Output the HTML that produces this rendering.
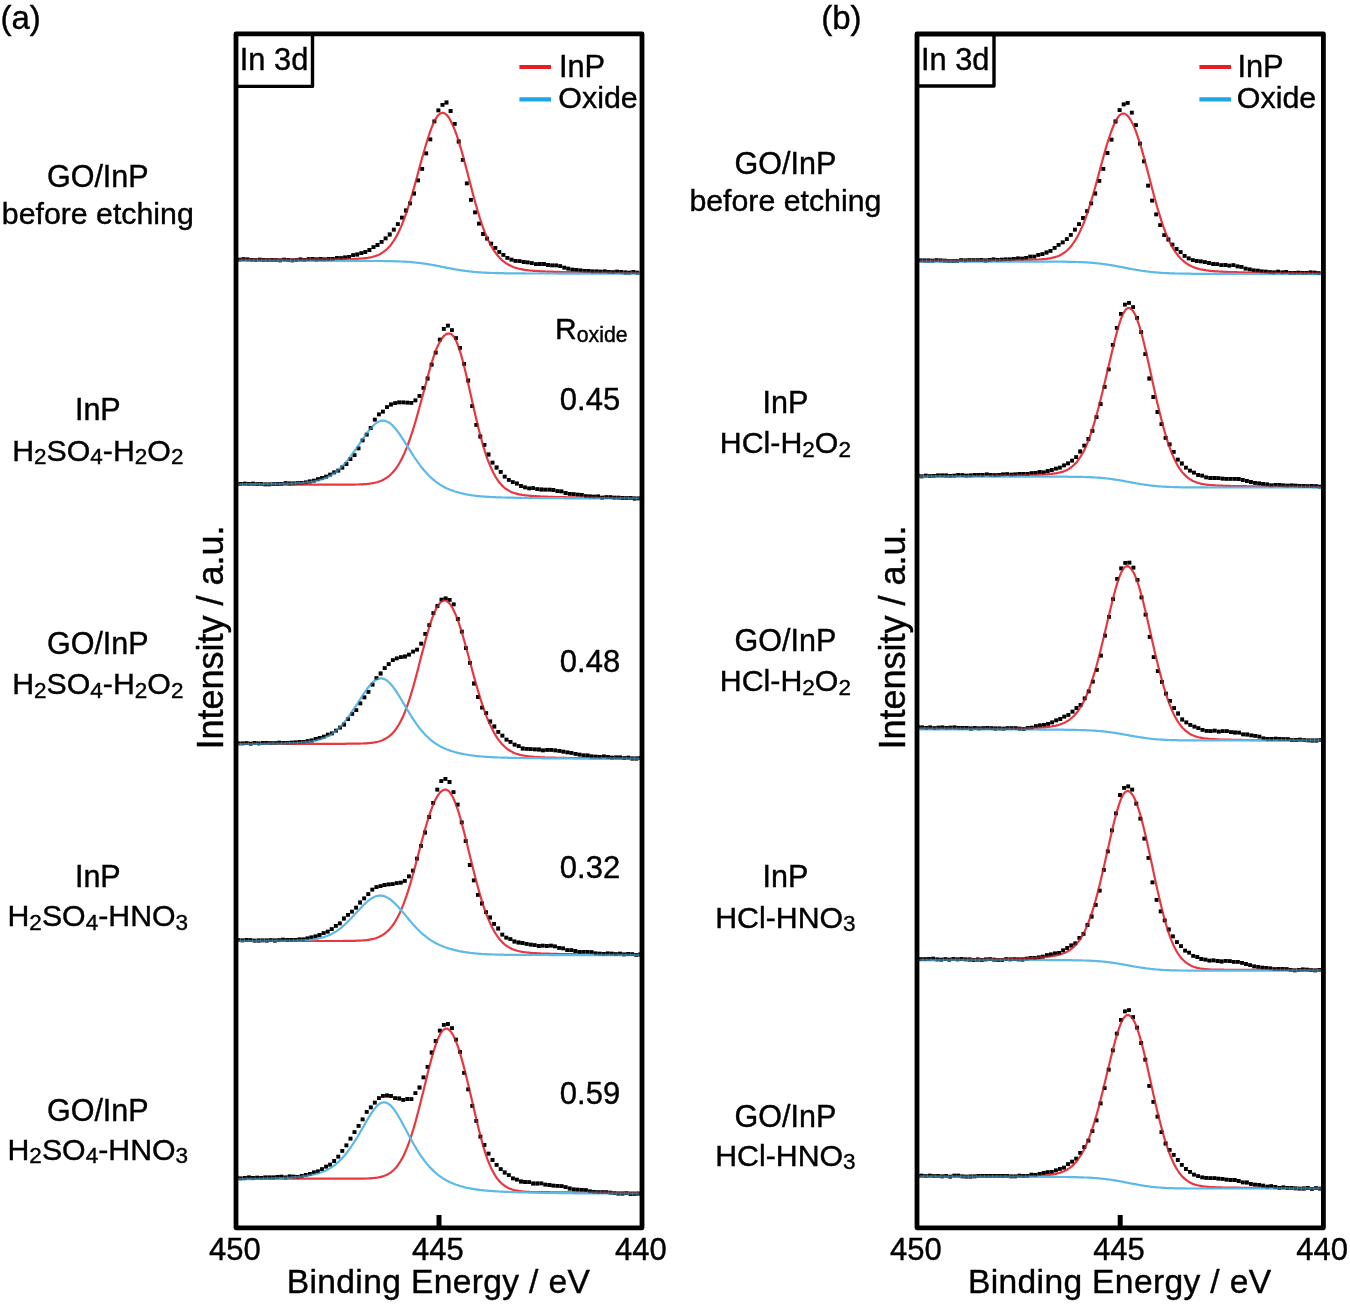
<!DOCTYPE html>
<html><head><meta charset="utf-8"><title>In 3d XPS spectra</title>
<style>html,body{margin:0;padding:0;background:#fff;} body{width:1350px;height:1305px;overflow:hidden;} svg{display:block;filter:blur(0.45px);}</style>
</head><body>
<svg width="1350" height="1305" viewBox="0 0 1350 1305"><rect width="1350" height="1305" fill="#fff"/><path d="M237.6,257.8h3.8v3.8h-3.8zM241.6,257.3h3.8v3.8h-3.8zM245.7,257.5h3.8v3.8h-3.8zM249.8,258.0h3.8v3.8h-3.8zM253.8,258.2h3.8v3.8h-3.8zM257.9,257.8h3.8v3.8h-3.8zM261.9,258.1h3.8v3.8h-3.8zM266.0,258.2h3.8v3.8h-3.8zM270.1,258.1h3.8v3.8h-3.8zM274.1,258.3h3.8v3.8h-3.8zM278.2,258.4h3.8v3.8h-3.8zM282.2,257.8h3.8v3.8h-3.8zM286.3,258.1h3.8v3.8h-3.8zM290.4,258.4h3.8v3.8h-3.8zM294.4,258.2h3.8v3.8h-3.8zM298.5,257.4h3.8v3.8h-3.8zM302.5,258.0h3.8v3.8h-3.8zM306.6,257.2h3.8v3.8h-3.8zM310.7,256.9h3.8v3.8h-3.8zM314.7,257.6h3.8v3.8h-3.8zM318.8,257.1h3.8v3.8h-3.8zM322.8,257.4h3.8v3.8h-3.8zM326.9,257.1h3.8v3.8h-3.8zM331.0,257.0h3.8v3.8h-3.8zM335.0,255.9h3.8v3.8h-3.8zM339.1,256.2h3.8v3.8h-3.8zM343.1,255.6h3.8v3.8h-3.8zM347.2,255.0h3.8v3.8h-3.8zM351.2,253.2h3.8v3.8h-3.8zM355.3,252.6h3.8v3.8h-3.8zM359.4,251.3h3.8v3.8h-3.8zM363.4,250.1h3.8v3.8h-3.8zM367.5,248.1h3.8v3.8h-3.8zM371.6,245.3h3.8v3.8h-3.8zM375.6,243.1h3.8v3.8h-3.8zM379.7,239.9h3.8v3.8h-3.8zM383.7,236.4h3.8v3.8h-3.8zM387.8,232.6h3.8v3.8h-3.8zM391.9,227.7h3.8v3.8h-3.8zM395.9,222.3h3.8v3.8h-3.8zM400.0,215.7h3.8v3.8h-3.8zM404.0,208.6h3.8v3.8h-3.8zM408.1,201.4h3.8v3.8h-3.8zM412.1,191.6h3.8v3.8h-3.8zM416.2,178.5h3.8v3.8h-3.8zM420.3,167.0h3.8v3.8h-3.8zM424.3,151.4h3.8v3.8h-3.8zM428.4,137.5h3.8v3.8h-3.8zM432.5,119.5h3.8v3.8h-3.8zM436.5,108.4h3.8v3.8h-3.8zM440.6,103.0h3.8v3.8h-3.8zM444.6,100.6h3.8v3.8h-3.8zM448.7,109.1h3.8v3.8h-3.8zM452.8,121.9h3.8v3.8h-3.8zM456.8,139.6h3.8v3.8h-3.8zM460.9,158.0h3.8v3.8h-3.8zM464.9,181.5h3.8v3.8h-3.8zM469.0,198.0h3.8v3.8h-3.8zM473.1,210.5h3.8v3.8h-3.8zM477.1,221.8h3.8v3.8h-3.8zM481.2,232.1h3.8v3.8h-3.8zM485.2,236.8h3.8v3.8h-3.8zM489.3,241.8h3.8v3.8h-3.8zM493.4,245.9h3.8v3.8h-3.8zM497.4,249.9h3.8v3.8h-3.8zM501.5,253.0h3.8v3.8h-3.8zM505.5,256.0h3.8v3.8h-3.8zM509.6,257.7h3.8v3.8h-3.8zM513.6,259.0h3.8v3.8h-3.8zM517.7,259.3h3.8v3.8h-3.8zM521.8,260.1h3.8v3.8h-3.8zM525.8,260.5h3.8v3.8h-3.8zM529.9,261.2h3.8v3.8h-3.8zM534.0,262.3h3.8v3.8h-3.8zM538.0,262.1h3.8v3.8h-3.8zM542.1,262.1h3.8v3.8h-3.8zM546.1,263.1h3.8v3.8h-3.8zM550.2,263.5h3.8v3.8h-3.8zM554.2,263.5h3.8v3.8h-3.8zM558.3,264.2h3.8v3.8h-3.8zM562.4,265.8h3.8v3.8h-3.8zM566.4,266.7h3.8v3.8h-3.8zM570.5,267.7h3.8v3.8h-3.8zM574.5,268.0h3.8v3.8h-3.8zM578.6,268.5h3.8v3.8h-3.8zM582.7,268.9h3.8v3.8h-3.8zM586.7,269.0h3.8v3.8h-3.8zM590.8,269.6h3.8v3.8h-3.8zM594.9,269.5h3.8v3.8h-3.8zM598.9,269.8h3.8v3.8h-3.8zM603.0,269.5h3.8v3.8h-3.8zM607.0,269.9h3.8v3.8h-3.8zM611.1,270.3h3.8v3.8h-3.8zM615.1,269.8h3.8v3.8h-3.8zM619.2,270.0h3.8v3.8h-3.8zM623.3,270.6h3.8v3.8h-3.8zM627.3,270.8h3.8v3.8h-3.8zM631.4,270.1h3.8v3.8h-3.8zM635.4,270.8h3.8v3.8h-3.8z" fill="#000"/><path d="M238.4,259.6 239.4,259.6 240.4,259.6 241.4,259.6 242.4,259.6 243.4,259.6 244.4,259.6 245.4,259.6 246.4,259.6 247.4,259.6 248.4,259.6 249.4,259.6 250.4,259.6 251.4,259.6 252.4,259.6 253.4,259.6 254.4,259.6 255.5,259.6 256.5,259.6 257.5,259.6 258.5,259.6 259.5,259.6 260.5,259.5 261.5,259.5 262.5,259.5 263.5,259.5 264.5,259.5 265.5,259.5 266.5,259.5 267.5,259.5 268.5,259.5 269.5,259.5 270.5,259.5 271.5,259.5 272.5,259.5 273.5,259.5 274.5,259.5 275.5,259.5 276.5,259.5 277.5,259.5 278.5,259.5 279.5,259.5 280.5,259.5 281.5,259.5 282.5,259.5 283.5,259.5 284.5,259.5 285.5,259.5 286.5,259.5 287.5,259.5 288.6,259.5 289.6,259.5 290.6,259.5 291.6,259.5 292.6,259.5 293.6,259.5 294.6,259.5 295.6,259.5 296.6,259.5 297.6,259.5 298.6,259.5 299.6,259.5 300.6,259.5 301.6,259.5 302.6,259.4 303.6,259.4 304.6,259.4 305.6,259.4 306.6,259.4 307.6,259.4 308.6,259.4 309.6,259.4 310.6,259.4 311.6,259.4 312.6,259.4 313.6,259.4 314.6,259.4 315.6,259.4 316.6,259.4 317.6,259.4 318.6,259.4 319.6,259.4 320.6,259.4 321.6,259.4 322.7,259.4 323.7,259.4 324.7,259.3 325.7,259.3 326.7,259.3 327.7,259.3 328.7,259.3 329.7,259.3 330.7,259.3 331.7,259.3 332.7,259.3 333.7,259.3 334.7,259.3 335.7,259.3 336.7,259.3 337.7,259.3 338.7,259.2 339.7,259.2 340.7,259.2 341.7,259.2 342.7,259.2 343.7,259.2 344.7,259.2 345.7,259.2 346.7,259.1 347.7,259.1 348.7,259.1 349.7,259.1 350.7,259.1 351.7,259.0 352.7,259.0 353.7,259.0 354.7,258.9 355.8,258.9 356.8,258.8 357.8,258.8 358.8,258.7 359.8,258.7 360.8,258.6 361.8,258.5 362.8,258.4 363.8,258.4 364.8,258.2 365.8,258.1 366.8,258.0 367.8,257.8 368.8,257.7 369.8,257.5 370.8,257.3 371.8,257.1 372.8,256.8 373.8,256.5 374.8,256.2 375.8,255.9 376.8,255.5 377.8,255.1 378.8,254.7 379.8,254.2 380.8,253.6 381.8,253.0 382.8,252.4 383.8,251.7 384.8,250.9 385.8,250.1 386.8,249.2 387.8,248.2 388.9,247.1 389.9,246.0 390.9,244.8 391.9,243.4 392.9,242.0 393.9,240.5 394.9,238.9 395.9,237.2 396.9,235.4 397.9,233.5 398.9,231.5 399.9,229.3 400.9,227.1 401.9,224.7 402.9,222.2 403.9,219.6 404.9,216.9 405.9,214.1 406.9,211.2 407.9,208.1 408.9,205.0 409.9,201.8 410.9,198.5 411.9,195.1 412.9,191.6 413.9,188.1 414.9,184.5 415.9,180.9 416.9,177.2 417.9,173.5 418.9,169.8 419.9,166.1 420.9,162.4 421.9,158.7 423.0,155.1 424.0,151.5 425.0,148.0 426.0,144.6 427.0,141.3 428.0,138.1 429.0,135.0 430.0,132.1 431.0,129.3 432.0,126.7 433.0,124.3 434.0,122.1 435.0,120.1 436.0,118.3 437.0,116.8 438.0,115.5 439.0,114.5 440.0,113.7 441.0,113.2 442.0,112.9 443.0,112.9 444.0,113.1 445.0,113.6 446.0,114.3 447.0,115.3 448.0,116.5 449.0,117.9 450.0,119.5 451.0,121.4 452.0,123.4 453.0,125.7 454.0,128.1 455.0,130.7 456.1,133.5 457.1,136.4 458.1,139.4 459.1,142.6 460.1,145.9 461.1,149.3 462.1,152.8 463.1,156.4 464.1,160.1 465.1,163.9 466.1,167.6 467.1,171.5 468.1,175.3 469.1,179.2 470.1,183.1 471.1,186.9 472.1,190.8 473.1,194.6 474.1,198.3 475.1,202.0 476.1,205.5 477.1,209.0 478.1,212.4 479.1,215.7 480.1,218.9 481.1,222.0 482.1,225.0 483.1,227.8 484.1,230.5 485.1,233.1 486.1,235.5 487.1,237.8 488.1,240.0 489.2,242.1 490.2,244.1 491.2,246.0 492.2,247.7 493.2,249.4 494.2,250.9 495.2,252.4 496.2,253.7 497.2,255.0 498.2,256.2 499.2,257.3 500.2,258.4 501.2,259.4 502.2,260.3 503.2,261.1 504.2,261.9 505.2,262.7 506.2,263.4 507.2,264.0 508.2,264.6 509.2,265.1 510.2,265.6 511.2,266.1 512.2,266.5 513.2,267.0 514.2,267.3 515.2,267.7 516.2,268.0 517.2,268.3 518.2,268.5 519.2,268.8 520.2,269.0 521.2,269.2 522.2,269.4 523.3,269.6 524.3,269.8 525.3,269.9 526.3,270.1 527.3,270.2 528.3,270.3 529.3,270.4 530.3,270.5 531.3,270.6 532.3,270.7 533.3,270.8 534.3,270.9 535.3,270.9 536.3,271.0 537.3,271.1 538.3,271.1 539.3,271.2 540.3,271.3 541.3,271.3 542.3,271.4 543.3,271.4 544.3,271.4 545.3,271.5 546.3,271.5 547.3,271.6 548.3,271.6 549.3,271.6 550.3,271.7 551.3,271.7 552.3,271.7 553.3,271.8 554.3,271.8 555.3,271.8 556.4,271.9 557.4,271.9 558.4,271.9 559.4,271.9 560.4,272.0 561.4,272.0 562.4,272.0 563.4,272.0 564.4,272.1 565.4,272.1 566.4,272.1 567.4,272.1 568.4,272.1 569.4,272.2 570.4,272.2 571.4,272.2 572.4,272.2 573.4,272.2 574.4,272.3 575.4,272.3 576.4,272.3 577.4,272.3 578.4,272.3 579.4,272.3 580.4,272.4 581.4,272.4 582.4,272.4 583.4,272.4 584.4,272.4 585.4,272.4 586.4,272.4 587.4,272.5 588.4,272.5 589.5,272.5 590.5,272.5 591.5,272.5 592.5,272.5 593.5,272.5 594.5,272.5 595.5,272.6 596.5,272.6 597.5,272.6 598.5,272.6 599.5,272.6 600.5,272.6 601.5,272.6 602.5,272.6 603.5,272.6 604.5,272.7 605.5,272.7 606.5,272.7 607.5,272.7 608.5,272.7 609.5,272.7 610.5,272.7 611.5,272.7 612.5,272.7 613.5,272.7 614.5,272.7 615.5,272.8 616.5,272.8 617.5,272.8 618.5,272.8 619.5,272.8 620.5,272.8 621.5,272.8 622.5,272.8 623.6,272.8 624.6,272.8 625.6,272.8 626.6,272.8 627.6,272.8 628.6,272.8 629.6,272.9 630.6,272.9 631.6,272.9 632.6,272.9 633.6,272.9 634.6,272.9 635.6,272.9 636.6,272.9 637.6,272.9 638.6,272.9 639.6,272.9" fill="none" stroke="#e8383f" stroke-width="2.2"/><path d="M238.4,260.9 239.4,260.9 240.4,260.9 241.4,260.9 242.4,260.9 243.4,260.9 244.4,260.9 245.4,260.9 246.4,260.9 247.4,260.9 248.4,260.9 249.4,260.9 250.4,260.9 251.4,260.9 252.4,260.9 253.4,260.9 254.4,260.9 255.5,260.9 256.5,260.9 257.5,260.9 258.5,260.9 259.5,260.9 260.5,260.9 261.5,260.9 262.5,260.9 263.5,260.9 264.5,260.9 265.5,260.9 266.5,260.9 267.5,260.9 268.5,260.9 269.5,260.9 270.5,260.9 271.5,260.9 272.5,260.9 273.5,260.9 274.5,260.9 275.5,260.9 276.5,260.9 277.5,260.9 278.5,260.9 279.5,260.9 280.5,260.9 281.5,260.9 282.5,260.9 283.5,260.9 284.5,260.9 285.5,260.9 286.5,260.9 287.5,260.9 288.6,260.9 289.6,260.9 290.6,260.9 291.6,260.9 292.6,260.9 293.6,260.9 294.6,260.9 295.6,260.9 296.6,260.9 297.6,260.9 298.6,260.9 299.6,260.9 300.6,260.9 301.6,260.9 302.6,260.9 303.6,260.9 304.6,260.9 305.6,260.9 306.6,260.9 307.6,260.9 308.6,260.9 309.6,260.9 310.6,260.9 311.6,260.9 312.6,260.9 313.6,260.9 314.6,260.9 315.6,260.9 316.6,260.9 317.6,260.9 318.6,260.9 319.6,260.9 320.6,260.9 321.6,260.9 322.7,260.9 323.7,260.9 324.7,260.9 325.7,260.9 326.7,260.9 327.7,260.9 328.7,260.9 329.7,260.9 330.7,260.9 331.7,260.9 332.7,260.9 333.7,260.9 334.7,260.9 335.7,260.9 336.7,260.9 337.7,260.9 338.7,260.9 339.7,260.9 340.7,260.9 341.7,260.9 342.7,260.9 343.7,260.9 344.7,260.9 345.7,260.9 346.7,260.9 347.7,260.9 348.7,260.9 349.7,260.9 350.7,260.9 351.7,260.9 352.7,260.9 353.7,260.9 354.7,260.9 355.8,260.9 356.8,260.9 357.8,260.9 358.8,260.9 359.8,260.9 360.8,260.9 361.8,260.9 362.8,260.9 363.8,260.9 364.8,260.9 365.8,260.9 366.8,261.0 367.8,261.0 368.8,261.0 369.8,261.0 370.8,261.0 371.8,261.0 372.8,261.0 373.8,261.0 374.8,261.0 375.8,261.0 376.8,261.0 377.8,261.0 378.8,261.0 379.8,261.0 380.8,261.0 381.8,261.0 382.8,261.0 383.8,261.0 384.8,261.1 385.8,261.1 386.8,261.1 387.8,261.1 388.9,261.1 389.9,261.1 390.9,261.2 391.9,261.2 392.9,261.2 393.9,261.2 394.9,261.3 395.9,261.3 396.9,261.3 397.9,261.4 398.9,261.4 399.9,261.4 400.9,261.5 401.9,261.5 402.9,261.6 403.9,261.6 404.9,261.7 405.9,261.7 406.9,261.8 407.9,261.9 408.9,261.9 409.9,262.0 410.9,262.1 411.9,262.2 412.9,262.3 413.9,262.4 414.9,262.5 415.9,262.6 416.9,262.7 417.9,262.8 418.9,262.9 419.9,263.0 420.9,263.2 421.9,263.3 423.0,263.4 424.0,263.6 425.0,263.7 426.0,263.9 427.0,264.0 428.0,264.2 429.0,264.4 430.0,264.5 431.0,264.7 432.0,264.9 433.0,265.1 434.0,265.2 435.0,265.4 436.0,265.6 437.0,265.8 438.0,266.0 439.0,266.2 440.0,266.4 441.0,266.6 442.0,266.8 443.0,267.0 444.0,267.2 445.0,267.4 446.0,267.6 447.0,267.8 448.0,268.0 449.0,268.2 450.0,268.4 451.0,268.6 452.0,268.7 453.0,268.9 454.0,269.1 455.0,269.3 456.1,269.5 457.1,269.6 458.1,269.8 459.1,270.0 460.1,270.1 461.1,270.3 462.1,270.4 463.1,270.6 464.1,270.7 465.1,270.9 466.1,271.0 467.1,271.1 468.1,271.2 469.1,271.4 470.1,271.5 471.1,271.6 472.1,271.7 473.1,271.8 474.1,271.9 475.1,272.0 476.1,272.1 477.1,272.1 478.1,272.2 479.1,272.3 480.1,272.4 481.1,272.4 482.1,272.5 483.1,272.6 484.1,272.6 485.1,272.7 486.1,272.7 487.1,272.8 488.1,272.8 489.2,272.9 490.2,272.9 491.2,272.9 492.2,273.0 493.2,273.0 494.2,273.0 495.2,273.1 496.2,273.1 497.2,273.1 498.2,273.1 499.2,273.2 500.2,273.2 501.2,273.2 502.2,273.2 503.2,273.2 504.2,273.3 505.2,273.3 506.2,273.3 507.2,273.3 508.2,273.3 509.2,273.3 510.2,273.3 511.2,273.4 512.2,273.4 513.2,273.4 514.2,273.4 515.2,273.4 516.2,273.4 517.2,273.4 518.2,273.4 519.2,273.4 520.2,273.4 521.2,273.4 522.2,273.4 523.3,273.4 524.3,273.4 525.3,273.5 526.3,273.5 527.3,273.5 528.3,273.5 529.3,273.5 530.3,273.5 531.3,273.5 532.3,273.5 533.3,273.5 534.3,273.5 535.3,273.5 536.3,273.5 537.3,273.5 538.3,273.5 539.3,273.5 540.3,273.5 541.3,273.5 542.3,273.5 543.3,273.5 544.3,273.5 545.3,273.5 546.3,273.5 547.3,273.5 548.3,273.5 549.3,273.5 550.3,273.5 551.3,273.5 552.3,273.5 553.3,273.5 554.3,273.5 555.3,273.5 556.4,273.5 557.4,273.6 558.4,273.6 559.4,273.6 560.4,273.6 561.4,273.6 562.4,273.6 563.4,273.6 564.4,273.6 565.4,273.6 566.4,273.6 567.4,273.6 568.4,273.6 569.4,273.6 570.4,273.6 571.4,273.6 572.4,273.6 573.4,273.6 574.4,273.6 575.4,273.6 576.4,273.6 577.4,273.6 578.4,273.6 579.4,273.6 580.4,273.6 581.4,273.6 582.4,273.6 583.4,273.6 584.4,273.6 585.4,273.6 586.4,273.6 587.4,273.6 588.4,273.6 589.5,273.6 590.5,273.6 591.5,273.6 592.5,273.6 593.5,273.6 594.5,273.6 595.5,273.6 596.5,273.6 597.5,273.6 598.5,273.6 599.5,273.6 600.5,273.6 601.5,273.6 602.5,273.6 603.5,273.6 604.5,273.6 605.5,273.6 606.5,273.6 607.5,273.6 608.5,273.6 609.5,273.6 610.5,273.6 611.5,273.6 612.5,273.6 613.5,273.6 614.5,273.6 615.5,273.6 616.5,273.6 617.5,273.6 618.5,273.6 619.5,273.6 620.5,273.6 621.5,273.6 622.5,273.6 623.6,273.6 624.6,273.6 625.6,273.6 626.6,273.6 627.6,273.6 628.6,273.6 629.6,273.6 630.6,273.7 631.6,273.7 632.6,273.7 633.6,273.7 634.6,273.7 635.6,273.7 636.6,273.7 637.6,273.7 638.6,273.7 639.6,273.7" fill="none" stroke="#5db9e6" stroke-width="2.2"/><path d="M237.6,257.8h3.8v3.8h-3.8zM241.6,257.3h3.8v3.8h-3.8zM245.7,257.5h3.8v3.8h-3.8zM249.8,258.0h3.8v3.8h-3.8zM253.8,258.2h3.8v3.8h-3.8zM257.9,257.8h3.8v3.8h-3.8zM261.9,258.1h3.8v3.8h-3.8zM266.0,258.2h3.8v3.8h-3.8zM270.1,258.1h3.8v3.8h-3.8zM274.1,258.3h3.8v3.8h-3.8zM278.2,258.4h3.8v3.8h-3.8zM282.2,257.8h3.8v3.8h-3.8zM286.3,258.1h3.8v3.8h-3.8zM290.4,258.4h3.8v3.8h-3.8zM294.4,258.2h3.8v3.8h-3.8zM298.5,257.4h3.8v3.8h-3.8zM302.5,258.0h3.8v3.8h-3.8zM306.6,257.2h3.8v3.8h-3.8zM310.7,256.9h3.8v3.8h-3.8zM314.7,257.6h3.8v3.8h-3.8zM318.8,257.1h3.8v3.8h-3.8zM322.8,257.4h3.8v3.8h-3.8zM326.9,257.1h3.8v3.8h-3.8zM331.0,257.0h3.8v3.8h-3.8zM335.0,255.9h3.8v3.8h-3.8zM339.1,256.2h3.8v3.8h-3.8zM343.1,255.6h3.8v3.8h-3.8zM347.2,255.0h3.8v3.8h-3.8zM351.2,253.2h3.8v3.8h-3.8zM355.3,252.6h3.8v3.8h-3.8zM359.4,251.3h3.8v3.8h-3.8zM363.4,250.1h3.8v3.8h-3.8zM367.5,248.1h3.8v3.8h-3.8zM371.6,245.3h3.8v3.8h-3.8zM375.6,243.1h3.8v3.8h-3.8zM379.7,239.9h3.8v3.8h-3.8zM383.7,236.4h3.8v3.8h-3.8zM387.8,232.6h3.8v3.8h-3.8zM391.9,227.7h3.8v3.8h-3.8zM395.9,222.3h3.8v3.8h-3.8zM400.0,215.7h3.8v3.8h-3.8zM404.0,208.6h3.8v3.8h-3.8zM408.1,201.4h3.8v3.8h-3.8zM412.1,191.6h3.8v3.8h-3.8zM416.2,178.5h3.8v3.8h-3.8zM420.3,167.0h3.8v3.8h-3.8zM424.3,151.4h3.8v3.8h-3.8zM428.4,137.5h3.8v3.8h-3.8zM432.5,119.5h3.8v3.8h-3.8zM436.5,108.4h3.8v3.8h-3.8zM440.6,103.0h3.8v3.8h-3.8zM444.6,100.6h3.8v3.8h-3.8zM448.7,109.1h3.8v3.8h-3.8zM452.8,121.9h3.8v3.8h-3.8zM456.8,139.6h3.8v3.8h-3.8zM460.9,158.0h3.8v3.8h-3.8zM464.9,181.5h3.8v3.8h-3.8zM469.0,198.0h3.8v3.8h-3.8zM473.1,210.5h3.8v3.8h-3.8zM477.1,221.8h3.8v3.8h-3.8zM481.2,232.1h3.8v3.8h-3.8zM485.2,236.8h3.8v3.8h-3.8zM489.3,241.8h3.8v3.8h-3.8zM493.4,245.9h3.8v3.8h-3.8zM497.4,249.9h3.8v3.8h-3.8zM501.5,253.0h3.8v3.8h-3.8zM505.5,256.0h3.8v3.8h-3.8zM509.6,257.7h3.8v3.8h-3.8zM513.6,259.0h3.8v3.8h-3.8zM517.7,259.3h3.8v3.8h-3.8zM521.8,260.1h3.8v3.8h-3.8zM525.8,260.5h3.8v3.8h-3.8zM529.9,261.2h3.8v3.8h-3.8zM534.0,262.3h3.8v3.8h-3.8zM538.0,262.1h3.8v3.8h-3.8zM542.1,262.1h3.8v3.8h-3.8zM546.1,263.1h3.8v3.8h-3.8zM550.2,263.5h3.8v3.8h-3.8zM554.2,263.5h3.8v3.8h-3.8zM558.3,264.2h3.8v3.8h-3.8zM562.4,265.8h3.8v3.8h-3.8zM566.4,266.7h3.8v3.8h-3.8zM570.5,267.7h3.8v3.8h-3.8zM574.5,268.0h3.8v3.8h-3.8zM578.6,268.5h3.8v3.8h-3.8zM582.7,268.9h3.8v3.8h-3.8zM586.7,269.0h3.8v3.8h-3.8zM590.8,269.6h3.8v3.8h-3.8zM594.9,269.5h3.8v3.8h-3.8zM598.9,269.8h3.8v3.8h-3.8zM603.0,269.5h3.8v3.8h-3.8zM607.0,269.9h3.8v3.8h-3.8zM611.1,270.3h3.8v3.8h-3.8zM615.1,269.8h3.8v3.8h-3.8zM619.2,270.0h3.8v3.8h-3.8zM623.3,270.6h3.8v3.8h-3.8zM627.3,270.8h3.8v3.8h-3.8zM631.4,270.1h3.8v3.8h-3.8zM635.4,270.8h3.8v3.8h-3.8z" fill="#000" fill-opacity="0.45"/><path d="M234.8,482.3h3.8v3.8h-3.8zM238.9,481.9h3.8v3.8h-3.8zM243.0,481.8h3.8v3.8h-3.8zM247.0,481.9h3.8v3.8h-3.8zM251.1,481.8h3.8v3.8h-3.8zM255.2,482.2h3.8v3.8h-3.8zM259.2,482.0h3.8v3.8h-3.8zM263.3,482.4h3.8v3.8h-3.8zM267.3,482.4h3.8v3.8h-3.8zM271.4,482.2h3.8v3.8h-3.8zM275.5,482.1h3.8v3.8h-3.8zM279.5,481.9h3.8v3.8h-3.8zM283.6,481.3h3.8v3.8h-3.8zM287.6,481.6h3.8v3.8h-3.8zM291.7,481.4h3.8v3.8h-3.8zM295.8,481.2h3.8v3.8h-3.8zM299.8,481.0h3.8v3.8h-3.8zM303.9,480.5h3.8v3.8h-3.8zM307.9,479.6h3.8v3.8h-3.8zM312.0,478.8h3.8v3.8h-3.8zM316.1,477.2h3.8v3.8h-3.8zM320.1,475.9h3.8v3.8h-3.8zM324.2,474.7h3.8v3.8h-3.8zM328.2,472.7h3.8v3.8h-3.8zM332.3,470.4h3.8v3.8h-3.8zM336.4,468.8h3.8v3.8h-3.8zM340.4,465.6h3.8v3.8h-3.8zM344.5,462.1h3.8v3.8h-3.8zM348.5,457.2h3.8v3.8h-3.8zM352.6,453.2h3.8v3.8h-3.8zM356.6,446.5h3.8v3.8h-3.8zM360.7,438.5h3.8v3.8h-3.8zM364.8,432.7h3.8v3.8h-3.8zM368.8,426.1h3.8v3.8h-3.8zM372.9,417.7h3.8v3.8h-3.8zM377.0,412.5h3.8v3.8h-3.8zM381.0,409.8h3.8v3.8h-3.8zM385.1,405.2h3.8v3.8h-3.8zM389.1,402.6h3.8v3.8h-3.8zM393.2,401.2h3.8v3.8h-3.8zM397.2,400.5h3.8v3.8h-3.8zM401.3,400.5h3.8v3.8h-3.8zM405.4,400.8h3.8v3.8h-3.8zM409.4,400.9h3.8v3.8h-3.8zM413.5,398.4h3.8v3.8h-3.8zM417.6,393.9h3.8v3.8h-3.8zM421.6,386.0h3.8v3.8h-3.8zM425.7,376.6h3.8v3.8h-3.8zM429.7,362.7h3.8v3.8h-3.8zM433.8,350.7h3.8v3.8h-3.8zM437.9,337.7h3.8v3.8h-3.8zM441.9,327.0h3.8v3.8h-3.8zM446.0,323.7h3.8v3.8h-3.8zM450.0,328.3h3.8v3.8h-3.8zM454.1,336.2h3.8v3.8h-3.8zM458.1,346.0h3.8v3.8h-3.8zM462.2,362.0h3.8v3.8h-3.8zM466.3,378.6h3.8v3.8h-3.8zM470.3,404.2h3.8v3.8h-3.8zM474.4,423.0h3.8v3.8h-3.8zM478.4,434.6h3.8v3.8h-3.8zM482.5,442.9h3.8v3.8h-3.8zM486.6,452.6h3.8v3.8h-3.8zM490.6,460.7h3.8v3.8h-3.8zM494.7,465.6h3.8v3.8h-3.8zM498.8,469.9h3.8v3.8h-3.8zM502.8,474.8h3.8v3.8h-3.8zM506.9,478.0h3.8v3.8h-3.8zM510.9,480.2h3.8v3.8h-3.8zM515.0,481.6h3.8v3.8h-3.8zM519.1,484.1h3.8v3.8h-3.8zM523.1,485.4h3.8v3.8h-3.8zM527.2,486.5h3.8v3.8h-3.8zM531.2,486.2h3.8v3.8h-3.8zM535.3,487.2h3.8v3.8h-3.8zM539.4,487.6h3.8v3.8h-3.8zM543.4,487.7h3.8v3.8h-3.8zM547.5,487.8h3.8v3.8h-3.8zM551.5,488.1h3.8v3.8h-3.8zM555.6,489.2h3.8v3.8h-3.8zM559.6,489.5h3.8v3.8h-3.8zM563.7,491.1h3.8v3.8h-3.8zM567.8,491.9h3.8v3.8h-3.8zM571.8,492.3h3.8v3.8h-3.8zM575.9,492.7h3.8v3.8h-3.8zM579.9,493.0h3.8v3.8h-3.8zM584.0,494.3h3.8v3.8h-3.8zM588.1,494.5h3.8v3.8h-3.8zM592.1,494.8h3.8v3.8h-3.8zM596.2,494.5h3.8v3.8h-3.8zM600.2,495.7h3.8v3.8h-3.8zM604.3,495.2h3.8v3.8h-3.8zM608.4,495.3h3.8v3.8h-3.8zM612.4,495.7h3.8v3.8h-3.8zM616.5,495.8h3.8v3.8h-3.8zM620.6,496.1h3.8v3.8h-3.8zM624.6,496.2h3.8v3.8h-3.8zM628.7,495.9h3.8v3.8h-3.8zM632.7,496.6h3.8v3.8h-3.8zM636.8,496.4h3.8v3.8h-3.8z" fill="#000"/><path d="M238.4,484.7 239.4,484.7 240.4,484.7 241.4,484.7 242.4,484.7 243.4,484.7 244.4,484.7 245.4,484.7 246.4,484.7 247.4,484.7 248.4,484.7 249.4,484.7 250.4,484.7 251.4,484.7 252.4,484.7 253.4,484.7 254.4,484.7 255.5,484.7 256.5,484.7 257.5,484.7 258.5,484.7 259.5,484.7 260.5,484.7 261.5,484.7 262.5,484.7 263.5,484.7 264.5,484.7 265.5,484.7 266.5,484.7 267.5,484.7 268.5,484.7 269.5,484.7 270.5,484.7 271.5,484.7 272.5,484.7 273.5,484.7 274.5,484.7 275.5,484.7 276.5,484.7 277.5,484.7 278.5,484.7 279.5,484.7 280.5,484.7 281.5,484.7 282.5,484.7 283.5,484.7 284.5,484.7 285.5,484.7 286.5,484.7 287.5,484.7 288.6,484.7 289.6,484.7 290.6,484.7 291.6,484.7 292.6,484.7 293.6,484.7 294.6,484.7 295.6,484.7 296.6,484.7 297.6,484.7 298.6,484.7 299.6,484.7 300.6,484.7 301.6,484.7 302.6,484.7 303.6,484.7 304.6,484.7 305.6,484.7 306.6,484.7 307.6,484.7 308.6,484.7 309.6,484.7 310.6,484.7 311.6,484.7 312.6,484.7 313.6,484.7 314.6,484.7 315.6,484.7 316.6,484.7 317.6,484.7 318.6,484.7 319.6,484.7 320.6,484.7 321.6,484.7 322.7,484.7 323.7,484.7 324.7,484.7 325.7,484.7 326.7,484.7 327.7,484.7 328.7,484.7 329.7,484.7 330.7,484.7 331.7,484.7 332.7,484.7 333.7,484.7 334.7,484.7 335.7,484.7 336.7,484.7 337.7,484.7 338.7,484.7 339.7,484.7 340.7,484.7 341.7,484.7 342.7,484.7 343.7,484.7 344.7,484.7 345.7,484.7 346.7,484.7 347.7,484.7 348.7,484.7 349.7,484.6 350.7,484.6 351.7,484.6 352.7,484.6 353.7,484.6 354.7,484.6 355.8,484.5 356.8,484.5 357.8,484.5 358.8,484.5 359.8,484.4 360.8,484.4 361.8,484.3 362.8,484.3 363.8,484.2 364.8,484.2 365.8,484.1 366.8,484.0 367.8,483.9 368.8,483.8 369.8,483.6 370.8,483.5 371.8,483.4 372.8,483.2 373.8,483.0 374.8,482.8 375.8,482.5 376.8,482.3 377.8,482.0 378.8,481.6 379.8,481.3 380.8,480.9 381.8,480.5 382.8,480.0 383.8,479.5 384.8,478.9 385.8,478.3 386.8,477.6 387.8,476.9 388.9,476.1 389.9,475.2 390.9,474.3 391.9,473.3 392.9,472.2 393.9,471.1 394.9,469.8 395.9,468.5 396.9,467.1 397.9,465.6 398.9,464.0 399.9,462.3 400.9,460.4 401.9,458.5 402.9,456.5 403.9,454.4 404.9,452.1 405.9,449.7 406.9,447.3 407.9,444.7 408.9,442.0 409.9,439.2 410.9,436.2 411.9,433.2 412.9,430.1 413.9,426.8 414.9,423.5 415.9,420.1 416.9,416.6 417.9,413.0 418.9,409.4 419.9,405.7 420.9,402.0 421.9,398.2 423.0,394.4 424.0,390.6 425.0,386.8 426.0,383.0 427.0,379.3 428.0,375.6 429.0,372.0 430.0,368.5 431.0,365.1 432.0,361.8 433.0,358.7 434.0,355.7 435.0,352.9 436.0,350.2 437.0,347.7 438.0,345.5 439.0,343.4 440.0,341.5 441.0,339.8 442.0,338.3 443.0,337.0 444.0,335.9 445.0,335.0 446.0,334.3 447.0,333.9 448.0,333.6 449.0,333.5 450.0,333.6 451.0,334.0 452.0,334.7 453.0,335.7 454.0,337.0 455.0,338.7 456.1,340.7 457.1,343.0 458.1,345.6 459.1,348.5 460.1,351.6 461.1,354.9 462.1,358.5 463.1,362.3 464.1,366.2 465.1,370.3 466.1,374.4 467.1,378.7 468.1,383.1 469.1,387.5 470.1,392.0 471.1,396.5 472.1,400.9 473.1,405.4 474.1,409.8 475.1,414.1 476.1,418.4 477.1,422.6 478.1,426.7 479.1,430.7 480.1,434.6 481.1,438.3 482.1,442.0 483.1,445.5 484.1,448.8 485.1,452.0 486.1,455.1 487.1,458.0 488.1,460.8 489.2,463.4 490.2,465.9 491.2,468.2 492.2,470.4 493.2,472.5 494.2,474.4 495.2,476.2 496.2,477.9 497.2,479.4 498.2,480.9 499.2,482.2 500.2,483.4 501.2,484.6 502.2,485.6 503.2,486.6 504.2,487.5 505.2,488.3 506.2,489.0 507.2,489.7 508.2,490.3 509.2,490.9 510.2,491.4 511.2,491.9 512.2,492.3 513.2,492.7 514.2,493.0 515.2,493.3 516.2,493.6 517.2,493.9 518.2,494.1 519.2,494.4 520.2,494.6 521.2,494.7 522.2,494.9 523.3,495.0 524.3,495.2 525.3,495.3 526.3,495.4 527.3,495.5 528.3,495.6 529.3,495.7 530.3,495.8 531.3,495.9 532.3,496.0 533.3,496.0 534.3,496.1 535.3,496.2 536.3,496.2 537.3,496.3 538.3,496.3 539.3,496.4 540.3,496.4 541.3,496.5 542.3,496.5 543.3,496.6 544.3,496.6 545.3,496.7 546.3,496.7 547.3,496.7 548.3,496.8 549.3,496.8 550.3,496.8 551.3,496.9 552.3,496.9 553.3,496.9 554.3,497.0 555.3,497.0 556.4,497.0 557.4,497.1 558.4,497.1 559.4,497.1 560.4,497.1 561.4,497.2 562.4,497.2 563.4,497.2 564.4,497.2 565.4,497.2 566.4,497.3 567.4,497.3 568.4,497.3 569.4,497.3 570.4,497.4 571.4,497.4 572.4,497.4 573.4,497.4 574.4,497.4 575.4,497.4 576.4,497.5 577.4,497.5 578.4,497.5 579.4,497.5 580.4,497.5 581.4,497.5 582.4,497.6 583.4,497.6 584.4,497.6 585.4,497.6 586.4,497.6 587.4,497.6 588.4,497.6 589.5,497.7 590.5,497.7 591.5,497.7 592.5,497.7 593.5,497.7 594.5,497.7 595.5,497.7 596.5,497.7 597.5,497.8 598.5,497.8 599.5,497.8 600.5,497.8 601.5,497.8 602.5,497.8 603.5,497.8 604.5,497.8 605.5,497.8 606.5,497.8 607.5,497.9 608.5,497.9 609.5,497.9 610.5,497.9 611.5,497.9 612.5,497.9 613.5,497.9 614.5,497.9 615.5,497.9 616.5,497.9 617.5,497.9 618.5,497.9 619.5,497.9 620.5,498.0 621.5,498.0 622.5,498.0 623.6,498.0 624.6,498.0 625.6,498.0 626.6,498.0 627.6,498.0 628.6,498.0 629.6,498.0 630.6,498.0 631.6,498.0 632.6,498.0 633.6,498.0 634.6,498.0 635.6,498.1 636.6,498.1 637.6,498.1 638.6,498.1 639.6,498.1" fill="none" stroke="#e8383f" stroke-width="2.2"/><path d="M238.4,484.3 239.4,484.3 240.4,484.3 241.4,484.3 242.4,484.3 243.4,484.3 244.4,484.3 245.4,484.3 246.4,484.2 247.4,484.2 248.4,484.2 249.4,484.2 250.4,484.2 251.4,484.2 252.4,484.2 253.4,484.2 254.4,484.2 255.5,484.2 256.5,484.1 257.5,484.1 258.5,484.1 259.5,484.1 260.5,484.1 261.5,484.1 262.5,484.1 263.5,484.1 264.5,484.0 265.5,484.0 266.5,484.0 267.5,484.0 268.5,484.0 269.5,484.0 270.5,483.9 271.5,483.9 272.5,483.9 273.5,483.9 274.5,483.9 275.5,483.9 276.5,483.8 277.5,483.8 278.5,483.8 279.5,483.8 280.5,483.8 281.5,483.7 282.5,483.7 283.5,483.7 284.5,483.7 285.5,483.6 286.5,483.6 287.5,483.6 288.6,483.5 289.6,483.5 290.6,483.5 291.6,483.4 292.6,483.4 293.6,483.3 294.6,483.3 295.6,483.3 296.6,483.2 297.6,483.1 298.6,483.1 299.6,483.0 300.6,483.0 301.6,482.9 302.6,482.8 303.6,482.7 304.6,482.6 305.6,482.5 306.6,482.4 307.6,482.3 308.6,482.2 309.6,482.1 310.6,481.9 311.6,481.8 312.6,481.6 313.6,481.4 314.6,481.3 315.6,481.1 316.6,480.8 317.6,480.6 318.6,480.3 319.6,480.1 320.6,479.8 321.6,479.5 322.7,479.1 323.7,478.8 324.7,478.4 325.7,478.0 326.7,477.5 327.7,477.1 328.7,476.5 329.7,476.0 330.7,475.5 331.7,474.9 332.7,474.2 333.7,473.6 334.7,472.8 335.7,472.1 336.7,471.3 337.7,470.5 338.7,469.6 339.7,468.7 340.7,467.8 341.7,466.8 342.7,465.8 343.7,464.7 344.7,463.6 345.7,462.5 346.7,461.3 347.7,460.1 348.7,458.8 349.7,457.6 350.7,456.2 351.7,454.9 352.7,453.5 353.7,452.1 354.7,450.7 355.8,449.3 356.8,447.8 357.8,446.3 358.8,444.9 359.8,443.4 360.8,441.9 361.8,440.4 362.8,439.0 363.8,437.5 364.8,436.1 365.8,434.7 366.8,433.3 367.8,432.0 368.8,430.7 369.8,429.5 370.8,428.3 371.8,427.2 372.8,426.1 373.8,425.2 374.8,424.3 375.8,423.4 376.8,422.7 377.8,422.1 378.8,421.6 379.8,421.2 380.8,420.9 381.8,420.7 382.8,420.6 383.8,420.6 384.8,420.8 385.8,421.0 386.8,421.4 387.8,421.9 388.9,422.5 389.9,423.2 390.9,424.0 391.9,424.8 392.9,425.8 393.9,426.9 394.9,428.0 395.9,429.2 396.9,430.5 397.9,431.8 398.9,433.2 399.9,434.6 400.9,436.1 401.9,437.6 402.9,439.1 403.9,440.7 404.9,442.3 405.9,443.9 406.9,445.4 407.9,447.0 408.9,448.6 409.9,450.2 410.9,451.8 411.9,453.4 412.9,454.9 413.9,456.5 414.9,458.0 415.9,459.5 416.9,460.9 417.9,462.3 418.9,463.7 419.9,465.1 420.9,466.4 421.9,467.7 423.0,469.0 424.0,470.2 425.0,471.4 426.0,472.5 427.0,473.6 428.0,474.7 429.0,475.7 430.0,476.7 431.0,477.6 432.0,478.5 433.0,479.4 434.0,480.2 435.0,481.0 436.0,481.8 437.0,482.5 438.0,483.3 439.0,483.9 440.0,484.6 441.0,485.2 442.0,485.8 443.0,486.4 444.0,486.9 445.0,487.4 446.0,487.9 447.0,488.4 448.0,488.8 449.0,489.3 450.0,489.7 451.0,490.1 452.0,490.4 453.0,490.8 454.0,491.2 455.0,491.5 456.1,491.8 457.1,492.1 458.1,492.4 459.1,492.7 460.1,492.9 461.1,493.2 462.1,493.4 463.1,493.7 464.1,493.9 465.1,494.1 466.1,494.3 467.1,494.5 468.1,494.7 469.1,494.8 470.1,495.0 471.1,495.2 472.1,495.3 473.1,495.5 474.1,495.6 475.1,495.7 476.1,495.8 477.1,496.0 478.1,496.1 479.1,496.2 480.1,496.3 481.1,496.4 482.1,496.4 483.1,496.5 484.1,496.6 485.1,496.7 486.1,496.7 487.1,496.8 488.1,496.9 489.2,496.9 490.2,497.0 491.2,497.0 492.2,497.1 493.2,497.1 494.2,497.2 495.2,497.2 496.2,497.3 497.2,497.3 498.2,497.3 499.2,497.4 500.2,497.4 501.2,497.4 502.2,497.5 503.2,497.5 504.2,497.5 505.2,497.5 506.2,497.6 507.2,497.6 508.2,497.6 509.2,497.6 510.2,497.7 511.2,497.7 512.2,497.7 513.2,497.7 514.2,497.7 515.2,497.8 516.2,497.8 517.2,497.8 518.2,497.8 519.2,497.8 520.2,497.8 521.2,497.8 522.2,497.9 523.3,497.9 524.3,497.9 525.3,497.9 526.3,497.9 527.3,497.9 528.3,497.9 529.3,498.0 530.3,498.0 531.3,498.0 532.3,498.0 533.3,498.0 534.3,498.0 535.3,498.0 536.3,498.0 537.3,498.0 538.3,498.0 539.3,498.1 540.3,498.1 541.3,498.1 542.3,498.1 543.3,498.1 544.3,498.1 545.3,498.1 546.3,498.1 547.3,498.1 548.3,498.1 549.3,498.1 550.3,498.2 551.3,498.2 552.3,498.2 553.3,498.2 554.3,498.2 555.3,498.2 556.4,498.2 557.4,498.2 558.4,498.2 559.4,498.2 560.4,498.2 561.4,498.2 562.4,498.2 563.4,498.2 564.4,498.3 565.4,498.3 566.4,498.3 567.4,498.3 568.4,498.3 569.4,498.3 570.4,498.3 571.4,498.3 572.4,498.3 573.4,498.3 574.4,498.3 575.4,498.3 576.4,498.3 577.4,498.3 578.4,498.3 579.4,498.3 580.4,498.3 581.4,498.3 582.4,498.3 583.4,498.4 584.4,498.4 585.4,498.4 586.4,498.4 587.4,498.4 588.4,498.4 589.5,498.4 590.5,498.4 591.5,498.4 592.5,498.4 593.5,498.4 594.5,498.4 595.5,498.4 596.5,498.4 597.5,498.4 598.5,498.4 599.5,498.4 600.5,498.4 601.5,498.4 602.5,498.4 603.5,498.4 604.5,498.4 605.5,498.4 606.5,498.4 607.5,498.4 608.5,498.5 609.5,498.5 610.5,498.5 611.5,498.5 612.5,498.5 613.5,498.5 614.5,498.5 615.5,498.5 616.5,498.5 617.5,498.5 618.5,498.5 619.5,498.5 620.5,498.5 621.5,498.5 622.5,498.5 623.6,498.5 624.6,498.5 625.6,498.5 626.6,498.5 627.6,498.5 628.6,498.5 629.6,498.5 630.6,498.5 631.6,498.5 632.6,498.5 633.6,498.5 634.6,498.5 635.6,498.5 636.6,498.5 637.6,498.5 638.6,498.5 639.6,498.5" fill="none" stroke="#5db9e6" stroke-width="2.2"/><path d="M234.8,482.3h3.8v3.8h-3.8zM238.9,481.9h3.8v3.8h-3.8zM243.0,481.8h3.8v3.8h-3.8zM247.0,481.9h3.8v3.8h-3.8zM251.1,481.8h3.8v3.8h-3.8zM255.2,482.2h3.8v3.8h-3.8zM259.2,482.0h3.8v3.8h-3.8zM263.3,482.4h3.8v3.8h-3.8zM267.3,482.4h3.8v3.8h-3.8zM271.4,482.2h3.8v3.8h-3.8zM275.5,482.1h3.8v3.8h-3.8zM279.5,481.9h3.8v3.8h-3.8zM283.6,481.3h3.8v3.8h-3.8zM287.6,481.6h3.8v3.8h-3.8zM291.7,481.4h3.8v3.8h-3.8zM295.8,481.2h3.8v3.8h-3.8zM299.8,481.0h3.8v3.8h-3.8zM303.9,480.5h3.8v3.8h-3.8zM307.9,479.6h3.8v3.8h-3.8zM312.0,478.8h3.8v3.8h-3.8zM316.1,477.2h3.8v3.8h-3.8zM320.1,475.9h3.8v3.8h-3.8zM324.2,474.7h3.8v3.8h-3.8zM328.2,472.7h3.8v3.8h-3.8zM332.3,470.4h3.8v3.8h-3.8zM336.4,468.8h3.8v3.8h-3.8zM340.4,465.6h3.8v3.8h-3.8zM344.5,462.1h3.8v3.8h-3.8zM348.5,457.2h3.8v3.8h-3.8zM352.6,453.2h3.8v3.8h-3.8zM356.6,446.5h3.8v3.8h-3.8zM360.7,438.5h3.8v3.8h-3.8zM364.8,432.7h3.8v3.8h-3.8zM368.8,426.1h3.8v3.8h-3.8zM372.9,417.7h3.8v3.8h-3.8zM377.0,412.5h3.8v3.8h-3.8zM381.0,409.8h3.8v3.8h-3.8zM385.1,405.2h3.8v3.8h-3.8zM389.1,402.6h3.8v3.8h-3.8zM393.2,401.2h3.8v3.8h-3.8zM397.2,400.5h3.8v3.8h-3.8zM401.3,400.5h3.8v3.8h-3.8zM405.4,400.8h3.8v3.8h-3.8zM409.4,400.9h3.8v3.8h-3.8zM413.5,398.4h3.8v3.8h-3.8zM417.6,393.9h3.8v3.8h-3.8zM421.6,386.0h3.8v3.8h-3.8zM425.7,376.6h3.8v3.8h-3.8zM429.7,362.7h3.8v3.8h-3.8zM433.8,350.7h3.8v3.8h-3.8zM437.9,337.7h3.8v3.8h-3.8zM441.9,327.0h3.8v3.8h-3.8zM446.0,323.7h3.8v3.8h-3.8zM450.0,328.3h3.8v3.8h-3.8zM454.1,336.2h3.8v3.8h-3.8zM458.1,346.0h3.8v3.8h-3.8zM462.2,362.0h3.8v3.8h-3.8zM466.3,378.6h3.8v3.8h-3.8zM470.3,404.2h3.8v3.8h-3.8zM474.4,423.0h3.8v3.8h-3.8zM478.4,434.6h3.8v3.8h-3.8zM482.5,442.9h3.8v3.8h-3.8zM486.6,452.6h3.8v3.8h-3.8zM490.6,460.7h3.8v3.8h-3.8zM494.7,465.6h3.8v3.8h-3.8zM498.8,469.9h3.8v3.8h-3.8zM502.8,474.8h3.8v3.8h-3.8zM506.9,478.0h3.8v3.8h-3.8zM510.9,480.2h3.8v3.8h-3.8zM515.0,481.6h3.8v3.8h-3.8zM519.1,484.1h3.8v3.8h-3.8zM523.1,485.4h3.8v3.8h-3.8zM527.2,486.5h3.8v3.8h-3.8zM531.2,486.2h3.8v3.8h-3.8zM535.3,487.2h3.8v3.8h-3.8zM539.4,487.6h3.8v3.8h-3.8zM543.4,487.7h3.8v3.8h-3.8zM547.5,487.8h3.8v3.8h-3.8zM551.5,488.1h3.8v3.8h-3.8zM555.6,489.2h3.8v3.8h-3.8zM559.6,489.5h3.8v3.8h-3.8zM563.7,491.1h3.8v3.8h-3.8zM567.8,491.9h3.8v3.8h-3.8zM571.8,492.3h3.8v3.8h-3.8zM575.9,492.7h3.8v3.8h-3.8zM579.9,493.0h3.8v3.8h-3.8zM584.0,494.3h3.8v3.8h-3.8zM588.1,494.5h3.8v3.8h-3.8zM592.1,494.8h3.8v3.8h-3.8zM596.2,494.5h3.8v3.8h-3.8zM600.2,495.7h3.8v3.8h-3.8zM604.3,495.2h3.8v3.8h-3.8zM608.4,495.3h3.8v3.8h-3.8zM612.4,495.7h3.8v3.8h-3.8zM616.5,495.8h3.8v3.8h-3.8zM620.6,496.1h3.8v3.8h-3.8zM624.6,496.2h3.8v3.8h-3.8zM628.7,495.9h3.8v3.8h-3.8zM632.7,496.6h3.8v3.8h-3.8zM636.8,496.4h3.8v3.8h-3.8z" fill="#000" fill-opacity="0.45"/><path d="M236.6,741.5h3.8v3.8h-3.8zM240.7,741.5h3.8v3.8h-3.8zM244.7,741.3h3.8v3.8h-3.8zM248.8,741.7h3.8v3.8h-3.8zM252.8,740.9h3.8v3.8h-3.8zM256.9,741.5h3.8v3.8h-3.8zM261.0,741.1h3.8v3.8h-3.8zM265.0,740.9h3.8v3.8h-3.8zM269.1,741.2h3.8v3.8h-3.8zM273.2,741.3h3.8v3.8h-3.8zM277.2,740.8h3.8v3.8h-3.8zM281.3,740.9h3.8v3.8h-3.8zM285.3,741.0h3.8v3.8h-3.8zM289.4,740.8h3.8v3.8h-3.8zM293.4,740.5h3.8v3.8h-3.8zM297.5,740.1h3.8v3.8h-3.8zM301.6,740.0h3.8v3.8h-3.8zM305.6,739.3h3.8v3.8h-3.8zM309.7,738.6h3.8v3.8h-3.8zM313.8,737.0h3.8v3.8h-3.8zM317.8,735.9h3.8v3.8h-3.8zM321.9,734.7h3.8v3.8h-3.8zM325.9,732.8h3.8v3.8h-3.8zM330.0,731.4h3.8v3.8h-3.8zM334.1,728.8h3.8v3.8h-3.8zM338.1,725.8h3.8v3.8h-3.8zM342.2,722.6h3.8v3.8h-3.8zM346.2,717.2h3.8v3.8h-3.8zM350.3,712.0h3.8v3.8h-3.8zM354.4,708.2h3.8v3.8h-3.8zM358.4,701.5h3.8v3.8h-3.8zM362.5,695.5h3.8v3.8h-3.8zM366.5,689.9h3.8v3.8h-3.8zM370.6,682.7h3.8v3.8h-3.8zM374.6,676.3h3.8v3.8h-3.8zM378.7,671.6h3.8v3.8h-3.8zM382.8,666.3h3.8v3.8h-3.8zM386.8,662.2h3.8v3.8h-3.8zM390.9,658.2h3.8v3.8h-3.8zM394.9,656.5h3.8v3.8h-3.8zM399.0,655.2h3.8v3.8h-3.8zM403.1,654.6h3.8v3.8h-3.8zM407.1,652.8h3.8v3.8h-3.8zM411.2,649.7h3.8v3.8h-3.8zM415.2,647.8h3.8v3.8h-3.8zM419.3,641.7h3.8v3.8h-3.8zM423.4,631.9h3.8v3.8h-3.8zM427.4,623.3h3.8v3.8h-3.8zM431.5,611.3h3.8v3.8h-3.8zM435.5,604.1h3.8v3.8h-3.8zM439.6,597.7h3.8v3.8h-3.8zM443.7,596.4h3.8v3.8h-3.8zM447.7,597.9h3.8v3.8h-3.8zM451.8,602.5h3.8v3.8h-3.8zM455.9,617.1h3.8v3.8h-3.8zM459.9,629.8h3.8v3.8h-3.8zM464.0,646.3h3.8v3.8h-3.8zM468.0,661.0h3.8v3.8h-3.8zM472.1,681.6h3.8v3.8h-3.8zM476.1,695.1h3.8v3.8h-3.8zM480.2,705.8h3.8v3.8h-3.8zM484.3,711.3h3.8v3.8h-3.8zM488.3,719.6h3.8v3.8h-3.8zM492.4,724.6h3.8v3.8h-3.8zM496.4,730.0h3.8v3.8h-3.8zM500.5,733.7h3.8v3.8h-3.8zM504.6,737.8h3.8v3.8h-3.8zM508.6,740.0h3.8v3.8h-3.8zM512.7,742.7h3.8v3.8h-3.8zM516.8,744.3h3.8v3.8h-3.8zM520.8,746.6h3.8v3.8h-3.8zM524.9,747.0h3.8v3.8h-3.8zM528.9,747.3h3.8v3.8h-3.8zM533.0,747.5h3.8v3.8h-3.8zM537.1,747.6h3.8v3.8h-3.8zM541.1,748.4h3.8v3.8h-3.8zM545.2,747.9h3.8v3.8h-3.8zM549.2,748.0h3.8v3.8h-3.8zM553.3,748.5h3.8v3.8h-3.8zM557.4,749.0h3.8v3.8h-3.8zM561.4,749.8h3.8v3.8h-3.8zM565.5,750.4h3.8v3.8h-3.8zM569.5,751.0h3.8v3.8h-3.8zM573.6,751.9h3.8v3.8h-3.8zM577.6,752.7h3.8v3.8h-3.8zM581.7,753.5h3.8v3.8h-3.8zM585.8,753.6h3.8v3.8h-3.8zM589.8,754.6h3.8v3.8h-3.8zM593.9,754.7h3.8v3.8h-3.8zM597.9,755.0h3.8v3.8h-3.8zM602.0,754.5h3.8v3.8h-3.8zM606.1,755.1h3.8v3.8h-3.8zM610.1,755.8h3.8v3.8h-3.8zM614.2,755.4h3.8v3.8h-3.8zM618.2,755.5h3.8v3.8h-3.8zM622.3,756.3h3.8v3.8h-3.8zM626.4,755.7h3.8v3.8h-3.8zM630.4,756.6h3.8v3.8h-3.8zM634.5,756.6h3.8v3.8h-3.8zM638.5,756.0h3.8v3.8h-3.8z" fill="#000"/><path d="M238.4,743.9 239.4,743.9 240.4,743.9 241.4,743.9 242.4,743.9 243.4,743.9 244.4,743.9 245.4,743.9 246.4,743.9 247.4,743.9 248.4,743.9 249.4,743.9 250.4,743.9 251.4,743.9 252.4,743.9 253.4,743.9 254.4,743.9 255.5,743.9 256.5,743.9 257.5,743.9 258.5,743.9 259.5,743.9 260.5,743.9 261.5,743.9 262.5,743.9 263.5,743.9 264.5,743.9 265.5,743.9 266.5,743.9 267.5,743.9 268.5,743.9 269.5,743.9 270.5,743.9 271.5,743.9 272.5,743.9 273.5,743.9 274.5,743.9 275.5,743.9 276.5,743.9 277.5,743.9 278.5,743.9 279.5,743.9 280.5,743.9 281.5,743.9 282.5,743.9 283.5,743.9 284.5,743.9 285.5,743.9 286.5,743.9 287.5,743.9 288.6,743.9 289.6,743.9 290.6,743.9 291.6,743.9 292.6,743.9 293.6,743.9 294.6,743.9 295.6,743.9 296.6,743.9 297.6,743.9 298.6,743.9 299.6,743.9 300.6,743.9 301.6,743.9 302.6,743.9 303.6,743.9 304.6,743.9 305.6,743.9 306.6,743.9 307.6,743.9 308.6,743.9 309.6,743.9 310.6,743.9 311.6,743.9 312.6,743.9 313.6,743.8 314.6,743.8 315.6,743.8 316.6,743.8 317.6,743.8 318.6,743.8 319.6,743.8 320.6,743.8 321.6,743.8 322.7,743.8 323.7,743.8 324.7,743.8 325.7,743.8 326.7,743.8 327.7,743.8 328.7,743.8 329.7,743.8 330.7,743.8 331.7,743.8 332.7,743.8 333.7,743.8 334.7,743.8 335.7,743.8 336.7,743.8 337.7,743.8 338.7,743.8 339.7,743.8 340.7,743.8 341.7,743.8 342.7,743.8 343.7,743.8 344.7,743.8 345.7,743.8 346.7,743.7 347.7,743.7 348.7,743.7 349.7,743.7 350.7,743.7 351.7,743.7 352.7,743.7 353.7,743.7 354.7,743.7 355.8,743.7 356.8,743.6 357.8,743.6 358.8,743.6 359.8,743.6 360.8,743.5 361.8,743.5 362.8,743.5 363.8,743.4 364.8,743.4 365.8,743.3 366.8,743.3 367.8,743.2 368.8,743.1 369.8,743.0 370.8,742.9 371.8,742.8 372.8,742.7 373.8,742.5 374.8,742.4 375.8,742.2 376.8,742.0 377.8,741.7 378.8,741.5 379.8,741.2 380.8,740.8 381.8,740.5 382.8,740.1 383.8,739.6 384.8,739.1 385.8,738.6 386.8,737.9 387.8,737.3 388.9,736.5 389.9,735.7 390.9,734.9 391.9,733.9 392.9,732.8 393.9,731.7 394.9,730.5 395.9,729.2 396.9,727.7 397.9,726.2 398.9,724.5 399.9,722.7 400.9,720.8 401.9,718.8 402.9,716.7 403.9,714.4 404.9,712.0 405.9,709.4 406.9,706.7 407.9,703.9 408.9,701.0 409.9,697.9 410.9,694.7 411.9,691.4 412.9,688.0 413.9,684.4 414.9,680.8 415.9,677.1 416.9,673.3 417.9,669.4 418.9,665.5 419.9,661.6 420.9,657.6 421.9,653.7 423.0,649.8 424.0,645.9 425.0,642.1 426.0,638.4 427.0,634.8 428.0,631.3 429.0,627.9 430.0,624.7 431.0,621.6 432.0,618.7 433.0,616.1 434.0,613.6 435.0,611.2 436.0,609.2 437.0,607.3 438.0,605.6 439.0,604.2 440.0,603.0 441.0,602.0 442.0,601.2 443.0,600.8 444.0,600.5 445.0,600.5 446.0,600.8 447.0,601.3 448.0,602.0 449.0,603.0 450.0,604.1 451.0,605.5 452.0,607.1 453.0,609.0 454.0,611.0 455.0,613.2 456.1,615.6 457.1,618.2 458.1,620.9 459.1,623.9 460.1,626.9 461.1,630.1 462.1,633.4 463.1,636.8 464.1,640.3 465.1,643.8 466.1,647.4 467.1,651.1 468.1,654.8 469.1,658.5 470.1,662.2 471.1,666.0 472.1,669.7 473.1,673.4 474.1,677.0 475.1,680.6 476.1,684.2 477.1,687.6 478.1,691.1 479.1,694.4 480.1,697.7 481.1,700.8 482.1,703.9 483.1,706.9 484.1,709.8 485.1,712.6 486.1,715.3 487.1,717.8 488.1,720.3 489.2,722.7 490.2,724.9 491.2,727.1 492.2,729.1 493.2,731.1 494.2,732.9 495.2,734.6 496.2,736.3 497.2,737.8 498.2,739.3 499.2,740.7 500.2,741.9 501.2,743.1 502.2,744.3 503.2,745.3 504.2,746.3 505.2,747.2 506.2,748.0 507.2,748.8 508.2,749.6 509.2,750.2 510.2,750.8 511.2,751.4 512.2,751.9 513.2,752.4 514.2,752.9 515.2,753.3 516.2,753.7 517.2,754.0 518.2,754.3 519.2,754.6 520.2,754.9 521.2,755.1 522.2,755.3 523.3,755.5 524.3,755.7 525.3,755.9 526.3,756.0 527.3,756.2 528.3,756.3 529.3,756.4 530.3,756.5 531.3,756.6 532.3,756.7 533.3,756.8 534.3,756.9 535.3,757.0 536.3,757.0 537.3,757.1 538.3,757.1 539.3,757.2 540.3,757.2 541.3,757.3 542.3,757.3 543.3,757.4 544.3,757.4 545.3,757.5 546.3,757.5 547.3,757.5 548.3,757.6 549.3,757.6 550.3,757.6 551.3,757.6 552.3,757.7 553.3,757.7 554.3,757.7 555.3,757.7 556.4,757.8 557.4,757.8 558.4,757.8 559.4,757.8 560.4,757.8 561.4,757.9 562.4,757.9 563.4,757.9 564.4,757.9 565.4,757.9 566.4,757.9 567.4,758.0 568.4,758.0 569.4,758.0 570.4,758.0 571.4,758.0 572.4,758.0 573.4,758.1 574.4,758.1 575.4,758.1 576.4,758.1 577.4,758.1 578.4,758.1 579.4,758.1 580.4,758.1 581.4,758.2 582.4,758.2 583.4,758.2 584.4,758.2 585.4,758.2 586.4,758.2 587.4,758.2 588.4,758.2 589.5,758.2 590.5,758.2 591.5,758.3 592.5,758.3 593.5,758.3 594.5,758.3 595.5,758.3 596.5,758.3 597.5,758.3 598.5,758.3 599.5,758.3 600.5,758.3 601.5,758.3 602.5,758.4 603.5,758.4 604.5,758.4 605.5,758.4 606.5,758.4 607.5,758.4 608.5,758.4 609.5,758.4 610.5,758.4 611.5,758.4 612.5,758.4 613.5,758.4 614.5,758.4 615.5,758.4 616.5,758.4 617.5,758.5 618.5,758.5 619.5,758.5 620.5,758.5 621.5,758.5 622.5,758.5 623.6,758.5 624.6,758.5 625.6,758.5 626.6,758.5 627.6,758.5 628.6,758.5 629.6,758.5 630.6,758.5 631.6,758.5 632.6,758.5 633.6,758.5 634.6,758.5 635.6,758.5 636.6,758.6 637.6,758.6 638.6,758.6 639.6,758.6" fill="none" stroke="#e8383f" stroke-width="2.2"/><path d="M238.4,744.1 239.4,744.1 240.4,744.1 241.4,744.1 242.4,744.0 243.4,744.0 244.4,744.0 245.4,744.0 246.4,744.0 247.4,744.0 248.4,744.0 249.4,744.0 250.4,744.0 251.4,744.0 252.4,743.9 253.4,743.9 254.4,743.9 255.5,743.9 256.5,743.9 257.5,743.9 258.5,743.9 259.5,743.9 260.5,743.8 261.5,743.8 262.5,743.8 263.5,743.8 264.5,743.8 265.5,743.8 266.5,743.7 267.5,743.7 268.5,743.7 269.5,743.7 270.5,743.7 271.5,743.7 272.5,743.6 273.5,743.6 274.5,743.6 275.5,743.6 276.5,743.6 277.5,743.5 278.5,743.5 279.5,743.5 280.5,743.5 281.5,743.4 282.5,743.4 283.5,743.4 284.5,743.3 285.5,743.3 286.5,743.3 287.5,743.2 288.6,743.2 289.6,743.2 290.6,743.1 291.6,743.1 292.6,743.0 293.6,743.0 294.6,743.0 295.6,742.9 296.6,742.8 297.6,742.8 298.6,742.7 299.6,742.7 300.6,742.6 301.6,742.5 302.6,742.4 303.6,742.3 304.6,742.3 305.6,742.1 306.6,742.0 307.6,741.9 308.6,741.8 309.6,741.7 310.6,741.5 311.6,741.3 312.6,741.2 313.6,741.0 314.6,740.8 315.6,740.6 316.6,740.3 317.6,740.1 318.6,739.8 319.6,739.5 320.6,739.2 321.6,738.9 322.7,738.5 323.7,738.1 324.7,737.7 325.7,737.3 326.7,736.8 327.7,736.3 328.7,735.7 329.7,735.2 330.7,734.6 331.7,733.9 332.7,733.2 333.7,732.5 334.7,731.7 335.7,730.9 336.7,730.1 337.7,729.2 338.7,728.2 339.7,727.3 340.7,726.2 341.7,725.2 342.7,724.1 343.7,722.9 344.7,721.7 345.7,720.5 346.7,719.2 347.7,717.9 348.7,716.5 349.7,715.1 350.7,713.7 351.7,712.2 352.7,710.7 353.7,709.2 354.7,707.7 355.8,706.2 356.8,704.6 357.8,703.0 358.8,701.4 359.8,699.9 360.8,698.3 361.8,696.7 362.8,695.2 363.8,693.7 364.8,692.2 365.8,690.8 366.8,689.4 367.8,688.0 368.8,686.7 369.8,685.5 370.8,684.4 371.8,683.3 372.8,682.3 373.8,681.4 374.8,680.7 375.8,680.0 376.8,679.4 377.8,679.0 378.8,678.6 379.8,678.4 380.8,678.4 381.8,678.4 382.8,678.6 383.8,678.9 384.8,679.3 385.8,679.9 386.8,680.5 387.8,681.3 388.9,682.2 389.9,683.2 390.9,684.3 391.9,685.5 392.9,686.7 393.9,688.1 394.9,689.5 395.9,690.9 396.9,692.4 397.9,694.0 398.9,695.6 399.9,697.2 400.9,698.9 401.9,700.5 402.9,702.2 403.9,703.9 404.9,705.6 405.9,707.3 406.9,709.0 407.9,710.7 408.9,712.3 409.9,713.9 410.9,715.6 411.9,717.1 412.9,718.7 413.9,720.2 414.9,721.7 415.9,723.2 416.9,724.6 417.9,725.9 418.9,727.3 419.9,728.6 420.9,729.8 421.9,731.0 423.0,732.2 424.0,733.3 425.0,734.4 426.0,735.5 427.0,736.5 428.0,737.4 429.0,738.3 430.0,739.2 431.0,740.1 432.0,740.9 433.0,741.7 434.0,742.4 435.0,743.1 436.0,743.8 437.0,744.4 438.0,745.0 439.0,745.6 440.0,746.2 441.0,746.7 442.0,747.2 443.0,747.7 444.0,748.2 445.0,748.6 446.0,749.1 447.0,749.5 448.0,749.8 449.0,750.2 450.0,750.6 451.0,750.9 452.0,751.2 453.0,751.5 454.0,751.8 455.0,752.1 456.1,752.4 457.1,752.6 458.1,752.9 459.1,753.1 460.1,753.4 461.1,753.6 462.1,753.8 463.1,754.0 464.1,754.2 465.1,754.4 466.1,754.5 467.1,754.7 468.1,754.9 469.1,755.0 470.1,755.2 471.1,755.3 472.1,755.5 473.1,755.6 474.1,755.7 475.1,755.8 476.1,756.0 477.1,756.1 478.1,756.2 479.1,756.3 480.1,756.4 481.1,756.5 482.1,756.5 483.1,756.6 484.1,756.7 485.1,756.8 486.1,756.8 487.1,756.9 488.1,757.0 489.2,757.0 490.2,757.1 491.2,757.2 492.2,757.2 493.2,757.3 494.2,757.3 495.2,757.3 496.2,757.4 497.2,757.4 498.2,757.5 499.2,757.5 500.2,757.5 501.2,757.6 502.2,757.6 503.2,757.6 504.2,757.7 505.2,757.7 506.2,757.7 507.2,757.7 508.2,757.8 509.2,757.8 510.2,757.8 511.2,757.8 512.2,757.9 513.2,757.9 514.2,757.9 515.2,757.9 516.2,757.9 517.2,758.0 518.2,758.0 519.2,758.0 520.2,758.0 521.2,758.0 522.2,758.0 523.3,758.0 524.3,758.1 525.3,758.1 526.3,758.1 527.3,758.1 528.3,758.1 529.3,758.1 530.3,758.1 531.3,758.1 532.3,758.2 533.3,758.2 534.3,758.2 535.3,758.2 536.3,758.2 537.3,758.2 538.3,758.2 539.3,758.2 540.3,758.2 541.3,758.2 542.3,758.3 543.3,758.3 544.3,758.3 545.3,758.3 546.3,758.3 547.3,758.3 548.3,758.3 549.3,758.3 550.3,758.3 551.3,758.3 552.3,758.3 553.3,758.3 554.3,758.4 555.3,758.4 556.4,758.4 557.4,758.4 558.4,758.4 559.4,758.4 560.4,758.4 561.4,758.4 562.4,758.4 563.4,758.4 564.4,758.4 565.4,758.4 566.4,758.4 567.4,758.4 568.4,758.4 569.4,758.5 570.4,758.5 571.4,758.5 572.4,758.5 573.4,758.5 574.4,758.5 575.4,758.5 576.4,758.5 577.4,758.5 578.4,758.5 579.4,758.5 580.4,758.5 581.4,758.5 582.4,758.5 583.4,758.5 584.4,758.5 585.4,758.5 586.4,758.5 587.4,758.5 588.4,758.6 589.5,758.6 590.5,758.6 591.5,758.6 592.5,758.6 593.5,758.6 594.5,758.6 595.5,758.6 596.5,758.6 597.5,758.6 598.5,758.6 599.5,758.6 600.5,758.6 601.5,758.6 602.5,758.6 603.5,758.6 604.5,758.6 605.5,758.6 606.5,758.6 607.5,758.6 608.5,758.6 609.5,758.6 610.5,758.6 611.5,758.6 612.5,758.6 613.5,758.6 614.5,758.6 615.5,758.7 616.5,758.7 617.5,758.7 618.5,758.7 619.5,758.7 620.5,758.7 621.5,758.7 622.5,758.7 623.6,758.7 624.6,758.7 625.6,758.7 626.6,758.7 627.6,758.7 628.6,758.7 629.6,758.7 630.6,758.7 631.6,758.7 632.6,758.7 633.6,758.7 634.6,758.7 635.6,758.7 636.6,758.7 637.6,758.7 638.6,758.7 639.6,758.7" fill="none" stroke="#5db9e6" stroke-width="2.2"/><path d="M236.6,741.5h3.8v3.8h-3.8zM240.7,741.5h3.8v3.8h-3.8zM244.7,741.3h3.8v3.8h-3.8zM248.8,741.7h3.8v3.8h-3.8zM252.8,740.9h3.8v3.8h-3.8zM256.9,741.5h3.8v3.8h-3.8zM261.0,741.1h3.8v3.8h-3.8zM265.0,740.9h3.8v3.8h-3.8zM269.1,741.2h3.8v3.8h-3.8zM273.2,741.3h3.8v3.8h-3.8zM277.2,740.8h3.8v3.8h-3.8zM281.3,740.9h3.8v3.8h-3.8zM285.3,741.0h3.8v3.8h-3.8zM289.4,740.8h3.8v3.8h-3.8zM293.4,740.5h3.8v3.8h-3.8zM297.5,740.1h3.8v3.8h-3.8zM301.6,740.0h3.8v3.8h-3.8zM305.6,739.3h3.8v3.8h-3.8zM309.7,738.6h3.8v3.8h-3.8zM313.8,737.0h3.8v3.8h-3.8zM317.8,735.9h3.8v3.8h-3.8zM321.9,734.7h3.8v3.8h-3.8zM325.9,732.8h3.8v3.8h-3.8zM330.0,731.4h3.8v3.8h-3.8zM334.1,728.8h3.8v3.8h-3.8zM338.1,725.8h3.8v3.8h-3.8zM342.2,722.6h3.8v3.8h-3.8zM346.2,717.2h3.8v3.8h-3.8zM350.3,712.0h3.8v3.8h-3.8zM354.4,708.2h3.8v3.8h-3.8zM358.4,701.5h3.8v3.8h-3.8zM362.5,695.5h3.8v3.8h-3.8zM366.5,689.9h3.8v3.8h-3.8zM370.6,682.7h3.8v3.8h-3.8zM374.6,676.3h3.8v3.8h-3.8zM378.7,671.6h3.8v3.8h-3.8zM382.8,666.3h3.8v3.8h-3.8zM386.8,662.2h3.8v3.8h-3.8zM390.9,658.2h3.8v3.8h-3.8zM394.9,656.5h3.8v3.8h-3.8zM399.0,655.2h3.8v3.8h-3.8zM403.1,654.6h3.8v3.8h-3.8zM407.1,652.8h3.8v3.8h-3.8zM411.2,649.7h3.8v3.8h-3.8zM415.2,647.8h3.8v3.8h-3.8zM419.3,641.7h3.8v3.8h-3.8zM423.4,631.9h3.8v3.8h-3.8zM427.4,623.3h3.8v3.8h-3.8zM431.5,611.3h3.8v3.8h-3.8zM435.5,604.1h3.8v3.8h-3.8zM439.6,597.7h3.8v3.8h-3.8zM443.7,596.4h3.8v3.8h-3.8zM447.7,597.9h3.8v3.8h-3.8zM451.8,602.5h3.8v3.8h-3.8zM455.9,617.1h3.8v3.8h-3.8zM459.9,629.8h3.8v3.8h-3.8zM464.0,646.3h3.8v3.8h-3.8zM468.0,661.0h3.8v3.8h-3.8zM472.1,681.6h3.8v3.8h-3.8zM476.1,695.1h3.8v3.8h-3.8zM480.2,705.8h3.8v3.8h-3.8zM484.3,711.3h3.8v3.8h-3.8zM488.3,719.6h3.8v3.8h-3.8zM492.4,724.6h3.8v3.8h-3.8zM496.4,730.0h3.8v3.8h-3.8zM500.5,733.7h3.8v3.8h-3.8zM504.6,737.8h3.8v3.8h-3.8zM508.6,740.0h3.8v3.8h-3.8zM512.7,742.7h3.8v3.8h-3.8zM516.8,744.3h3.8v3.8h-3.8zM520.8,746.6h3.8v3.8h-3.8zM524.9,747.0h3.8v3.8h-3.8zM528.9,747.3h3.8v3.8h-3.8zM533.0,747.5h3.8v3.8h-3.8zM537.1,747.6h3.8v3.8h-3.8zM541.1,748.4h3.8v3.8h-3.8zM545.2,747.9h3.8v3.8h-3.8zM549.2,748.0h3.8v3.8h-3.8zM553.3,748.5h3.8v3.8h-3.8zM557.4,749.0h3.8v3.8h-3.8zM561.4,749.8h3.8v3.8h-3.8zM565.5,750.4h3.8v3.8h-3.8zM569.5,751.0h3.8v3.8h-3.8zM573.6,751.9h3.8v3.8h-3.8zM577.6,752.7h3.8v3.8h-3.8zM581.7,753.5h3.8v3.8h-3.8zM585.8,753.6h3.8v3.8h-3.8zM589.8,754.6h3.8v3.8h-3.8zM593.9,754.7h3.8v3.8h-3.8zM597.9,755.0h3.8v3.8h-3.8zM602.0,754.5h3.8v3.8h-3.8zM606.1,755.1h3.8v3.8h-3.8zM610.1,755.8h3.8v3.8h-3.8zM614.2,755.4h3.8v3.8h-3.8zM618.2,755.5h3.8v3.8h-3.8zM622.3,756.3h3.8v3.8h-3.8zM626.4,755.7h3.8v3.8h-3.8zM630.4,756.6h3.8v3.8h-3.8zM634.5,756.6h3.8v3.8h-3.8zM638.5,756.0h3.8v3.8h-3.8z" fill="#000" fill-opacity="0.45"/><path d="M236.4,938.2h3.8v3.8h-3.8zM240.5,938.4h3.8v3.8h-3.8zM244.6,938.1h3.8v3.8h-3.8zM248.6,938.3h3.8v3.8h-3.8zM252.7,938.7h3.8v3.8h-3.8zM256.8,938.6h3.8v3.8h-3.8zM260.8,938.4h3.8v3.8h-3.8zM264.9,938.6h3.8v3.8h-3.8zM268.9,938.2h3.8v3.8h-3.8zM273.0,938.6h3.8v3.8h-3.8zM277.1,938.3h3.8v3.8h-3.8zM281.1,937.8h3.8v3.8h-3.8zM285.2,938.1h3.8v3.8h-3.8zM289.2,938.0h3.8v3.8h-3.8zM293.3,937.9h3.8v3.8h-3.8zM297.4,937.4h3.8v3.8h-3.8zM301.4,937.6h3.8v3.8h-3.8zM305.5,936.4h3.8v3.8h-3.8zM309.5,935.5h3.8v3.8h-3.8zM313.6,934.4h3.8v3.8h-3.8zM317.6,933.1h3.8v3.8h-3.8zM321.7,931.3h3.8v3.8h-3.8zM325.8,929.8h3.8v3.8h-3.8zM329.8,927.3h3.8v3.8h-3.8zM333.9,923.9h3.8v3.8h-3.8zM337.9,921.4h3.8v3.8h-3.8zM342.0,916.6h3.8v3.8h-3.8zM346.1,912.9h3.8v3.8h-3.8zM350.1,909.8h3.8v3.8h-3.8zM354.2,905.8h3.8v3.8h-3.8zM358.2,900.6h3.8v3.8h-3.8zM362.3,896.5h3.8v3.8h-3.8zM366.4,892.3h3.8v3.8h-3.8zM370.4,887.7h3.8v3.8h-3.8zM374.5,885.3h3.8v3.8h-3.8zM378.6,884.3h3.8v3.8h-3.8zM382.6,883.1h3.8v3.8h-3.8zM386.7,882.5h3.8v3.8h-3.8zM390.7,882.2h3.8v3.8h-3.8zM394.8,881.3h3.8v3.8h-3.8zM398.9,880.7h3.8v3.8h-3.8zM402.9,878.9h3.8v3.8h-3.8zM407.0,874.4h3.8v3.8h-3.8zM411.0,868.8h3.8v3.8h-3.8zM415.1,856.7h3.8v3.8h-3.8zM419.1,844.0h3.8v3.8h-3.8zM423.2,830.6h3.8v3.8h-3.8zM427.3,815.1h3.8v3.8h-3.8zM431.3,801.0h3.8v3.8h-3.8zM435.4,787.8h3.8v3.8h-3.8zM439.4,779.3h3.8v3.8h-3.8zM443.5,777.0h3.8v3.8h-3.8zM447.6,780.1h3.8v3.8h-3.8zM451.6,790.2h3.8v3.8h-3.8zM455.7,802.8h3.8v3.8h-3.8zM459.8,820.4h3.8v3.8h-3.8zM463.8,839.2h3.8v3.8h-3.8zM467.9,863.1h3.8v3.8h-3.8zM471.9,878.4h3.8v3.8h-3.8zM476.0,892.9h3.8v3.8h-3.8zM480.0,901.6h3.8v3.8h-3.8zM484.1,910.2h3.8v3.8h-3.8zM488.2,915.6h3.8v3.8h-3.8zM492.2,922.0h3.8v3.8h-3.8zM496.3,926.6h3.8v3.8h-3.8zM500.4,932.7h3.8v3.8h-3.8zM504.4,935.8h3.8v3.8h-3.8zM508.5,937.2h3.8v3.8h-3.8zM512.5,939.6h3.8v3.8h-3.8zM516.6,940.6h3.8v3.8h-3.8zM520.6,941.1h3.8v3.8h-3.8zM524.7,942.0h3.8v3.8h-3.8zM528.8,942.8h3.8v3.8h-3.8zM532.8,943.3h3.8v3.8h-3.8zM536.9,944.1h3.8v3.8h-3.8zM540.9,943.7h3.8v3.8h-3.8zM545.0,944.1h3.8v3.8h-3.8zM549.1,943.7h3.8v3.8h-3.8zM553.1,944.5h3.8v3.8h-3.8zM557.2,946.0h3.8v3.8h-3.8zM561.2,946.5h3.8v3.8h-3.8zM565.3,948.2h3.8v3.8h-3.8zM569.4,948.3h3.8v3.8h-3.8zM573.4,949.1h3.8v3.8h-3.8zM577.5,950.1h3.8v3.8h-3.8zM581.5,950.0h3.8v3.8h-3.8zM585.6,949.9h3.8v3.8h-3.8zM589.7,950.2h3.8v3.8h-3.8zM593.7,951.5h3.8v3.8h-3.8zM597.8,951.7h3.8v3.8h-3.8zM601.9,952.0h3.8v3.8h-3.8zM605.9,951.6h3.8v3.8h-3.8zM610.0,951.7h3.8v3.8h-3.8zM614.0,952.2h3.8v3.8h-3.8zM618.1,951.8h3.8v3.8h-3.8zM622.1,952.4h3.8v3.8h-3.8zM626.2,952.1h3.8v3.8h-3.8zM630.3,952.3h3.8v3.8h-3.8zM634.3,953.0h3.8v3.8h-3.8zM638.4,952.6h3.8v3.8h-3.8z" fill="#000"/><path d="M238.4,941.0 239.4,941.0 240.4,941.0 241.4,941.0 242.4,941.0 243.4,941.0 244.4,941.0 245.4,941.0 246.4,941.0 247.4,941.0 248.4,941.0 249.4,941.0 250.4,941.0 251.4,941.0 252.4,941.0 253.4,941.0 254.4,941.0 255.5,941.0 256.5,941.0 257.5,941.0 258.5,941.0 259.5,941.0 260.5,941.0 261.5,941.0 262.5,941.0 263.5,941.0 264.5,941.0 265.5,941.0 266.5,941.0 267.5,941.0 268.5,941.0 269.5,941.0 270.5,941.0 271.5,941.0 272.5,941.0 273.5,941.0 274.5,941.0 275.5,941.0 276.5,941.0 277.5,941.0 278.5,941.0 279.5,941.0 280.5,941.0 281.5,941.0 282.5,941.0 283.5,941.0 284.5,941.0 285.5,941.0 286.5,941.0 287.5,941.0 288.6,941.0 289.6,941.0 290.6,941.0 291.6,941.0 292.6,941.0 293.6,941.0 294.6,941.0 295.6,941.0 296.6,941.0 297.6,941.0 298.6,941.0 299.6,941.0 300.6,941.0 301.6,941.0 302.6,941.0 303.6,941.0 304.6,941.0 305.6,941.0 306.6,941.0 307.6,941.0 308.6,941.0 309.6,941.0 310.6,941.0 311.6,941.0 312.6,941.0 313.6,941.0 314.6,941.0 315.6,941.0 316.6,941.0 317.6,941.0 318.6,941.0 319.6,941.0 320.6,941.0 321.6,941.0 322.7,941.0 323.7,941.0 324.7,941.0 325.7,941.0 326.7,941.0 327.7,941.0 328.7,941.0 329.7,941.0 330.7,941.0 331.7,941.0 332.7,941.0 333.7,941.0 334.7,941.0 335.7,941.0 336.7,941.0 337.7,941.0 338.7,941.0 339.7,941.0 340.7,941.0 341.7,941.0 342.7,941.0 343.7,940.9 344.7,940.9 345.7,940.9 346.7,940.9 347.7,940.9 348.7,940.9 349.7,940.9 350.7,940.9 351.7,940.9 352.7,940.9 353.7,940.8 354.7,940.8 355.8,940.8 356.8,940.7 357.8,940.7 358.8,940.7 359.8,940.6 360.8,940.6 361.8,940.5 362.8,940.4 363.8,940.4 364.8,940.3 365.8,940.2 366.8,940.0 367.8,939.9 368.8,939.8 369.8,939.6 370.8,939.4 371.8,939.2 372.8,939.0 373.8,938.7 374.8,938.5 375.8,938.2 376.8,937.8 377.8,937.4 378.8,937.0 379.8,936.5 380.8,936.0 381.8,935.5 382.8,934.9 383.8,934.2 384.8,933.5 385.8,932.7 386.8,931.8 387.8,930.9 388.9,929.9 389.9,928.8 390.9,927.6 391.9,926.4 392.9,925.0 393.9,923.6 394.9,922.0 395.9,920.4 396.9,918.6 397.9,916.7 398.9,914.8 399.9,912.7 400.9,910.4 401.9,908.1 402.9,905.7 403.9,903.1 404.9,900.4 405.9,897.6 406.9,894.6 407.9,891.6 408.9,888.4 409.9,885.1 410.9,881.8 411.9,878.3 412.9,874.7 413.9,871.1 414.9,867.4 415.9,863.6 416.9,859.8 417.9,856.0 418.9,852.1 419.9,848.3 420.9,844.4 421.9,840.6 423.0,836.9 424.0,833.2 425.0,829.6 426.0,826.0 427.0,822.6 428.0,819.4 429.0,816.2 430.0,813.2 431.0,810.4 432.0,807.7 433.0,805.2 434.0,802.8 435.0,800.6 436.0,798.7 437.0,796.9 438.0,795.2 439.0,793.8 440.0,792.6 441.0,791.6 442.0,790.8 443.0,790.2 444.0,789.8 445.0,789.6 446.0,789.7 447.0,790.0 448.0,790.6 449.0,791.4 450.0,792.6 451.0,794.0 452.0,795.6 453.0,797.6 454.0,799.8 455.0,802.2 456.1,804.8 457.1,807.7 458.1,810.7 459.1,813.9 460.1,817.3 461.1,820.9 462.1,824.6 463.1,828.4 464.1,832.2 465.1,836.2 466.1,840.2 467.1,844.3 468.1,848.4 469.1,852.5 470.1,856.6 471.1,860.7 472.1,864.8 473.1,868.8 474.1,872.8 475.1,876.7 476.1,880.5 477.1,884.3 478.1,888.0 479.1,891.6 480.1,895.0 481.1,898.4 482.1,901.6 483.1,904.8 484.1,907.8 485.1,910.7 486.1,913.5 487.1,916.1 488.1,918.6 489.2,921.0 490.2,923.3 491.2,925.5 492.2,927.5 493.2,929.4 494.2,931.2 495.2,932.9 496.2,934.5 497.2,936.0 498.2,937.4 499.2,938.7 500.2,939.9 501.2,941.1 502.2,942.1 503.2,943.1 504.2,944.0 505.2,944.8 506.2,945.6 507.2,946.3 508.2,946.9 509.2,947.5 510.2,948.0 511.2,948.5 512.2,949.0 513.2,949.4 514.2,949.8 515.2,950.1 516.2,950.5 517.2,950.7 518.2,951.0 519.2,951.2 520.2,951.5 521.2,951.7 522.2,951.8 523.3,952.0 524.3,952.2 525.3,952.3 526.3,952.4 527.3,952.5 528.3,952.6 529.3,952.7 530.3,952.8 531.3,952.9 532.3,953.0 533.3,953.1 534.3,953.1 535.3,953.2 536.3,953.2 537.3,953.3 538.3,953.3 539.3,953.4 540.3,953.4 541.3,953.5 542.3,953.5 543.3,953.5 544.3,953.6 545.3,953.6 546.3,953.6 547.3,953.7 548.3,953.7 549.3,953.7 550.3,953.8 551.3,953.8 552.3,953.8 553.3,953.8 554.3,953.9 555.3,953.9 556.4,953.9 557.4,953.9 558.4,954.0 559.4,954.0 560.4,954.0 561.4,954.0 562.4,954.0 563.4,954.1 564.4,954.1 565.4,954.1 566.4,954.1 567.4,954.1 568.4,954.1 569.4,954.2 570.4,954.2 571.4,954.2 572.4,954.2 573.4,954.2 574.4,954.2 575.4,954.2 576.4,954.3 577.4,954.3 578.4,954.3 579.4,954.3 580.4,954.3 581.4,954.3 582.4,954.3 583.4,954.3 584.4,954.4 585.4,954.4 586.4,954.4 587.4,954.4 588.4,954.4 589.5,954.4 590.5,954.4 591.5,954.4 592.5,954.4 593.5,954.5 594.5,954.5 595.5,954.5 596.5,954.5 597.5,954.5 598.5,954.5 599.5,954.5 600.5,954.5 601.5,954.5 602.5,954.5 603.5,954.5 604.5,954.5 605.5,954.6 606.5,954.6 607.5,954.6 608.5,954.6 609.5,954.6 610.5,954.6 611.5,954.6 612.5,954.6 613.5,954.6 614.5,954.6 615.5,954.6 616.5,954.6 617.5,954.6 618.5,954.6 619.5,954.7 620.5,954.7 621.5,954.7 622.5,954.7 623.6,954.7 624.6,954.7 625.6,954.7 626.6,954.7 627.6,954.7 628.6,954.7 629.6,954.7 630.6,954.7 631.6,954.7 632.6,954.7 633.6,954.7 634.6,954.7 635.6,954.7 636.6,954.7 637.6,954.7 638.6,954.7 639.6,954.8" fill="none" stroke="#e8383f" stroke-width="2.2"/><path d="M238.4,940.8 239.4,940.8 240.4,940.8 241.4,940.8 242.4,940.8 243.4,940.8 244.4,940.8 245.4,940.8 246.4,940.8 247.4,940.8 248.4,940.8 249.4,940.8 250.4,940.8 251.4,940.8 252.4,940.8 253.4,940.8 254.4,940.8 255.5,940.7 256.5,940.7 257.5,940.7 258.5,940.7 259.5,940.7 260.5,940.7 261.5,940.7 262.5,940.7 263.5,940.7 264.5,940.7 265.5,940.7 266.5,940.7 267.5,940.7 268.5,940.7 269.5,940.7 270.5,940.7 271.5,940.7 272.5,940.7 273.5,940.7 274.5,940.7 275.5,940.7 276.5,940.7 277.5,940.7 278.5,940.7 279.5,940.6 280.5,940.6 281.5,940.6 282.5,940.6 283.5,940.6 284.5,940.6 285.5,940.6 286.5,940.6 287.5,940.6 288.6,940.6 289.6,940.5 290.6,940.5 291.6,940.5 292.6,940.5 293.6,940.5 294.6,940.5 295.6,940.4 296.6,940.4 297.6,940.4 298.6,940.3 299.6,940.3 300.6,940.3 301.6,940.2 302.6,940.2 303.6,940.1 304.6,940.1 305.6,940.0 306.6,939.9 307.6,939.9 308.6,939.8 309.6,939.7 310.6,939.6 311.6,939.5 312.6,939.4 313.6,939.2 314.6,939.1 315.6,938.9 316.6,938.8 317.6,938.6 318.6,938.4 319.6,938.2 320.6,937.9 321.6,937.7 322.7,937.4 323.7,937.1 324.7,936.8 325.7,936.5 326.7,936.1 327.7,935.7 328.7,935.3 329.7,934.9 330.7,934.4 331.7,933.9 332.7,933.4 333.7,932.8 334.7,932.2 335.7,931.6 336.7,931.0 337.7,930.3 338.7,929.6 339.7,928.8 340.7,928.1 341.7,927.3 342.7,926.4 343.7,925.5 344.7,924.7 345.7,923.7 346.7,922.8 347.7,921.8 348.7,920.8 349.7,919.8 350.7,918.7 351.7,917.7 352.7,916.6 353.7,915.5 354.7,914.4 355.8,913.3 356.8,912.2 357.8,911.1 358.8,910.1 359.8,909.0 360.8,907.9 361.8,906.9 362.8,905.8 363.8,904.8 364.8,903.9 365.8,902.9 366.8,902.0 367.8,901.2 368.8,900.4 369.8,899.6 370.8,898.9 371.8,898.3 372.8,897.7 373.8,897.2 374.8,896.7 375.8,896.3 376.8,896.0 377.8,895.8 378.8,895.7 379.8,895.6 380.8,895.6 381.8,895.7 382.8,895.9 383.8,896.1 384.8,896.4 385.8,896.9 386.8,897.3 387.8,897.9 388.9,898.5 389.9,899.2 390.9,899.9 391.9,900.7 392.9,901.6 393.9,902.5 394.9,903.4 395.9,904.4 396.9,905.5 397.9,906.6 398.9,907.7 399.9,908.8 400.9,909.9 401.9,911.1 402.9,912.3 403.9,913.5 404.9,914.7 405.9,915.9 406.9,917.1 407.9,918.3 408.9,919.5 409.9,920.7 410.9,921.9 411.9,923.0 412.9,924.2 413.9,925.3 414.9,926.4 415.9,927.5 416.9,928.5 417.9,929.5 418.9,930.5 419.9,931.5 420.9,932.5 421.9,933.4 423.0,934.3 424.0,935.1 425.0,935.9 426.0,936.7 427.0,937.5 428.0,938.3 429.0,939.0 430.0,939.7 431.0,940.3 432.0,941.0 433.0,941.6 434.0,942.1 435.0,942.7 436.0,943.2 437.0,943.8 438.0,944.3 439.0,944.7 440.0,945.2 441.0,945.6 442.0,946.0 443.0,946.4 444.0,946.8 445.0,947.2 446.0,947.5 447.0,947.9 448.0,948.2 449.0,948.5 450.0,948.8 451.0,949.1 452.0,949.4 453.0,949.7 454.0,949.9 455.0,950.2 456.1,950.4 457.1,950.6 458.1,950.8 459.1,951.1 460.1,951.3 461.1,951.4 462.1,951.6 463.1,951.8 464.1,952.0 465.1,952.1 466.1,952.3 467.1,952.4 468.1,952.6 469.1,952.7 470.1,952.9 471.1,953.0 472.1,953.1 473.1,953.2 474.1,953.3 475.1,953.4 476.1,953.5 477.1,953.6 478.1,953.7 479.1,953.8 480.1,953.8 481.1,953.9 482.1,954.0 483.1,954.0 484.1,954.1 485.1,954.2 486.1,954.2 487.1,954.3 488.1,954.3 489.2,954.4 490.2,954.4 491.2,954.4 492.2,954.5 493.2,954.5 494.2,954.5 495.2,954.6 496.2,954.6 497.2,954.6 498.2,954.6 499.2,954.7 500.2,954.7 501.2,954.7 502.2,954.7 503.2,954.7 504.2,954.8 505.2,954.8 506.2,954.8 507.2,954.8 508.2,954.8 509.2,954.8 510.2,954.8 511.2,954.9 512.2,954.9 513.2,954.9 514.2,954.9 515.2,954.9 516.2,954.9 517.2,954.9 518.2,954.9 519.2,954.9 520.2,954.9 521.2,954.9 522.2,954.9 523.3,954.9 524.3,955.0 525.3,955.0 526.3,955.0 527.3,955.0 528.3,955.0 529.3,955.0 530.3,955.0 531.3,955.0 532.3,955.0 533.3,955.0 534.3,955.0 535.3,955.0 536.3,955.0 537.3,955.0 538.3,955.0 539.3,955.0 540.3,955.0 541.3,955.0 542.3,955.0 543.3,955.0 544.3,955.0 545.3,955.0 546.3,955.0 547.3,955.0 548.3,955.0 549.3,955.1 550.3,955.1 551.3,955.1 552.3,955.1 553.3,955.1 554.3,955.1 555.3,955.1 556.4,955.1 557.4,955.1 558.4,955.1 559.4,955.1 560.4,955.1 561.4,955.1 562.4,955.1 563.4,955.1 564.4,955.1 565.4,955.1 566.4,955.1 567.4,955.1 568.4,955.1 569.4,955.1 570.4,955.1 571.4,955.1 572.4,955.1 573.4,955.1 574.4,955.1 575.4,955.1 576.4,955.1 577.4,955.1 578.4,955.1 579.4,955.1 580.4,955.1 581.4,955.1 582.4,955.1 583.4,955.1 584.4,955.1 585.4,955.1 586.4,955.1 587.4,955.1 588.4,955.1 589.5,955.1 590.5,955.1 591.5,955.1 592.5,955.1 593.5,955.1 594.5,955.1 595.5,955.1 596.5,955.2 597.5,955.2 598.5,955.2 599.5,955.2 600.5,955.2 601.5,955.2 602.5,955.2 603.5,955.2 604.5,955.2 605.5,955.2 606.5,955.2 607.5,955.2 608.5,955.2 609.5,955.2 610.5,955.2 611.5,955.2 612.5,955.2 613.5,955.2 614.5,955.2 615.5,955.2 616.5,955.2 617.5,955.2 618.5,955.2 619.5,955.2 620.5,955.2 621.5,955.2 622.5,955.2 623.6,955.2 624.6,955.2 625.6,955.2 626.6,955.2 627.6,955.2 628.6,955.2 629.6,955.2 630.6,955.2 631.6,955.2 632.6,955.2 633.6,955.2 634.6,955.2 635.6,955.2 636.6,955.2 637.6,955.2 638.6,955.2 639.6,955.2" fill="none" stroke="#5db9e6" stroke-width="2.2"/><path d="M236.4,938.2h3.8v3.8h-3.8zM240.5,938.4h3.8v3.8h-3.8zM244.6,938.1h3.8v3.8h-3.8zM248.6,938.3h3.8v3.8h-3.8zM252.7,938.7h3.8v3.8h-3.8zM256.8,938.6h3.8v3.8h-3.8zM260.8,938.4h3.8v3.8h-3.8zM264.9,938.6h3.8v3.8h-3.8zM268.9,938.2h3.8v3.8h-3.8zM273.0,938.6h3.8v3.8h-3.8zM277.1,938.3h3.8v3.8h-3.8zM281.1,937.8h3.8v3.8h-3.8zM285.2,938.1h3.8v3.8h-3.8zM289.2,938.0h3.8v3.8h-3.8zM293.3,937.9h3.8v3.8h-3.8zM297.4,937.4h3.8v3.8h-3.8zM301.4,937.6h3.8v3.8h-3.8zM305.5,936.4h3.8v3.8h-3.8zM309.5,935.5h3.8v3.8h-3.8zM313.6,934.4h3.8v3.8h-3.8zM317.6,933.1h3.8v3.8h-3.8zM321.7,931.3h3.8v3.8h-3.8zM325.8,929.8h3.8v3.8h-3.8zM329.8,927.3h3.8v3.8h-3.8zM333.9,923.9h3.8v3.8h-3.8zM337.9,921.4h3.8v3.8h-3.8zM342.0,916.6h3.8v3.8h-3.8zM346.1,912.9h3.8v3.8h-3.8zM350.1,909.8h3.8v3.8h-3.8zM354.2,905.8h3.8v3.8h-3.8zM358.2,900.6h3.8v3.8h-3.8zM362.3,896.5h3.8v3.8h-3.8zM366.4,892.3h3.8v3.8h-3.8zM370.4,887.7h3.8v3.8h-3.8zM374.5,885.3h3.8v3.8h-3.8zM378.6,884.3h3.8v3.8h-3.8zM382.6,883.1h3.8v3.8h-3.8zM386.7,882.5h3.8v3.8h-3.8zM390.7,882.2h3.8v3.8h-3.8zM394.8,881.3h3.8v3.8h-3.8zM398.9,880.7h3.8v3.8h-3.8zM402.9,878.9h3.8v3.8h-3.8zM407.0,874.4h3.8v3.8h-3.8zM411.0,868.8h3.8v3.8h-3.8zM415.1,856.7h3.8v3.8h-3.8zM419.1,844.0h3.8v3.8h-3.8zM423.2,830.6h3.8v3.8h-3.8zM427.3,815.1h3.8v3.8h-3.8zM431.3,801.0h3.8v3.8h-3.8zM435.4,787.8h3.8v3.8h-3.8zM439.4,779.3h3.8v3.8h-3.8zM443.5,777.0h3.8v3.8h-3.8zM447.6,780.1h3.8v3.8h-3.8zM451.6,790.2h3.8v3.8h-3.8zM455.7,802.8h3.8v3.8h-3.8zM459.8,820.4h3.8v3.8h-3.8zM463.8,839.2h3.8v3.8h-3.8zM467.9,863.1h3.8v3.8h-3.8zM471.9,878.4h3.8v3.8h-3.8zM476.0,892.9h3.8v3.8h-3.8zM480.0,901.6h3.8v3.8h-3.8zM484.1,910.2h3.8v3.8h-3.8zM488.2,915.6h3.8v3.8h-3.8zM492.2,922.0h3.8v3.8h-3.8zM496.3,926.6h3.8v3.8h-3.8zM500.4,932.7h3.8v3.8h-3.8zM504.4,935.8h3.8v3.8h-3.8zM508.5,937.2h3.8v3.8h-3.8zM512.5,939.6h3.8v3.8h-3.8zM516.6,940.6h3.8v3.8h-3.8zM520.6,941.1h3.8v3.8h-3.8zM524.7,942.0h3.8v3.8h-3.8zM528.8,942.8h3.8v3.8h-3.8zM532.8,943.3h3.8v3.8h-3.8zM536.9,944.1h3.8v3.8h-3.8zM540.9,943.7h3.8v3.8h-3.8zM545.0,944.1h3.8v3.8h-3.8zM549.1,943.7h3.8v3.8h-3.8zM553.1,944.5h3.8v3.8h-3.8zM557.2,946.0h3.8v3.8h-3.8zM561.2,946.5h3.8v3.8h-3.8zM565.3,948.2h3.8v3.8h-3.8zM569.4,948.3h3.8v3.8h-3.8zM573.4,949.1h3.8v3.8h-3.8zM577.5,950.1h3.8v3.8h-3.8zM581.5,950.0h3.8v3.8h-3.8zM585.6,949.9h3.8v3.8h-3.8zM589.7,950.2h3.8v3.8h-3.8zM593.7,951.5h3.8v3.8h-3.8zM597.8,951.7h3.8v3.8h-3.8zM601.9,952.0h3.8v3.8h-3.8zM605.9,951.6h3.8v3.8h-3.8zM610.0,951.7h3.8v3.8h-3.8zM614.0,952.2h3.8v3.8h-3.8zM618.1,951.8h3.8v3.8h-3.8zM622.1,952.4h3.8v3.8h-3.8zM626.2,952.1h3.8v3.8h-3.8zM630.3,952.3h3.8v3.8h-3.8zM634.3,953.0h3.8v3.8h-3.8zM638.4,952.6h3.8v3.8h-3.8z" fill="#000" fill-opacity="0.45"/><path d="M234.9,1175.7h3.8v3.8h-3.8zM238.9,1176.4h3.8v3.8h-3.8zM243.0,1176.1h3.8v3.8h-3.8zM247.1,1175.6h3.8v3.8h-3.8zM251.1,1176.1h3.8v3.8h-3.8zM255.2,1175.8h3.8v3.8h-3.8zM259.2,1176.0h3.8v3.8h-3.8zM263.3,1175.6h3.8v3.8h-3.8zM267.4,1175.6h3.8v3.8h-3.8zM271.4,1175.6h3.8v3.8h-3.8zM275.5,1175.1h3.8v3.8h-3.8zM279.5,1174.7h3.8v3.8h-3.8zM283.6,1175.4h3.8v3.8h-3.8zM287.7,1174.5h3.8v3.8h-3.8zM291.7,1174.7h3.8v3.8h-3.8zM295.8,1174.9h3.8v3.8h-3.8zM299.8,1174.0h3.8v3.8h-3.8zM303.9,1173.0h3.8v3.8h-3.8zM308.0,1172.0h3.8v3.8h-3.8zM312.0,1170.5h3.8v3.8h-3.8zM316.1,1169.5h3.8v3.8h-3.8zM320.1,1167.2h3.8v3.8h-3.8zM324.2,1164.8h3.8v3.8h-3.8zM328.2,1162.8h3.8v3.8h-3.8zM332.3,1159.1h3.8v3.8h-3.8zM336.4,1154.7h3.8v3.8h-3.8zM340.4,1148.9h3.8v3.8h-3.8zM344.5,1143.4h3.8v3.8h-3.8zM348.6,1136.8h3.8v3.8h-3.8zM352.6,1130.2h3.8v3.8h-3.8zM356.7,1124.0h3.8v3.8h-3.8zM360.7,1117.4h3.8v3.8h-3.8zM364.8,1109.9h3.8v3.8h-3.8zM368.9,1105.5h3.8v3.8h-3.8zM372.9,1100.8h3.8v3.8h-3.8zM377.0,1096.2h3.8v3.8h-3.8zM381.0,1094.0h3.8v3.8h-3.8zM385.1,1093.6h3.8v3.8h-3.8zM389.1,1094.1h3.8v3.8h-3.8zM393.2,1096.2h3.8v3.8h-3.8zM397.3,1096.6h3.8v3.8h-3.8zM401.3,1097.9h3.8v3.8h-3.8zM405.4,1097.1h3.8v3.8h-3.8zM409.5,1097.2h3.8v3.8h-3.8zM413.5,1091.2h3.8v3.8h-3.8zM417.6,1085.6h3.8v3.8h-3.8zM421.6,1075.4h3.8v3.8h-3.8zM425.7,1064.9h3.8v3.8h-3.8zM429.8,1050.6h3.8v3.8h-3.8zM433.8,1039.1h3.8v3.8h-3.8zM437.9,1028.7h3.8v3.8h-3.8zM441.9,1023.0h3.8v3.8h-3.8zM446.0,1022.1h3.8v3.8h-3.8zM450.1,1026.2h3.8v3.8h-3.8zM454.1,1037.7h3.8v3.8h-3.8zM458.2,1049.9h3.8v3.8h-3.8zM462.2,1070.9h3.8v3.8h-3.8zM466.3,1087.5h3.8v3.8h-3.8zM470.4,1103.9h3.8v3.8h-3.8zM474.4,1119.0h3.8v3.8h-3.8zM478.5,1134.8h3.8v3.8h-3.8zM482.5,1143.1h3.8v3.8h-3.8zM486.6,1151.7h3.8v3.8h-3.8zM490.6,1158.1h3.8v3.8h-3.8zM494.7,1162.9h3.8v3.8h-3.8zM498.8,1167.3h3.8v3.8h-3.8zM502.8,1170.6h3.8v3.8h-3.8zM506.9,1173.2h3.8v3.8h-3.8zM511.0,1176.5h3.8v3.8h-3.8zM515.0,1177.8h3.8v3.8h-3.8zM519.1,1179.6h3.8v3.8h-3.8zM523.1,1180.1h3.8v3.8h-3.8zM527.2,1180.3h3.8v3.8h-3.8zM531.2,1181.6h3.8v3.8h-3.8zM535.3,1181.6h3.8v3.8h-3.8zM539.4,1181.5h3.8v3.8h-3.8zM543.4,1182.7h3.8v3.8h-3.8zM547.5,1183.1h3.8v3.8h-3.8zM551.5,1183.7h3.8v3.8h-3.8zM555.6,1183.9h3.8v3.8h-3.8zM559.7,1184.3h3.8v3.8h-3.8zM563.7,1185.3h3.8v3.8h-3.8zM567.8,1186.6h3.8v3.8h-3.8zM571.9,1187.4h3.8v3.8h-3.8zM575.9,1187.8h3.8v3.8h-3.8zM580.0,1187.9h3.8v3.8h-3.8zM584.0,1188.3h3.8v3.8h-3.8zM588.1,1189.5h3.8v3.8h-3.8zM592.1,1189.9h3.8v3.8h-3.8zM596.2,1190.2h3.8v3.8h-3.8zM600.3,1190.2h3.8v3.8h-3.8zM604.3,1190.2h3.8v3.8h-3.8zM608.4,1190.7h3.8v3.8h-3.8zM612.5,1191.2h3.8v3.8h-3.8zM616.5,1191.7h3.8v3.8h-3.8zM620.6,1191.7h3.8v3.8h-3.8zM624.6,1191.2h3.8v3.8h-3.8zM628.7,1192.1h3.8v3.8h-3.8zM632.8,1191.9h3.8v3.8h-3.8zM636.8,1191.7h3.8v3.8h-3.8z" fill="#000"/><path d="M238.4,1178.7 239.4,1178.7 240.4,1178.7 241.4,1178.7 242.4,1178.7 243.4,1178.7 244.4,1178.7 245.4,1178.7 246.4,1178.7 247.4,1178.7 248.4,1178.7 249.4,1178.7 250.4,1178.7 251.4,1178.7 252.4,1178.7 253.4,1178.7 254.4,1178.7 255.5,1178.7 256.5,1178.7 257.5,1178.7 258.5,1178.7 259.5,1178.7 260.5,1178.7 261.5,1178.7 262.5,1178.7 263.5,1178.7 264.5,1178.7 265.5,1178.7 266.5,1178.7 267.5,1178.7 268.5,1178.7 269.5,1178.7 270.5,1178.7 271.5,1178.7 272.5,1178.7 273.5,1178.7 274.5,1178.7 275.5,1178.7 276.5,1178.7 277.5,1178.7 278.5,1178.7 279.5,1178.7 280.5,1178.7 281.5,1178.7 282.5,1178.7 283.5,1178.7 284.5,1178.7 285.5,1178.7 286.5,1178.7 287.5,1178.7 288.6,1178.7 289.6,1178.7 290.6,1178.7 291.6,1178.7 292.6,1178.7 293.6,1178.7 294.6,1178.7 295.6,1178.7 296.6,1178.7 297.6,1178.7 298.6,1178.7 299.6,1178.7 300.6,1178.7 301.6,1178.7 302.6,1178.7 303.6,1178.7 304.6,1178.7 305.6,1178.7 306.6,1178.7 307.6,1178.7 308.6,1178.7 309.6,1178.7 310.6,1178.7 311.6,1178.7 312.6,1178.7 313.6,1178.7 314.6,1178.7 315.6,1178.7 316.6,1178.7 317.6,1178.7 318.6,1178.7 319.6,1178.7 320.6,1178.7 321.6,1178.7 322.7,1178.7 323.7,1178.7 324.7,1178.7 325.7,1178.7 326.7,1178.7 327.7,1178.7 328.7,1178.7 329.7,1178.7 330.7,1178.7 331.7,1178.7 332.7,1178.7 333.7,1178.7 334.7,1178.7 335.7,1178.7 336.7,1178.7 337.7,1178.7 338.7,1178.7 339.7,1178.7 340.7,1178.7 341.7,1178.7 342.7,1178.7 343.7,1178.7 344.7,1178.7 345.7,1178.7 346.7,1178.7 347.7,1178.7 348.7,1178.7 349.7,1178.7 350.7,1178.7 351.7,1178.7 352.7,1178.7 353.7,1178.7 354.7,1178.7 355.8,1178.7 356.8,1178.7 357.8,1178.7 358.8,1178.7 359.8,1178.7 360.8,1178.6 361.8,1178.6 362.8,1178.6 363.8,1178.6 364.8,1178.6 365.8,1178.5 366.8,1178.5 367.8,1178.5 368.8,1178.4 369.8,1178.4 370.8,1178.3 371.8,1178.2 372.8,1178.1 373.8,1178.0 374.8,1177.9 375.8,1177.8 376.8,1177.7 377.8,1177.5 378.8,1177.3 379.8,1177.1 380.8,1176.9 381.8,1176.6 382.8,1176.3 383.8,1176.0 384.8,1175.6 385.8,1175.2 386.8,1174.7 387.8,1174.2 388.9,1173.6 389.9,1173.0 390.9,1172.3 391.9,1171.5 392.9,1170.7 393.9,1169.8 394.9,1168.8 395.9,1167.7 396.9,1166.5 397.9,1165.2 398.9,1163.7 399.9,1162.2 400.9,1160.6 401.9,1158.8 402.9,1156.9 403.9,1154.9 404.9,1152.8 405.9,1150.5 406.9,1148.1 407.9,1145.5 408.9,1142.8 409.9,1140.0 410.9,1137.1 411.9,1133.9 412.9,1130.7 413.9,1127.4 414.9,1123.9 415.9,1120.3 416.9,1116.6 417.9,1112.8 418.9,1108.9 419.9,1104.9 420.9,1100.9 421.9,1096.8 423.0,1092.7 424.0,1088.5 425.0,1084.4 426.0,1080.3 427.0,1076.2 428.0,1072.1 429.0,1068.2 430.0,1064.3 431.0,1060.5 432.0,1056.9 433.0,1053.3 434.0,1050.0 435.0,1046.9 436.0,1043.9 437.0,1041.2 438.0,1038.7 439.0,1036.4 440.0,1034.4 441.0,1032.7 442.0,1031.3 443.0,1030.2 444.0,1029.4 445.0,1028.8 446.0,1028.6 447.0,1028.7 448.0,1029.1 449.0,1029.7 450.0,1030.7 451.0,1031.9 452.0,1033.3 453.0,1035.1 454.0,1037.0 455.0,1039.2 456.1,1041.7 457.1,1044.3 458.1,1047.2 459.1,1050.2 460.1,1053.5 461.1,1056.9 462.1,1060.4 463.1,1064.1 464.1,1067.9 465.1,1071.8 466.1,1075.8 467.1,1079.9 468.1,1084.0 469.1,1088.2 470.1,1092.5 471.1,1096.8 472.1,1101.1 473.1,1105.4 474.1,1109.8 475.1,1114.1 476.1,1118.3 477.1,1122.5 478.1,1126.6 479.1,1130.7 480.1,1134.6 481.1,1138.4 482.1,1142.1 483.1,1145.7 484.1,1149.1 485.1,1152.3 486.1,1155.4 487.1,1158.3 488.1,1161.0 489.2,1163.5 490.2,1165.9 491.2,1168.2 492.2,1170.2 493.2,1172.1 494.2,1173.9 495.2,1175.6 496.2,1177.1 497.2,1178.5 498.2,1179.8 499.2,1180.9 500.2,1182.0 501.2,1183.0 502.2,1183.9 503.2,1184.7 504.2,1185.5 505.2,1186.2 506.2,1186.8 507.2,1187.4 508.2,1187.9 509.2,1188.3 510.2,1188.8 511.2,1189.1 512.2,1189.5 513.2,1189.8 514.2,1190.1 515.2,1190.3 516.2,1190.5 517.2,1190.7 518.2,1190.9 519.2,1191.1 520.2,1191.2 521.2,1191.3 522.2,1191.4 523.3,1191.5 524.3,1191.6 525.3,1191.7 526.3,1191.8 527.3,1191.8 528.3,1191.9 529.3,1191.9 530.3,1192.0 531.3,1192.0 532.3,1192.0 533.3,1192.1 534.3,1192.1 535.3,1192.1 536.3,1192.1 537.3,1192.1 538.3,1192.2 539.3,1192.2 540.3,1192.2 541.3,1192.2 542.3,1192.2 543.3,1192.2 544.3,1192.2 545.3,1192.2 546.3,1192.2 547.3,1192.2 548.3,1192.2 549.3,1192.2 550.3,1192.3 551.3,1192.3 552.3,1192.3 553.3,1192.3 554.3,1192.3 555.3,1192.3 556.4,1192.3 557.4,1192.3 558.4,1192.3 559.4,1192.3 560.4,1192.3 561.4,1192.3 562.4,1192.3 563.4,1192.3 564.4,1192.3 565.4,1192.3 566.4,1192.3 567.4,1192.3 568.4,1192.3 569.4,1192.3 570.4,1192.3 571.4,1192.3 572.4,1192.3 573.4,1192.3 574.4,1192.3 575.4,1192.3 576.4,1192.3 577.4,1192.3 578.4,1192.3 579.4,1192.3 580.4,1192.3 581.4,1192.3 582.4,1192.3 583.4,1192.3 584.4,1192.3 585.4,1192.3 586.4,1192.3 587.4,1192.3 588.4,1192.3 589.5,1192.3 590.5,1192.4 591.5,1192.4 592.5,1192.4 593.5,1192.4 594.5,1192.4 595.5,1192.4 596.5,1192.4 597.5,1192.4 598.5,1192.4 599.5,1192.4 600.5,1192.4 601.5,1192.4 602.5,1192.4 603.5,1192.4 604.5,1192.4 605.5,1192.4 606.5,1192.4 607.5,1192.4 608.5,1192.4 609.5,1192.4 610.5,1192.4 611.5,1192.4 612.5,1192.4 613.5,1192.4 614.5,1192.4 615.5,1192.4 616.5,1192.4 617.5,1192.4 618.5,1192.4 619.5,1192.4 620.5,1192.4 621.5,1192.4 622.5,1192.4 623.6,1192.4 624.6,1192.4 625.6,1192.4 626.6,1192.4 627.6,1192.4 628.6,1192.4 629.6,1192.4 630.6,1192.4 631.6,1192.4 632.6,1192.4 633.6,1192.4 634.6,1192.4 635.6,1192.4 636.6,1192.4 637.6,1192.4 638.6,1192.4 639.6,1192.4" fill="none" stroke="#e8383f" stroke-width="2.2"/><path d="M238.4,1179.4 239.4,1179.4 240.4,1179.4 241.4,1179.3 242.4,1179.3 243.4,1179.3 244.4,1179.3 245.4,1179.3 246.4,1179.2 247.4,1179.2 248.4,1179.2 249.4,1179.2 250.4,1179.1 251.4,1179.1 252.4,1179.1 253.4,1179.1 254.4,1179.0 255.5,1179.0 256.5,1179.0 257.5,1179.0 258.5,1178.9 259.5,1178.9 260.5,1178.9 261.5,1178.8 262.5,1178.8 263.5,1178.8 264.5,1178.7 265.5,1178.7 266.5,1178.7 267.5,1178.6 268.5,1178.6 269.5,1178.6 270.5,1178.5 271.5,1178.5 272.5,1178.4 273.5,1178.4 274.5,1178.4 275.5,1178.3 276.5,1178.3 277.5,1178.2 278.5,1178.2 279.5,1178.1 280.5,1178.1 281.5,1178.0 282.5,1178.0 283.5,1177.9 284.5,1177.9 285.5,1177.8 286.5,1177.7 287.5,1177.7 288.6,1177.6 289.6,1177.5 290.6,1177.5 291.6,1177.4 292.6,1177.3 293.6,1177.2 294.6,1177.2 295.6,1177.1 296.6,1177.0 297.6,1176.9 298.6,1176.8 299.6,1176.7 300.6,1176.6 301.6,1176.5 302.6,1176.3 303.6,1176.2 304.6,1176.1 305.6,1175.9 306.6,1175.8 307.6,1175.6 308.6,1175.5 309.6,1175.3 310.6,1175.1 311.6,1174.9 312.6,1174.7 313.6,1174.5 314.6,1174.3 315.6,1174.0 316.6,1173.7 317.6,1173.5 318.6,1173.2 319.6,1172.8 320.6,1172.5 321.6,1172.2 322.7,1171.8 323.7,1171.4 324.7,1170.9 325.7,1170.5 326.7,1170.0 327.7,1169.5 328.7,1169.0 329.7,1168.4 330.7,1167.8 331.7,1167.2 332.7,1166.5 333.7,1165.8 334.7,1165.0 335.7,1164.3 336.7,1163.4 337.7,1162.6 338.7,1161.7 339.7,1160.7 340.7,1159.7 341.7,1158.7 342.7,1157.6 343.7,1156.5 344.7,1155.3 345.7,1154.1 346.7,1152.8 347.7,1151.5 348.7,1150.2 349.7,1148.8 350.7,1147.4 351.7,1145.9 352.7,1144.4 353.7,1142.8 354.7,1141.2 355.8,1139.6 356.8,1138.0 357.8,1136.3 358.8,1134.6 359.8,1132.9 360.8,1131.1 361.8,1129.4 362.8,1127.6 363.8,1125.9 364.8,1124.1 365.8,1122.4 366.8,1120.6 367.8,1118.9 368.8,1117.3 369.8,1115.7 370.8,1114.1 371.8,1112.6 372.8,1111.1 373.8,1109.8 374.8,1108.5 375.8,1107.3 376.8,1106.2 377.8,1105.3 378.8,1104.4 379.8,1103.7 380.8,1103.2 381.8,1102.8 382.8,1102.5 383.8,1102.4 384.8,1102.4 385.8,1102.6 386.8,1103.0 387.8,1103.5 388.9,1104.1 389.9,1104.9 390.9,1105.8 391.9,1106.9 392.9,1108.0 393.9,1109.3 394.9,1110.7 395.9,1112.2 396.9,1113.7 397.9,1115.3 398.9,1117.0 399.9,1118.7 400.9,1120.5 401.9,1122.3 402.9,1124.2 403.9,1126.1 404.9,1127.9 405.9,1129.8 406.9,1131.7 407.9,1133.6 408.9,1135.5 409.9,1137.3 410.9,1139.1 411.9,1141.0 412.9,1142.7 413.9,1144.5 414.9,1146.2 415.9,1147.9 416.9,1149.6 417.9,1151.2 418.9,1152.8 419.9,1154.3 420.9,1155.8 421.9,1157.3 423.0,1158.7 424.0,1160.0 425.0,1161.4 426.0,1162.6 427.0,1163.9 428.0,1165.1 429.0,1166.2 430.0,1167.3 431.0,1168.4 432.0,1169.4 433.0,1170.4 434.0,1171.4 435.0,1172.3 436.0,1173.2 437.0,1174.0 438.0,1174.8 439.0,1175.6 440.0,1176.3 441.0,1177.0 442.0,1177.7 443.0,1178.4 444.0,1179.0 445.0,1179.6 446.0,1180.1 447.0,1180.7 448.0,1181.2 449.0,1181.7 450.0,1182.2 451.0,1182.7 452.0,1183.1 453.0,1183.5 454.0,1183.9 455.0,1184.3 456.1,1184.7 457.1,1185.0 458.1,1185.3 459.1,1185.7 460.1,1186.0 461.1,1186.3 462.1,1186.5 463.1,1186.8 464.1,1187.1 465.1,1187.3 466.1,1187.6 467.1,1187.8 468.1,1188.0 469.1,1188.2 470.1,1188.4 471.1,1188.6 472.1,1188.8 473.1,1188.9 474.1,1189.1 475.1,1189.3 476.1,1189.4 477.1,1189.6 478.1,1189.7 479.1,1189.8 480.1,1190.0 481.1,1190.1 482.1,1190.2 483.1,1190.3 484.1,1190.4 485.1,1190.5 486.1,1190.6 487.1,1190.7 488.1,1190.8 489.2,1190.9 490.2,1190.9 491.2,1191.0 492.2,1191.1 493.2,1191.2 494.2,1191.2 495.2,1191.3 496.2,1191.3 497.2,1191.4 498.2,1191.5 499.2,1191.5 500.2,1191.6 501.2,1191.6 502.2,1191.7 503.2,1191.7 504.2,1191.8 505.2,1191.8 506.2,1191.8 507.2,1191.9 508.2,1191.9 509.2,1192.0 510.2,1192.0 511.2,1192.0 512.2,1192.1 513.2,1192.1 514.2,1192.1 515.2,1192.2 516.2,1192.2 517.2,1192.2 518.2,1192.3 519.2,1192.3 520.2,1192.3 521.2,1192.4 522.2,1192.4 523.3,1192.4 524.3,1192.4 525.3,1192.5 526.3,1192.5 527.3,1192.5 528.3,1192.5 529.3,1192.6 530.3,1192.6 531.3,1192.6 532.3,1192.6 533.3,1192.6 534.3,1192.7 535.3,1192.7 536.3,1192.7 537.3,1192.7 538.3,1192.7 539.3,1192.8 540.3,1192.8 541.3,1192.8 542.3,1192.8 543.3,1192.8 544.3,1192.9 545.3,1192.9 546.3,1192.9 547.3,1192.9 548.3,1192.9 549.3,1192.9 550.3,1193.0 551.3,1193.0 552.3,1193.0 553.3,1193.0 554.3,1193.0 555.3,1193.0 556.4,1193.0 557.4,1193.1 558.4,1193.1 559.4,1193.1 560.4,1193.1 561.4,1193.1 562.4,1193.1 563.4,1193.1 564.4,1193.1 565.4,1193.2 566.4,1193.2 567.4,1193.2 568.4,1193.2 569.4,1193.2 570.4,1193.2 571.4,1193.2 572.4,1193.2 573.4,1193.3 574.4,1193.3 575.4,1193.3 576.4,1193.3 577.4,1193.3 578.4,1193.3 579.4,1193.3 580.4,1193.3 581.4,1193.3 582.4,1193.3 583.4,1193.4 584.4,1193.4 585.4,1193.4 586.4,1193.4 587.4,1193.4 588.4,1193.4 589.5,1193.4 590.5,1193.4 591.5,1193.4 592.5,1193.4 593.5,1193.4 594.5,1193.4 595.5,1193.5 596.5,1193.5 597.5,1193.5 598.5,1193.5 599.5,1193.5 600.5,1193.5 601.5,1193.5 602.5,1193.5 603.5,1193.5 604.5,1193.5 605.5,1193.5 606.5,1193.5 607.5,1193.5 608.5,1193.5 609.5,1193.6 610.5,1193.6 611.5,1193.6 612.5,1193.6 613.5,1193.6 614.5,1193.6 615.5,1193.6 616.5,1193.6 617.5,1193.6 618.5,1193.6 619.5,1193.6 620.5,1193.6 621.5,1193.6 622.5,1193.6 623.6,1193.6 624.6,1193.6 625.6,1193.7 626.6,1193.7 627.6,1193.7 628.6,1193.7 629.6,1193.7 630.6,1193.7 631.6,1193.7 632.6,1193.7 633.6,1193.7 634.6,1193.7 635.6,1193.7 636.6,1193.7 637.6,1193.7 638.6,1193.7 639.6,1193.7" fill="none" stroke="#5db9e6" stroke-width="2.2"/><path d="M234.9,1175.7h3.8v3.8h-3.8zM238.9,1176.4h3.8v3.8h-3.8zM243.0,1176.1h3.8v3.8h-3.8zM247.1,1175.6h3.8v3.8h-3.8zM251.1,1176.1h3.8v3.8h-3.8zM255.2,1175.8h3.8v3.8h-3.8zM259.2,1176.0h3.8v3.8h-3.8zM263.3,1175.6h3.8v3.8h-3.8zM267.4,1175.6h3.8v3.8h-3.8zM271.4,1175.6h3.8v3.8h-3.8zM275.5,1175.1h3.8v3.8h-3.8zM279.5,1174.7h3.8v3.8h-3.8zM283.6,1175.4h3.8v3.8h-3.8zM287.7,1174.5h3.8v3.8h-3.8zM291.7,1174.7h3.8v3.8h-3.8zM295.8,1174.9h3.8v3.8h-3.8zM299.8,1174.0h3.8v3.8h-3.8zM303.9,1173.0h3.8v3.8h-3.8zM308.0,1172.0h3.8v3.8h-3.8zM312.0,1170.5h3.8v3.8h-3.8zM316.1,1169.5h3.8v3.8h-3.8zM320.1,1167.2h3.8v3.8h-3.8zM324.2,1164.8h3.8v3.8h-3.8zM328.2,1162.8h3.8v3.8h-3.8zM332.3,1159.1h3.8v3.8h-3.8zM336.4,1154.7h3.8v3.8h-3.8zM340.4,1148.9h3.8v3.8h-3.8zM344.5,1143.4h3.8v3.8h-3.8zM348.6,1136.8h3.8v3.8h-3.8zM352.6,1130.2h3.8v3.8h-3.8zM356.7,1124.0h3.8v3.8h-3.8zM360.7,1117.4h3.8v3.8h-3.8zM364.8,1109.9h3.8v3.8h-3.8zM368.9,1105.5h3.8v3.8h-3.8zM372.9,1100.8h3.8v3.8h-3.8zM377.0,1096.2h3.8v3.8h-3.8zM381.0,1094.0h3.8v3.8h-3.8zM385.1,1093.6h3.8v3.8h-3.8zM389.1,1094.1h3.8v3.8h-3.8zM393.2,1096.2h3.8v3.8h-3.8zM397.3,1096.6h3.8v3.8h-3.8zM401.3,1097.9h3.8v3.8h-3.8zM405.4,1097.1h3.8v3.8h-3.8zM409.5,1097.2h3.8v3.8h-3.8zM413.5,1091.2h3.8v3.8h-3.8zM417.6,1085.6h3.8v3.8h-3.8zM421.6,1075.4h3.8v3.8h-3.8zM425.7,1064.9h3.8v3.8h-3.8zM429.8,1050.6h3.8v3.8h-3.8zM433.8,1039.1h3.8v3.8h-3.8zM437.9,1028.7h3.8v3.8h-3.8zM441.9,1023.0h3.8v3.8h-3.8zM446.0,1022.1h3.8v3.8h-3.8zM450.1,1026.2h3.8v3.8h-3.8zM454.1,1037.7h3.8v3.8h-3.8zM458.2,1049.9h3.8v3.8h-3.8zM462.2,1070.9h3.8v3.8h-3.8zM466.3,1087.5h3.8v3.8h-3.8zM470.4,1103.9h3.8v3.8h-3.8zM474.4,1119.0h3.8v3.8h-3.8zM478.5,1134.8h3.8v3.8h-3.8zM482.5,1143.1h3.8v3.8h-3.8zM486.6,1151.7h3.8v3.8h-3.8zM490.6,1158.1h3.8v3.8h-3.8zM494.7,1162.9h3.8v3.8h-3.8zM498.8,1167.3h3.8v3.8h-3.8zM502.8,1170.6h3.8v3.8h-3.8zM506.9,1173.2h3.8v3.8h-3.8zM511.0,1176.5h3.8v3.8h-3.8zM515.0,1177.8h3.8v3.8h-3.8zM519.1,1179.6h3.8v3.8h-3.8zM523.1,1180.1h3.8v3.8h-3.8zM527.2,1180.3h3.8v3.8h-3.8zM531.2,1181.6h3.8v3.8h-3.8zM535.3,1181.6h3.8v3.8h-3.8zM539.4,1181.5h3.8v3.8h-3.8zM543.4,1182.7h3.8v3.8h-3.8zM547.5,1183.1h3.8v3.8h-3.8zM551.5,1183.7h3.8v3.8h-3.8zM555.6,1183.9h3.8v3.8h-3.8zM559.7,1184.3h3.8v3.8h-3.8zM563.7,1185.3h3.8v3.8h-3.8zM567.8,1186.6h3.8v3.8h-3.8zM571.9,1187.4h3.8v3.8h-3.8zM575.9,1187.8h3.8v3.8h-3.8zM580.0,1187.9h3.8v3.8h-3.8zM584.0,1188.3h3.8v3.8h-3.8zM588.1,1189.5h3.8v3.8h-3.8zM592.1,1189.9h3.8v3.8h-3.8zM596.2,1190.2h3.8v3.8h-3.8zM600.3,1190.2h3.8v3.8h-3.8zM604.3,1190.2h3.8v3.8h-3.8zM608.4,1190.7h3.8v3.8h-3.8zM612.5,1191.2h3.8v3.8h-3.8zM616.5,1191.7h3.8v3.8h-3.8zM620.6,1191.7h3.8v3.8h-3.8zM624.6,1191.2h3.8v3.8h-3.8zM628.7,1192.1h3.8v3.8h-3.8zM632.8,1191.9h3.8v3.8h-3.8zM636.8,1191.7h3.8v3.8h-3.8z" fill="#000" fill-opacity="0.45"/><path d="M918.6,258.5h3.8v3.8h-3.8zM922.6,258.6h3.8v3.8h-3.8zM926.7,258.6h3.8v3.8h-3.8zM930.8,258.7h3.8v3.8h-3.8zM934.8,258.2h3.8v3.8h-3.8zM938.9,258.4h3.8v3.8h-3.8zM943.0,258.7h3.8v3.8h-3.8zM947.0,258.9h3.8v3.8h-3.8zM951.1,258.9h3.8v3.8h-3.8zM955.1,258.9h3.8v3.8h-3.8zM959.2,258.3h3.8v3.8h-3.8zM963.3,258.5h3.8v3.8h-3.8zM967.3,258.3h3.8v3.8h-3.8zM971.4,258.2h3.8v3.8h-3.8zM975.5,258.3h3.8v3.8h-3.8zM979.5,258.1h3.8v3.8h-3.8zM983.6,258.6h3.8v3.8h-3.8zM987.7,258.1h3.8v3.8h-3.8zM991.7,257.5h3.8v3.8h-3.8zM995.8,258.0h3.8v3.8h-3.8zM999.9,257.7h3.8v3.8h-3.8zM1003.9,257.5h3.8v3.8h-3.8zM1008.0,257.5h3.8v3.8h-3.8zM1012.0,256.9h3.8v3.8h-3.8zM1016.1,256.5h3.8v3.8h-3.8zM1020.2,256.7h3.8v3.8h-3.8zM1024.2,255.9h3.8v3.8h-3.8zM1028.3,254.8h3.8v3.8h-3.8zM1032.4,254.7h3.8v3.8h-3.8zM1036.4,252.9h3.8v3.8h-3.8zM1040.5,252.2h3.8v3.8h-3.8zM1044.6,250.6h3.8v3.8h-3.8zM1048.6,248.9h3.8v3.8h-3.8zM1052.7,246.0h3.8v3.8h-3.8zM1056.7,242.9h3.8v3.8h-3.8zM1060.8,240.5h3.8v3.8h-3.8zM1064.9,237.2h3.8v3.8h-3.8zM1068.9,233.0h3.8v3.8h-3.8zM1073.0,227.7h3.8v3.8h-3.8zM1077.1,222.3h3.8v3.8h-3.8zM1081.1,216.1h3.8v3.8h-3.8zM1085.2,209.2h3.8v3.8h-3.8zM1089.3,201.5h3.8v3.8h-3.8zM1093.3,191.6h3.8v3.8h-3.8zM1097.4,179.0h3.8v3.8h-3.8zM1101.4,166.9h3.8v3.8h-3.8zM1105.5,151.1h3.8v3.8h-3.8zM1109.6,137.7h3.8v3.8h-3.8zM1113.6,119.6h3.8v3.8h-3.8zM1117.7,108.2h3.8v3.8h-3.8zM1121.8,102.5h3.8v3.8h-3.8zM1125.8,101.0h3.8v3.8h-3.8zM1129.9,110.7h3.8v3.8h-3.8zM1134.0,123.3h3.8v3.8h-3.8zM1138.0,141.7h3.8v3.8h-3.8zM1142.1,159.5h3.8v3.8h-3.8zM1146.2,183.8h3.8v3.8h-3.8zM1150.2,198.7h3.8v3.8h-3.8zM1154.3,212.4h3.8v3.8h-3.8zM1158.3,223.2h3.8v3.8h-3.8zM1162.4,233.3h3.8v3.8h-3.8zM1166.5,237.6h3.8v3.8h-3.8zM1170.5,242.8h3.8v3.8h-3.8zM1174.6,247.1h3.8v3.8h-3.8zM1178.7,250.3h3.8v3.8h-3.8zM1182.7,254.0h3.8v3.8h-3.8zM1186.8,256.5h3.8v3.8h-3.8zM1190.9,258.2h3.8v3.8h-3.8zM1194.9,259.1h3.8v3.8h-3.8zM1199.0,259.5h3.8v3.8h-3.8zM1203.0,260.3h3.8v3.8h-3.8zM1207.1,261.1h3.8v3.8h-3.8zM1211.2,262.1h3.8v3.8h-3.8zM1215.2,262.2h3.8v3.8h-3.8zM1219.3,263.3h3.8v3.8h-3.8zM1223.4,263.1h3.8v3.8h-3.8zM1227.4,263.7h3.8v3.8h-3.8zM1231.5,263.3h3.8v3.8h-3.8zM1235.6,264.4h3.8v3.8h-3.8zM1239.6,265.0h3.8v3.8h-3.8zM1243.7,266.8h3.8v3.8h-3.8zM1247.8,267.4h3.8v3.8h-3.8zM1251.8,268.4h3.8v3.8h-3.8zM1255.9,268.7h3.8v3.8h-3.8zM1259.9,269.4h3.8v3.8h-3.8zM1264.0,269.7h3.8v3.8h-3.8zM1268.1,270.3h3.8v3.8h-3.8zM1272.1,270.4h3.8v3.8h-3.8zM1276.2,269.7h3.8v3.8h-3.8zM1280.3,270.5h3.8v3.8h-3.8zM1284.3,270.0h3.8v3.8h-3.8zM1288.4,270.9h3.8v3.8h-3.8zM1292.5,270.9h3.8v3.8h-3.8zM1296.5,270.7h3.8v3.8h-3.8zM1300.6,271.0h3.8v3.8h-3.8zM1304.6,271.0h3.8v3.8h-3.8zM1308.7,270.6h3.8v3.8h-3.8zM1312.8,270.7h3.8v3.8h-3.8zM1316.8,271.3h3.8v3.8h-3.8z" fill="#000"/><path d="M919.4,260.3 920.4,260.3 921.4,260.3 922.4,260.3 923.4,260.3 924.4,260.3 925.4,260.3 926.4,260.3 927.4,260.3 928.4,260.3 929.4,260.3 930.4,260.3 931.4,260.3 932.5,260.3 933.5,260.3 934.5,260.3 935.5,260.3 936.5,260.3 937.5,260.3 938.5,260.3 939.5,260.3 940.5,260.3 941.5,260.2 942.5,260.2 943.5,260.2 944.5,260.2 945.5,260.2 946.5,260.2 947.5,260.2 948.5,260.2 949.5,260.2 950.5,260.2 951.5,260.2 952.5,260.2 953.5,260.2 954.5,260.2 955.5,260.2 956.5,260.2 957.6,260.2 958.6,260.2 959.6,260.2 960.6,260.2 961.6,260.2 962.6,260.2 963.6,260.2 964.6,260.2 965.6,260.2 966.6,260.2 967.6,260.2 968.6,260.2 969.6,260.2 970.6,260.2 971.6,260.2 972.6,260.2 973.6,260.2 974.6,260.2 975.6,260.2 976.6,260.2 977.6,260.2 978.6,260.2 979.6,260.2 980.6,260.2 981.6,260.2 982.7,260.1 983.7,260.1 984.7,260.1 985.7,260.1 986.7,260.1 987.7,260.1 988.7,260.1 989.7,260.1 990.7,260.1 991.7,260.1 992.7,260.1 993.7,260.1 994.7,260.1 995.7,260.1 996.7,260.1 997.7,260.1 998.7,260.1 999.7,260.1 1000.7,260.1 1001.7,260.1 1002.7,260.1 1003.7,260.1 1004.7,260.1 1005.7,260.0 1006.7,260.0 1007.8,260.0 1008.8,260.0 1009.8,260.0 1010.8,260.0 1011.8,260.0 1012.8,260.0 1013.8,260.0 1014.8,260.0 1015.8,260.0 1016.8,260.0 1017.8,260.0 1018.8,259.9 1019.8,259.9 1020.8,259.9 1021.8,259.9 1022.8,259.9 1023.8,259.9 1024.8,259.9 1025.8,259.9 1026.8,259.8 1027.8,259.8 1028.8,259.8 1029.8,259.8 1030.8,259.8 1031.8,259.7 1032.9,259.7 1033.9,259.7 1034.9,259.7 1035.9,259.6 1036.9,259.6 1037.9,259.5 1038.9,259.5 1039.9,259.4 1040.9,259.4 1041.9,259.3 1042.9,259.2 1043.9,259.1 1044.9,259.0 1045.9,258.9 1046.9,258.8 1047.9,258.6 1048.9,258.5 1049.9,258.3 1050.9,258.1 1051.9,257.9 1052.9,257.7 1053.9,257.4 1054.9,257.1 1055.9,256.8 1056.9,256.5 1058.0,256.1 1059.0,255.7 1060.0,255.2 1061.0,254.7 1062.0,254.1 1063.0,253.5 1064.0,252.8 1065.0,252.1 1066.0,251.3 1067.0,250.5 1068.0,249.5 1069.0,248.5 1070.0,247.4 1071.0,246.3 1072.0,245.0 1073.0,243.7 1074.0,242.2 1075.0,240.7 1076.0,239.0 1077.0,237.3 1078.0,235.4 1079.0,233.5 1080.0,231.4 1081.0,229.2 1082.0,226.9 1083.1,224.5 1084.1,222.0 1085.1,219.3 1086.1,216.6 1087.1,213.7 1088.1,210.8 1089.1,207.7 1090.1,204.5 1091.1,201.3 1092.1,197.9 1093.1,194.5 1094.1,191.0 1095.1,187.5 1096.1,183.9 1097.1,180.2 1098.1,176.5 1099.1,172.8 1100.1,169.1 1101.1,165.4 1102.1,161.7 1103.1,158.0 1104.1,154.4 1105.1,150.9 1106.1,147.4 1107.1,144.0 1108.2,140.7 1109.2,137.6 1110.2,134.5 1111.2,131.7 1112.2,129.0 1113.2,126.5 1114.2,124.1 1115.2,122.0 1116.2,120.1 1117.2,118.4 1118.2,117.0 1119.2,115.8 1120.2,114.8 1121.2,114.1 1122.2,113.7 1123.2,113.6 1124.2,113.7 1125.2,114.0 1126.2,114.6 1127.2,115.4 1128.2,116.5 1129.2,117.7 1130.2,119.3 1131.2,121.0 1132.2,122.9 1133.3,125.0 1134.3,127.3 1135.3,129.8 1136.3,132.5 1137.3,135.3 1138.3,138.3 1139.3,141.4 1140.3,144.6 1141.3,148.0 1142.3,151.4 1143.3,155.0 1144.3,158.6 1145.3,162.3 1146.3,166.1 1147.3,169.9 1148.3,173.7 1149.3,177.6 1150.3,181.5 1151.3,185.3 1152.3,189.2 1153.3,193.0 1154.3,196.7 1155.3,200.4 1156.3,204.0 1157.3,207.6 1158.4,211.0 1159.4,214.4 1160.4,217.6 1161.4,220.8 1162.4,223.8 1163.4,226.7 1164.4,229.4 1165.4,232.1 1166.4,234.6 1167.4,237.0 1168.4,239.3 1169.4,241.4 1170.4,243.4 1171.4,245.4 1172.4,247.2 1173.4,248.9 1174.4,250.5 1175.4,252.0 1176.4,253.4 1177.4,254.7 1178.4,256.0 1179.4,257.1 1180.4,258.2 1181.4,259.3 1182.4,260.2 1183.5,261.1 1184.5,261.9 1185.5,262.7 1186.5,263.4 1187.5,264.1 1188.5,264.7 1189.5,265.3 1190.5,265.8 1191.5,266.3 1192.5,266.7 1193.5,267.1 1194.5,267.5 1195.5,267.9 1196.5,268.2 1197.5,268.5 1198.5,268.8 1199.5,269.1 1200.5,269.3 1201.5,269.5 1202.5,269.7 1203.5,269.9 1204.5,270.1 1205.5,270.2 1206.5,270.4 1207.5,270.5 1208.6,270.6 1209.6,270.8 1210.6,270.9 1211.6,271.0 1212.6,271.1 1213.6,271.2 1214.6,271.2 1215.6,271.3 1216.6,271.4 1217.6,271.4 1218.6,271.5 1219.6,271.6 1220.6,271.6 1221.6,271.7 1222.6,271.7 1223.6,271.8 1224.6,271.8 1225.6,271.9 1226.6,271.9 1227.6,271.9 1228.6,272.0 1229.6,272.0 1230.6,272.1 1231.6,272.1 1232.6,272.1 1233.7,272.2 1234.7,272.2 1235.7,272.2 1236.7,272.2 1237.7,272.3 1238.7,272.3 1239.7,272.3 1240.7,272.3 1241.7,272.4 1242.7,272.4 1243.7,272.4 1244.7,272.4 1245.7,272.5 1246.7,272.5 1247.7,272.5 1248.7,272.5 1249.7,272.5 1250.7,272.6 1251.7,272.6 1252.7,272.6 1253.7,272.6 1254.7,272.6 1255.7,272.7 1256.7,272.7 1257.7,272.7 1258.8,272.7 1259.8,272.7 1260.8,272.7 1261.8,272.8 1262.8,272.8 1263.8,272.8 1264.8,272.8 1265.8,272.8 1266.8,272.8 1267.8,272.8 1268.8,272.9 1269.8,272.9 1270.8,272.9 1271.8,272.9 1272.8,272.9 1273.8,272.9 1274.8,272.9 1275.8,273.0 1276.8,273.0 1277.8,273.0 1278.8,273.0 1279.8,273.0 1280.8,273.0 1281.8,273.0 1282.8,273.0 1283.9,273.0 1284.9,273.0 1285.9,273.1 1286.9,273.1 1287.9,273.1 1288.9,273.1 1289.9,273.1 1290.9,273.1 1291.9,273.1 1292.9,273.1 1293.9,273.1 1294.9,273.1 1295.9,273.1 1296.9,273.2 1297.9,273.2 1298.9,273.2 1299.9,273.2 1300.9,273.2 1301.9,273.2 1302.9,273.2 1303.9,273.2 1304.9,273.2 1305.9,273.2 1306.9,273.2 1307.9,273.2 1309.0,273.2 1310.0,273.3 1311.0,273.3 1312.0,273.3 1313.0,273.3 1314.0,273.3 1315.0,273.3 1316.0,273.3 1317.0,273.3 1318.0,273.3 1319.0,273.3 1320.0,273.3 1321.0,273.3" fill="none" stroke="#e8383f" stroke-width="2.2"/><path d="M919.4,261.6 920.4,261.6 921.4,261.6 922.4,261.6 923.4,261.6 924.4,261.6 925.4,261.6 926.4,261.6 927.4,261.6 928.4,261.6 929.4,261.6 930.4,261.6 931.4,261.6 932.5,261.6 933.5,261.6 934.5,261.6 935.5,261.6 936.5,261.6 937.5,261.6 938.5,261.6 939.5,261.6 940.5,261.6 941.5,261.6 942.5,261.6 943.5,261.6 944.5,261.6 945.5,261.6 946.5,261.6 947.5,261.6 948.5,261.6 949.5,261.6 950.5,261.6 951.5,261.6 952.5,261.6 953.5,261.6 954.5,261.6 955.5,261.6 956.5,261.6 957.6,261.6 958.6,261.6 959.6,261.6 960.6,261.6 961.6,261.6 962.6,261.6 963.6,261.6 964.6,261.6 965.6,261.6 966.6,261.6 967.6,261.6 968.6,261.6 969.6,261.6 970.6,261.6 971.6,261.6 972.6,261.6 973.6,261.6 974.6,261.6 975.6,261.6 976.6,261.6 977.6,261.6 978.6,261.6 979.6,261.6 980.6,261.6 981.6,261.6 982.7,261.6 983.7,261.6 984.7,261.6 985.7,261.6 986.7,261.6 987.7,261.6 988.7,261.6 989.7,261.6 990.7,261.6 991.7,261.6 992.7,261.6 993.7,261.6 994.7,261.6 995.7,261.6 996.7,261.6 997.7,261.6 998.7,261.6 999.7,261.6 1000.7,261.6 1001.7,261.6 1002.7,261.6 1003.7,261.6 1004.7,261.6 1005.7,261.6 1006.7,261.6 1007.8,261.6 1008.8,261.6 1009.8,261.6 1010.8,261.6 1011.8,261.6 1012.8,261.6 1013.8,261.6 1014.8,261.6 1015.8,261.6 1016.8,261.6 1017.8,261.6 1018.8,261.6 1019.8,261.6 1020.8,261.6 1021.8,261.6 1022.8,261.6 1023.8,261.6 1024.8,261.6 1025.8,261.6 1026.8,261.6 1027.8,261.6 1028.8,261.6 1029.8,261.6 1030.8,261.6 1031.8,261.6 1032.9,261.6 1033.9,261.6 1034.9,261.6 1035.9,261.6 1036.9,261.6 1037.9,261.6 1038.9,261.6 1039.9,261.6 1040.9,261.6 1041.9,261.6 1042.9,261.6 1043.9,261.6 1044.9,261.6 1045.9,261.6 1046.9,261.6 1047.9,261.6 1048.9,261.7 1049.9,261.7 1050.9,261.7 1051.9,261.7 1052.9,261.7 1053.9,261.7 1054.9,261.7 1055.9,261.7 1056.9,261.7 1058.0,261.7 1059.0,261.7 1060.0,261.7 1061.0,261.7 1062.0,261.7 1063.0,261.7 1064.0,261.7 1065.0,261.7 1066.0,261.8 1067.0,261.8 1068.0,261.8 1069.0,261.8 1070.0,261.8 1071.0,261.8 1072.0,261.9 1073.0,261.9 1074.0,261.9 1075.0,261.9 1076.0,262.0 1077.0,262.0 1078.0,262.0 1079.0,262.1 1080.0,262.1 1081.0,262.1 1082.0,262.2 1083.1,262.2 1084.1,262.3 1085.1,262.3 1086.1,262.4 1087.1,262.4 1088.1,262.5 1089.1,262.6 1090.1,262.6 1091.1,262.7 1092.1,262.8 1093.1,262.9 1094.1,263.0 1095.1,263.1 1096.1,263.2 1097.1,263.3 1098.1,263.4 1099.1,263.5 1100.1,263.6 1101.1,263.7 1102.1,263.9 1103.1,264.0 1104.1,264.1 1105.1,264.3 1106.1,264.4 1107.1,264.6 1108.2,264.7 1109.2,264.9 1110.2,265.0 1111.2,265.2 1112.2,265.4 1113.2,265.6 1114.2,265.7 1115.2,265.9 1116.2,266.1 1117.2,266.3 1118.2,266.5 1119.2,266.7 1120.2,266.9 1121.2,267.1 1122.2,267.2 1123.2,267.4 1124.2,267.6 1125.2,267.8 1126.2,268.0 1127.2,268.2 1128.2,268.4 1129.2,268.6 1130.2,268.8 1131.2,269.0 1132.2,269.2 1133.3,269.3 1134.3,269.5 1135.3,269.7 1136.3,269.9 1137.3,270.0 1138.3,270.2 1139.3,270.4 1140.3,270.5 1141.3,270.7 1142.3,270.8 1143.3,271.0 1144.3,271.1 1145.3,271.2 1146.3,271.4 1147.3,271.5 1148.3,271.6 1149.3,271.7 1150.3,271.9 1151.3,272.0 1152.3,272.1 1153.3,272.2 1154.3,272.3 1155.3,272.4 1156.3,272.4 1157.3,272.5 1158.4,272.6 1159.4,272.7 1160.4,272.8 1161.4,272.8 1162.4,272.9 1163.4,273.0 1164.4,273.0 1165.4,273.1 1166.4,273.1 1167.4,273.2 1168.4,273.2 1169.4,273.3 1170.4,273.3 1171.4,273.3 1172.4,273.4 1173.4,273.4 1174.4,273.4 1175.4,273.5 1176.4,273.5 1177.4,273.5 1178.4,273.5 1179.4,273.6 1180.4,273.6 1181.4,273.6 1182.4,273.6 1183.5,273.6 1184.5,273.7 1185.5,273.7 1186.5,273.7 1187.5,273.7 1188.5,273.7 1189.5,273.7 1190.5,273.7 1191.5,273.8 1192.5,273.8 1193.5,273.8 1194.5,273.8 1195.5,273.8 1196.5,273.8 1197.5,273.8 1198.5,273.8 1199.5,273.8 1200.5,273.8 1201.5,273.8 1202.5,273.8 1203.5,273.8 1204.5,273.8 1205.5,273.9 1206.5,273.9 1207.5,273.9 1208.6,273.9 1209.6,273.9 1210.6,273.9 1211.6,273.9 1212.6,273.9 1213.6,273.9 1214.6,273.9 1215.6,273.9 1216.6,273.9 1217.6,273.9 1218.6,273.9 1219.6,273.9 1220.6,273.9 1221.6,273.9 1222.6,273.9 1223.6,273.9 1224.6,273.9 1225.6,273.9 1226.6,273.9 1227.6,273.9 1228.6,273.9 1229.6,273.9 1230.6,273.9 1231.6,273.9 1232.6,273.9 1233.7,273.9 1234.7,273.9 1235.7,273.9 1236.7,274.0 1237.7,274.0 1238.7,274.0 1239.7,274.0 1240.7,274.0 1241.7,274.0 1242.7,274.0 1243.7,274.0 1244.7,274.0 1245.7,274.0 1246.7,274.0 1247.7,274.0 1248.7,274.0 1249.7,274.0 1250.7,274.0 1251.7,274.0 1252.7,274.0 1253.7,274.0 1254.7,274.0 1255.7,274.0 1256.7,274.0 1257.7,274.0 1258.8,274.0 1259.8,274.0 1260.8,274.0 1261.8,274.0 1262.8,274.0 1263.8,274.0 1264.8,274.0 1265.8,274.0 1266.8,274.0 1267.8,274.0 1268.8,274.0 1269.8,274.0 1270.8,274.0 1271.8,274.0 1272.8,274.0 1273.8,274.0 1274.8,274.0 1275.8,274.0 1276.8,274.0 1277.8,274.0 1278.8,274.0 1279.8,274.0 1280.8,274.0 1281.8,274.0 1282.8,274.0 1283.9,274.0 1284.9,274.0 1285.9,274.0 1286.9,274.0 1287.9,274.0 1288.9,274.0 1289.9,274.0 1290.9,274.0 1291.9,274.0 1292.9,274.0 1293.9,274.0 1294.9,274.0 1295.9,274.0 1296.9,274.0 1297.9,274.0 1298.9,274.0 1299.9,274.0 1300.9,274.0 1301.9,274.0 1302.9,274.0 1303.9,274.0 1304.9,274.0 1305.9,274.0 1306.9,274.0 1307.9,274.0 1309.0,274.0 1310.0,274.0 1311.0,274.1 1312.0,274.1 1313.0,274.1 1314.0,274.1 1315.0,274.1 1316.0,274.1 1317.0,274.1 1318.0,274.1 1319.0,274.1 1320.0,274.1 1321.0,274.1" fill="none" stroke="#5db9e6" stroke-width="2.2"/><path d="M918.6,258.5h3.8v3.8h-3.8zM922.6,258.6h3.8v3.8h-3.8zM926.7,258.6h3.8v3.8h-3.8zM930.8,258.7h3.8v3.8h-3.8zM934.8,258.2h3.8v3.8h-3.8zM938.9,258.4h3.8v3.8h-3.8zM943.0,258.7h3.8v3.8h-3.8zM947.0,258.9h3.8v3.8h-3.8zM951.1,258.9h3.8v3.8h-3.8zM955.1,258.9h3.8v3.8h-3.8zM959.2,258.3h3.8v3.8h-3.8zM963.3,258.5h3.8v3.8h-3.8zM967.3,258.3h3.8v3.8h-3.8zM971.4,258.2h3.8v3.8h-3.8zM975.5,258.3h3.8v3.8h-3.8zM979.5,258.1h3.8v3.8h-3.8zM983.6,258.6h3.8v3.8h-3.8zM987.7,258.1h3.8v3.8h-3.8zM991.7,257.5h3.8v3.8h-3.8zM995.8,258.0h3.8v3.8h-3.8zM999.9,257.7h3.8v3.8h-3.8zM1003.9,257.5h3.8v3.8h-3.8zM1008.0,257.5h3.8v3.8h-3.8zM1012.0,256.9h3.8v3.8h-3.8zM1016.1,256.5h3.8v3.8h-3.8zM1020.2,256.7h3.8v3.8h-3.8zM1024.2,255.9h3.8v3.8h-3.8zM1028.3,254.8h3.8v3.8h-3.8zM1032.4,254.7h3.8v3.8h-3.8zM1036.4,252.9h3.8v3.8h-3.8zM1040.5,252.2h3.8v3.8h-3.8zM1044.6,250.6h3.8v3.8h-3.8zM1048.6,248.9h3.8v3.8h-3.8zM1052.7,246.0h3.8v3.8h-3.8zM1056.7,242.9h3.8v3.8h-3.8zM1060.8,240.5h3.8v3.8h-3.8zM1064.9,237.2h3.8v3.8h-3.8zM1068.9,233.0h3.8v3.8h-3.8zM1073.0,227.7h3.8v3.8h-3.8zM1077.1,222.3h3.8v3.8h-3.8zM1081.1,216.1h3.8v3.8h-3.8zM1085.2,209.2h3.8v3.8h-3.8zM1089.3,201.5h3.8v3.8h-3.8zM1093.3,191.6h3.8v3.8h-3.8zM1097.4,179.0h3.8v3.8h-3.8zM1101.4,166.9h3.8v3.8h-3.8zM1105.5,151.1h3.8v3.8h-3.8zM1109.6,137.7h3.8v3.8h-3.8zM1113.6,119.6h3.8v3.8h-3.8zM1117.7,108.2h3.8v3.8h-3.8zM1121.8,102.5h3.8v3.8h-3.8zM1125.8,101.0h3.8v3.8h-3.8zM1129.9,110.7h3.8v3.8h-3.8zM1134.0,123.3h3.8v3.8h-3.8zM1138.0,141.7h3.8v3.8h-3.8zM1142.1,159.5h3.8v3.8h-3.8zM1146.2,183.8h3.8v3.8h-3.8zM1150.2,198.7h3.8v3.8h-3.8zM1154.3,212.4h3.8v3.8h-3.8zM1158.3,223.2h3.8v3.8h-3.8zM1162.4,233.3h3.8v3.8h-3.8zM1166.5,237.6h3.8v3.8h-3.8zM1170.5,242.8h3.8v3.8h-3.8zM1174.6,247.1h3.8v3.8h-3.8zM1178.7,250.3h3.8v3.8h-3.8zM1182.7,254.0h3.8v3.8h-3.8zM1186.8,256.5h3.8v3.8h-3.8zM1190.9,258.2h3.8v3.8h-3.8zM1194.9,259.1h3.8v3.8h-3.8zM1199.0,259.5h3.8v3.8h-3.8zM1203.0,260.3h3.8v3.8h-3.8zM1207.1,261.1h3.8v3.8h-3.8zM1211.2,262.1h3.8v3.8h-3.8zM1215.2,262.2h3.8v3.8h-3.8zM1219.3,263.3h3.8v3.8h-3.8zM1223.4,263.1h3.8v3.8h-3.8zM1227.4,263.7h3.8v3.8h-3.8zM1231.5,263.3h3.8v3.8h-3.8zM1235.6,264.4h3.8v3.8h-3.8zM1239.6,265.0h3.8v3.8h-3.8zM1243.7,266.8h3.8v3.8h-3.8zM1247.8,267.4h3.8v3.8h-3.8zM1251.8,268.4h3.8v3.8h-3.8zM1255.9,268.7h3.8v3.8h-3.8zM1259.9,269.4h3.8v3.8h-3.8zM1264.0,269.7h3.8v3.8h-3.8zM1268.1,270.3h3.8v3.8h-3.8zM1272.1,270.4h3.8v3.8h-3.8zM1276.2,269.7h3.8v3.8h-3.8zM1280.3,270.5h3.8v3.8h-3.8zM1284.3,270.0h3.8v3.8h-3.8zM1288.4,270.9h3.8v3.8h-3.8zM1292.5,270.9h3.8v3.8h-3.8zM1296.5,270.7h3.8v3.8h-3.8zM1300.6,271.0h3.8v3.8h-3.8zM1304.6,271.0h3.8v3.8h-3.8zM1308.7,270.6h3.8v3.8h-3.8zM1312.8,270.7h3.8v3.8h-3.8zM1316.8,271.3h3.8v3.8h-3.8z" fill="#000" fill-opacity="0.45"/><path d="M915.8,473.8h3.8v3.8h-3.8zM919.8,474.4h3.8v3.8h-3.8zM923.9,473.7h3.8v3.8h-3.8zM928.0,474.2h3.8v3.8h-3.8zM932.0,473.9h3.8v3.8h-3.8zM936.1,473.4h3.8v3.8h-3.8zM940.2,473.5h3.8v3.8h-3.8zM944.2,473.6h3.8v3.8h-3.8zM948.3,474.0h3.8v3.8h-3.8zM952.4,473.8h3.8v3.8h-3.8zM956.4,473.0h3.8v3.8h-3.8zM960.5,473.3h3.8v3.8h-3.8zM964.5,473.7h3.8v3.8h-3.8zM968.6,473.5h3.8v3.8h-3.8zM972.7,473.0h3.8v3.8h-3.8zM976.7,472.9h3.8v3.8h-3.8zM980.8,473.1h3.8v3.8h-3.8zM984.9,472.5h3.8v3.8h-3.8zM988.9,473.0h3.8v3.8h-3.8zM993.0,473.3h3.8v3.8h-3.8zM997.1,472.9h3.8v3.8h-3.8zM1001.1,472.5h3.8v3.8h-3.8zM1005.2,472.3h3.8v3.8h-3.8zM1009.3,472.8h3.8v3.8h-3.8zM1013.3,472.4h3.8v3.8h-3.8zM1017.4,472.0h3.8v3.8h-3.8zM1021.4,472.0h3.8v3.8h-3.8zM1025.5,472.1h3.8v3.8h-3.8zM1029.6,471.2h3.8v3.8h-3.8zM1033.6,471.0h3.8v3.8h-3.8zM1037.7,470.1h3.8v3.8h-3.8zM1041.8,470.4h3.8v3.8h-3.8zM1045.8,469.1h3.8v3.8h-3.8zM1049.9,468.1h3.8v3.8h-3.8zM1054.0,466.8h3.8v3.8h-3.8zM1058.0,465.8h3.8v3.8h-3.8zM1062.1,463.5h3.8v3.8h-3.8zM1066.1,461.5h3.8v3.8h-3.8zM1070.2,458.7h3.8v3.8h-3.8zM1074.3,455.2h3.8v3.8h-3.8zM1078.3,449.6h3.8v3.8h-3.8zM1082.4,443.8h3.8v3.8h-3.8zM1086.5,437.1h3.8v3.8h-3.8zM1090.5,428.9h3.8v3.8h-3.8zM1094.6,415.2h3.8v3.8h-3.8zM1098.7,402.1h3.8v3.8h-3.8zM1102.7,385.0h3.8v3.8h-3.8zM1106.8,367.4h3.8v3.8h-3.8zM1110.9,342.9h3.8v3.8h-3.8zM1114.9,325.9h3.8v3.8h-3.8zM1119.0,312.0h3.8v3.8h-3.8zM1123.0,302.7h3.8v3.8h-3.8zM1127.1,301.0h3.8v3.8h-3.8zM1131.2,305.2h3.8v3.8h-3.8zM1135.2,315.9h3.8v3.8h-3.8zM1139.3,330.2h3.8v3.8h-3.8zM1143.4,352.2h3.8v3.8h-3.8zM1147.4,376.6h3.8v3.8h-3.8zM1151.5,395.1h3.8v3.8h-3.8zM1155.6,410.1h3.8v3.8h-3.8zM1159.6,422.2h3.8v3.8h-3.8zM1163.7,435.9h3.8v3.8h-3.8zM1167.7,442.5h3.8v3.8h-3.8zM1171.8,449.9h3.8v3.8h-3.8zM1175.9,457.8h3.8v3.8h-3.8zM1179.9,461.6h3.8v3.8h-3.8zM1184.0,465.7h3.8v3.8h-3.8zM1188.1,468.7h3.8v3.8h-3.8zM1192.1,470.7h3.8v3.8h-3.8zM1196.2,473.1h3.8v3.8h-3.8zM1200.3,473.7h3.8v3.8h-3.8zM1204.3,475.5h3.8v3.8h-3.8zM1208.4,476.1h3.8v3.8h-3.8zM1212.5,476.1h3.8v3.8h-3.8zM1216.5,476.3h3.8v3.8h-3.8zM1220.6,476.8h3.8v3.8h-3.8zM1224.6,477.0h3.8v3.8h-3.8zM1228.7,477.0h3.8v3.8h-3.8zM1232.8,477.0h3.8v3.8h-3.8zM1236.8,477.1h3.8v3.8h-3.8zM1240.9,478.1h3.8v3.8h-3.8zM1245.0,479.1h3.8v3.8h-3.8zM1249.0,480.1h3.8v3.8h-3.8zM1253.1,480.9h3.8v3.8h-3.8zM1257.2,481.4h3.8v3.8h-3.8zM1261.2,482.1h3.8v3.8h-3.8zM1265.3,482.6h3.8v3.8h-3.8zM1269.3,483.4h3.8v3.8h-3.8zM1273.4,483.0h3.8v3.8h-3.8zM1277.5,483.1h3.8v3.8h-3.8zM1281.5,483.4h3.8v3.8h-3.8zM1285.6,483.8h3.8v3.8h-3.8zM1289.7,483.5h3.8v3.8h-3.8zM1293.7,483.7h3.8v3.8h-3.8zM1297.8,483.9h3.8v3.8h-3.8zM1301.9,484.1h3.8v3.8h-3.8zM1305.9,484.2h3.8v3.8h-3.8zM1310.0,484.1h3.8v3.8h-3.8zM1314.1,484.2h3.8v3.8h-3.8zM1318.1,484.7h3.8v3.8h-3.8z" fill="#000"/><path d="M919.4,476.3 920.4,476.3 921.4,476.3 922.4,476.3 923.4,476.2 924.4,476.2 925.4,476.2 926.4,476.2 927.4,476.2 928.4,476.2 929.4,476.2 930.4,476.2 931.4,476.2 932.5,476.2 933.5,476.2 934.5,476.2 935.5,476.2 936.5,476.2 937.5,476.2 938.5,476.2 939.5,476.2 940.5,476.2 941.5,476.2 942.5,476.2 943.5,476.2 944.5,476.2 945.5,476.2 946.5,476.2 947.5,476.1 948.5,476.1 949.5,476.1 950.5,476.1 951.5,476.1 952.5,476.1 953.5,476.1 954.5,476.1 955.5,476.1 956.5,476.1 957.6,476.1 958.6,476.1 959.6,476.1 960.6,476.1 961.6,476.1 962.6,476.1 963.6,476.1 964.6,476.0 965.6,476.0 966.6,476.0 967.6,476.0 968.6,476.0 969.6,476.0 970.6,476.0 971.6,476.0 972.6,476.0 973.6,476.0 974.6,476.0 975.6,476.0 976.6,476.0 977.6,475.9 978.6,475.9 979.6,475.9 980.6,475.9 981.6,475.9 982.7,475.9 983.7,475.9 984.7,475.9 985.7,475.9 986.7,475.9 987.7,475.8 988.7,475.8 989.7,475.8 990.7,475.8 991.7,475.8 992.7,475.8 993.7,475.8 994.7,475.8 995.7,475.8 996.7,475.7 997.7,475.7 998.7,475.7 999.7,475.7 1000.7,475.7 1001.7,475.7 1002.7,475.7 1003.7,475.6 1004.7,475.6 1005.7,475.6 1006.7,475.6 1007.8,475.6 1008.8,475.6 1009.8,475.6 1010.8,475.5 1011.8,475.5 1012.8,475.5 1013.8,475.5 1014.8,475.5 1015.8,475.4 1016.8,475.4 1017.8,475.4 1018.8,475.4 1019.8,475.4 1020.8,475.3 1021.8,475.3 1022.8,475.3 1023.8,475.3 1024.8,475.2 1025.8,475.2 1026.8,475.2 1027.8,475.2 1028.8,475.1 1029.8,475.1 1030.8,475.1 1031.8,475.0 1032.9,475.0 1033.9,475.0 1034.9,474.9 1035.9,474.9 1036.9,474.9 1037.9,474.8 1038.9,474.8 1039.9,474.7 1040.9,474.7 1041.9,474.6 1042.9,474.6 1043.9,474.5 1044.9,474.4 1045.9,474.4 1046.9,474.3 1047.9,474.2 1048.9,474.1 1049.9,474.0 1050.9,473.9 1051.9,473.8 1052.9,473.7 1053.9,473.6 1054.9,473.4 1055.9,473.3 1056.9,473.1 1058.0,472.9 1059.0,472.7 1060.0,472.4 1061.0,472.2 1062.0,471.9 1063.0,471.6 1064.0,471.2 1065.0,470.8 1066.0,470.4 1067.0,469.9 1068.0,469.4 1069.0,468.8 1070.0,468.1 1071.0,467.5 1072.0,466.7 1073.0,465.8 1074.0,464.9 1075.0,463.9 1076.0,462.9 1077.0,461.7 1078.0,460.4 1079.0,459.0 1080.0,457.5 1081.0,455.9 1082.0,454.2 1083.1,452.4 1084.1,450.4 1085.1,448.3 1086.1,446.1 1087.1,443.7 1088.1,441.2 1089.1,438.6 1090.1,435.8 1091.1,432.9 1092.1,429.9 1093.1,426.7 1094.1,423.5 1095.1,420.1 1096.1,416.6 1097.1,413.0 1098.1,409.3 1099.1,405.5 1100.1,401.6 1101.1,397.6 1102.1,393.6 1103.1,389.5 1104.1,385.3 1105.1,381.1 1106.1,376.8 1107.1,372.5 1108.2,368.1 1109.2,363.8 1110.2,359.4 1111.2,355.1 1112.2,350.9 1113.2,346.7 1114.2,342.5 1115.2,338.5 1116.2,334.7 1117.2,331.0 1118.2,327.5 1119.2,324.2 1120.2,321.1 1121.2,318.3 1122.2,315.8 1123.2,313.6 1124.2,311.8 1125.2,310.3 1126.2,309.1 1127.2,308.4 1128.2,308.0 1129.2,308.0 1130.2,308.3 1131.2,309.0 1132.2,310.0 1133.3,311.4 1134.3,313.0 1135.3,315.0 1136.3,317.3 1137.3,319.9 1138.3,322.8 1139.3,325.9 1140.3,329.2 1141.3,332.8 1142.3,336.5 1143.3,340.5 1144.3,344.6 1145.3,348.8 1146.3,353.1 1147.3,357.5 1148.3,362.1 1149.3,366.6 1150.3,371.2 1151.3,375.8 1152.3,380.4 1153.3,385.0 1154.3,389.6 1155.3,394.1 1156.3,398.6 1157.3,402.9 1158.4,407.2 1159.4,411.5 1160.4,415.6 1161.4,419.5 1162.4,423.4 1163.4,427.1 1164.4,430.8 1165.4,434.2 1166.4,437.6 1167.4,440.8 1168.4,443.8 1169.4,446.7 1170.4,449.5 1171.4,452.1 1172.4,454.6 1173.4,456.9 1174.4,459.1 1175.4,461.2 1176.4,463.1 1177.4,465.0 1178.4,466.7 1179.4,468.3 1180.4,469.7 1181.4,471.1 1182.4,472.4 1183.5,473.6 1184.5,474.6 1185.5,475.6 1186.5,476.6 1187.5,477.4 1188.5,478.2 1189.5,478.9 1190.5,479.6 1191.5,480.1 1192.5,480.7 1193.5,481.2 1194.5,481.6 1195.5,482.0 1196.5,482.4 1197.5,482.7 1198.5,483.0 1199.5,483.3 1200.5,483.6 1201.5,483.8 1202.5,484.0 1203.5,484.2 1204.5,484.3 1205.5,484.5 1206.5,484.6 1207.5,484.8 1208.6,484.9 1209.6,485.0 1210.6,485.1 1211.6,485.1 1212.6,485.2 1213.6,485.3 1214.6,485.4 1215.6,485.4 1216.6,485.5 1217.6,485.5 1218.6,485.6 1219.6,485.6 1220.6,485.7 1221.6,485.7 1222.6,485.7 1223.6,485.8 1224.6,485.8 1225.6,485.8 1226.6,485.9 1227.6,485.9 1228.6,485.9 1229.6,485.9 1230.6,486.0 1231.6,486.0 1232.6,486.0 1233.7,486.0 1234.7,486.0 1235.7,486.1 1236.7,486.1 1237.7,486.1 1238.7,486.1 1239.7,486.1 1240.7,486.2 1241.7,486.2 1242.7,486.2 1243.7,486.2 1244.7,486.2 1245.7,486.2 1246.7,486.3 1247.7,486.3 1248.7,486.3 1249.7,486.3 1250.7,486.3 1251.7,486.3 1252.7,486.3 1253.7,486.3 1254.7,486.4 1255.7,486.4 1256.7,486.4 1257.7,486.4 1258.8,486.4 1259.8,486.4 1260.8,486.4 1261.8,486.4 1262.8,486.4 1263.8,486.5 1264.8,486.5 1265.8,486.5 1266.8,486.5 1267.8,486.5 1268.8,486.5 1269.8,486.5 1270.8,486.5 1271.8,486.5 1272.8,486.5 1273.8,486.5 1274.8,486.6 1275.8,486.6 1276.8,486.6 1277.8,486.6 1278.8,486.6 1279.8,486.6 1280.8,486.6 1281.8,486.6 1282.8,486.6 1283.9,486.6 1284.9,486.6 1285.9,486.6 1286.9,486.6 1287.9,486.6 1288.9,486.6 1289.9,486.7 1290.9,486.7 1291.9,486.7 1292.9,486.7 1293.9,486.7 1294.9,486.7 1295.9,486.7 1296.9,486.7 1297.9,486.7 1298.9,486.7 1299.9,486.7 1300.9,486.7 1301.9,486.7 1302.9,486.7 1303.9,486.7 1304.9,486.7 1305.9,486.7 1306.9,486.7 1307.9,486.7 1309.0,486.8 1310.0,486.8 1311.0,486.8 1312.0,486.8 1313.0,486.8 1314.0,486.8 1315.0,486.8 1316.0,486.8 1317.0,486.8 1318.0,486.8 1319.0,486.8 1320.0,486.8 1321.0,486.8" fill="none" stroke="#e8383f" stroke-width="2.2"/><path d="M919.4,476.6 920.4,476.6 921.4,476.6 922.4,476.6 923.4,476.6 924.4,476.6 925.4,476.6 926.4,476.6 927.4,476.6 928.4,476.6 929.4,476.6 930.4,476.6 931.4,476.6 932.5,476.6 933.5,476.6 934.5,476.6 935.5,476.6 936.5,476.6 937.5,476.6 938.5,476.6 939.5,476.6 940.5,476.6 941.5,476.6 942.5,476.6 943.5,476.6 944.5,476.6 945.5,476.6 946.5,476.6 947.5,476.6 948.5,476.6 949.5,476.6 950.5,476.6 951.5,476.6 952.5,476.6 953.5,476.6 954.5,476.6 955.5,476.6 956.5,476.6 957.6,476.6 958.6,476.6 959.6,476.6 960.6,476.6 961.6,476.6 962.6,476.6 963.6,476.6 964.6,476.6 965.6,476.6 966.6,476.6 967.6,476.6 968.6,476.6 969.6,476.6 970.6,476.6 971.6,476.6 972.6,476.6 973.6,476.6 974.6,476.6 975.6,476.6 976.6,476.6 977.6,476.6 978.6,476.6 979.6,476.6 980.6,476.6 981.6,476.6 982.7,476.6 983.7,476.6 984.7,476.6 985.7,476.6 986.7,476.6 987.7,476.6 988.7,476.6 989.7,476.6 990.7,476.6 991.7,476.6 992.7,476.6 993.7,476.6 994.7,476.6 995.7,476.6 996.7,476.6 997.7,476.6 998.7,476.6 999.7,476.6 1000.7,476.6 1001.7,476.6 1002.7,476.6 1003.7,476.6 1004.7,476.6 1005.7,476.6 1006.7,476.6 1007.8,476.6 1008.8,476.6 1009.8,476.6 1010.8,476.6 1011.8,476.6 1012.8,476.6 1013.8,476.6 1014.8,476.6 1015.8,476.6 1016.8,476.6 1017.8,476.6 1018.8,476.6 1019.8,476.6 1020.8,476.6 1021.8,476.6 1022.8,476.6 1023.8,476.6 1024.8,476.6 1025.8,476.6 1026.8,476.6 1027.8,476.6 1028.8,476.6 1029.8,476.6 1030.8,476.6 1031.8,476.6 1032.9,476.6 1033.9,476.6 1034.9,476.7 1035.9,476.7 1036.9,476.7 1037.9,476.7 1038.9,476.7 1039.9,476.7 1040.9,476.7 1041.9,476.7 1042.9,476.7 1043.9,476.7 1044.9,476.7 1045.9,476.7 1046.9,476.7 1047.9,476.7 1048.9,476.7 1049.9,476.7 1050.9,476.7 1051.9,476.7 1052.9,476.7 1053.9,476.7 1054.9,476.7 1055.9,476.7 1056.9,476.7 1058.0,476.7 1059.0,476.7 1060.0,476.7 1061.0,476.7 1062.0,476.7 1063.0,476.7 1064.0,476.7 1065.0,476.7 1066.0,476.7 1067.0,476.7 1068.0,476.8 1069.0,476.8 1070.0,476.8 1071.0,476.8 1072.0,476.8 1073.0,476.8 1074.0,476.8 1075.0,476.8 1076.0,476.8 1077.0,476.9 1078.0,476.9 1079.0,476.9 1080.0,476.9 1081.0,476.9 1082.0,476.9 1083.1,477.0 1084.1,477.0 1085.1,477.0 1086.1,477.1 1087.1,477.1 1088.1,477.1 1089.1,477.2 1090.1,477.2 1091.1,477.3 1092.1,477.3 1093.1,477.3 1094.1,477.4 1095.1,477.5 1096.1,477.5 1097.1,477.6 1098.1,477.7 1099.1,477.7 1100.1,477.8 1101.1,477.9 1102.1,478.0 1103.1,478.1 1104.1,478.2 1105.1,478.3 1106.1,478.4 1107.1,478.5 1108.2,478.6 1109.2,478.7 1110.2,478.9 1111.2,479.0 1112.2,479.1 1113.2,479.3 1114.2,479.4 1115.2,479.6 1116.2,479.7 1117.2,479.9 1118.2,480.0 1119.2,480.2 1120.2,480.4 1121.2,480.6 1122.2,480.7 1123.2,480.9 1124.2,481.1 1125.2,481.3 1126.2,481.5 1127.2,481.7 1128.2,481.8 1129.2,482.0 1130.2,482.2 1131.2,482.4 1132.2,482.6 1133.3,482.8 1134.3,482.9 1135.3,483.1 1136.3,483.3 1137.3,483.5 1138.3,483.7 1139.3,483.8 1140.3,484.0 1141.3,484.2 1142.3,484.3 1143.3,484.5 1144.3,484.6 1145.3,484.8 1146.3,484.9 1147.3,485.0 1148.3,485.2 1149.3,485.3 1150.3,485.4 1151.3,485.6 1152.3,485.7 1153.3,485.8 1154.3,485.9 1155.3,486.0 1156.3,486.1 1157.3,486.2 1158.4,486.3 1159.4,486.3 1160.4,486.4 1161.4,486.5 1162.4,486.6 1163.4,486.6 1164.4,486.7 1165.4,486.7 1166.4,486.8 1167.4,486.8 1168.4,486.9 1169.4,486.9 1170.4,487.0 1171.4,487.0 1172.4,487.0 1173.4,487.1 1174.4,487.1 1175.4,487.1 1176.4,487.2 1177.4,487.2 1178.4,487.2 1179.4,487.2 1180.4,487.3 1181.4,487.3 1182.4,487.3 1183.5,487.3 1184.5,487.3 1185.5,487.3 1186.5,487.3 1187.5,487.3 1188.5,487.4 1189.5,487.4 1190.5,487.4 1191.5,487.4 1192.5,487.4 1193.5,487.4 1194.5,487.4 1195.5,487.4 1196.5,487.4 1197.5,487.4 1198.5,487.4 1199.5,487.4 1200.5,487.4 1201.5,487.4 1202.5,487.4 1203.5,487.4 1204.5,487.4 1205.5,487.4 1206.5,487.4 1207.5,487.5 1208.6,487.5 1209.6,487.5 1210.6,487.5 1211.6,487.5 1212.6,487.5 1213.6,487.5 1214.6,487.5 1215.6,487.5 1216.6,487.5 1217.6,487.5 1218.6,487.5 1219.6,487.5 1220.6,487.5 1221.6,487.5 1222.6,487.5 1223.6,487.5 1224.6,487.5 1225.6,487.5 1226.6,487.5 1227.6,487.5 1228.6,487.5 1229.6,487.5 1230.6,487.5 1231.6,487.5 1232.6,487.5 1233.7,487.5 1234.7,487.5 1235.7,487.5 1236.7,487.5 1237.7,487.5 1238.7,487.5 1239.7,487.5 1240.7,487.5 1241.7,487.5 1242.7,487.5 1243.7,487.5 1244.7,487.5 1245.7,487.5 1246.7,487.5 1247.7,487.5 1248.7,487.5 1249.7,487.5 1250.7,487.5 1251.7,487.5 1252.7,487.5 1253.7,487.5 1254.7,487.5 1255.7,487.5 1256.7,487.5 1257.7,487.5 1258.8,487.5 1259.8,487.5 1260.8,487.5 1261.8,487.5 1262.8,487.5 1263.8,487.5 1264.8,487.5 1265.8,487.5 1266.8,487.5 1267.8,487.5 1268.8,487.5 1269.8,487.5 1270.8,487.5 1271.8,487.5 1272.8,487.5 1273.8,487.5 1274.8,487.5 1275.8,487.5 1276.8,487.5 1277.8,487.5 1278.8,487.5 1279.8,487.5 1280.8,487.5 1281.8,487.5 1282.8,487.5 1283.9,487.5 1284.9,487.5 1285.9,487.5 1286.9,487.5 1287.9,487.5 1288.9,487.5 1289.9,487.5 1290.9,487.5 1291.9,487.5 1292.9,487.5 1293.9,487.5 1294.9,487.5 1295.9,487.5 1296.9,487.5 1297.9,487.5 1298.9,487.5 1299.9,487.5 1300.9,487.5 1301.9,487.5 1302.9,487.5 1303.9,487.5 1304.9,487.5 1305.9,487.5 1306.9,487.5 1307.9,487.5 1309.0,487.5 1310.0,487.5 1311.0,487.5 1312.0,487.6 1313.0,487.6 1314.0,487.6 1315.0,487.6 1316.0,487.6 1317.0,487.6 1318.0,487.6 1319.0,487.6 1320.0,487.6 1321.0,487.6" fill="none" stroke="#5db9e6" stroke-width="2.2"/><path d="M915.8,473.8h3.8v3.8h-3.8zM919.8,474.4h3.8v3.8h-3.8zM923.9,473.7h3.8v3.8h-3.8zM928.0,474.2h3.8v3.8h-3.8zM932.0,473.9h3.8v3.8h-3.8zM936.1,473.4h3.8v3.8h-3.8zM940.2,473.5h3.8v3.8h-3.8zM944.2,473.6h3.8v3.8h-3.8zM948.3,474.0h3.8v3.8h-3.8zM952.4,473.8h3.8v3.8h-3.8zM956.4,473.0h3.8v3.8h-3.8zM960.5,473.3h3.8v3.8h-3.8zM964.5,473.7h3.8v3.8h-3.8zM968.6,473.5h3.8v3.8h-3.8zM972.7,473.0h3.8v3.8h-3.8zM976.7,472.9h3.8v3.8h-3.8zM980.8,473.1h3.8v3.8h-3.8zM984.9,472.5h3.8v3.8h-3.8zM988.9,473.0h3.8v3.8h-3.8zM993.0,473.3h3.8v3.8h-3.8zM997.1,472.9h3.8v3.8h-3.8zM1001.1,472.5h3.8v3.8h-3.8zM1005.2,472.3h3.8v3.8h-3.8zM1009.3,472.8h3.8v3.8h-3.8zM1013.3,472.4h3.8v3.8h-3.8zM1017.4,472.0h3.8v3.8h-3.8zM1021.4,472.0h3.8v3.8h-3.8zM1025.5,472.1h3.8v3.8h-3.8zM1029.6,471.2h3.8v3.8h-3.8zM1033.6,471.0h3.8v3.8h-3.8zM1037.7,470.1h3.8v3.8h-3.8zM1041.8,470.4h3.8v3.8h-3.8zM1045.8,469.1h3.8v3.8h-3.8zM1049.9,468.1h3.8v3.8h-3.8zM1054.0,466.8h3.8v3.8h-3.8zM1058.0,465.8h3.8v3.8h-3.8zM1062.1,463.5h3.8v3.8h-3.8zM1066.1,461.5h3.8v3.8h-3.8zM1070.2,458.7h3.8v3.8h-3.8zM1074.3,455.2h3.8v3.8h-3.8zM1078.3,449.6h3.8v3.8h-3.8zM1082.4,443.8h3.8v3.8h-3.8zM1086.5,437.1h3.8v3.8h-3.8zM1090.5,428.9h3.8v3.8h-3.8zM1094.6,415.2h3.8v3.8h-3.8zM1098.7,402.1h3.8v3.8h-3.8zM1102.7,385.0h3.8v3.8h-3.8zM1106.8,367.4h3.8v3.8h-3.8zM1110.9,342.9h3.8v3.8h-3.8zM1114.9,325.9h3.8v3.8h-3.8zM1119.0,312.0h3.8v3.8h-3.8zM1123.0,302.7h3.8v3.8h-3.8zM1127.1,301.0h3.8v3.8h-3.8zM1131.2,305.2h3.8v3.8h-3.8zM1135.2,315.9h3.8v3.8h-3.8zM1139.3,330.2h3.8v3.8h-3.8zM1143.4,352.2h3.8v3.8h-3.8zM1147.4,376.6h3.8v3.8h-3.8zM1151.5,395.1h3.8v3.8h-3.8zM1155.6,410.1h3.8v3.8h-3.8zM1159.6,422.2h3.8v3.8h-3.8zM1163.7,435.9h3.8v3.8h-3.8zM1167.7,442.5h3.8v3.8h-3.8zM1171.8,449.9h3.8v3.8h-3.8zM1175.9,457.8h3.8v3.8h-3.8zM1179.9,461.6h3.8v3.8h-3.8zM1184.0,465.7h3.8v3.8h-3.8zM1188.1,468.7h3.8v3.8h-3.8zM1192.1,470.7h3.8v3.8h-3.8zM1196.2,473.1h3.8v3.8h-3.8zM1200.3,473.7h3.8v3.8h-3.8zM1204.3,475.5h3.8v3.8h-3.8zM1208.4,476.1h3.8v3.8h-3.8zM1212.5,476.1h3.8v3.8h-3.8zM1216.5,476.3h3.8v3.8h-3.8zM1220.6,476.8h3.8v3.8h-3.8zM1224.6,477.0h3.8v3.8h-3.8zM1228.7,477.0h3.8v3.8h-3.8zM1232.8,477.0h3.8v3.8h-3.8zM1236.8,477.1h3.8v3.8h-3.8zM1240.9,478.1h3.8v3.8h-3.8zM1245.0,479.1h3.8v3.8h-3.8zM1249.0,480.1h3.8v3.8h-3.8zM1253.1,480.9h3.8v3.8h-3.8zM1257.2,481.4h3.8v3.8h-3.8zM1261.2,482.1h3.8v3.8h-3.8zM1265.3,482.6h3.8v3.8h-3.8zM1269.3,483.4h3.8v3.8h-3.8zM1273.4,483.0h3.8v3.8h-3.8zM1277.5,483.1h3.8v3.8h-3.8zM1281.5,483.4h3.8v3.8h-3.8zM1285.6,483.8h3.8v3.8h-3.8zM1289.7,483.5h3.8v3.8h-3.8zM1293.7,483.7h3.8v3.8h-3.8zM1297.8,483.9h3.8v3.8h-3.8zM1301.9,484.1h3.8v3.8h-3.8zM1305.9,484.2h3.8v3.8h-3.8zM1310.0,484.1h3.8v3.8h-3.8zM1314.1,484.2h3.8v3.8h-3.8zM1318.1,484.7h3.8v3.8h-3.8z" fill="#000" fill-opacity="0.45"/><path d="M916.1,725.2h3.8v3.8h-3.8zM920.2,725.4h3.8v3.8h-3.8zM924.3,726.0h3.8v3.8h-3.8zM928.3,725.5h3.8v3.8h-3.8zM932.4,726.2h3.8v3.8h-3.8zM936.5,725.7h3.8v3.8h-3.8zM940.5,725.4h3.8v3.8h-3.8zM944.6,725.9h3.8v3.8h-3.8zM948.6,725.7h3.8v3.8h-3.8zM952.7,725.6h3.8v3.8h-3.8zM956.8,725.9h3.8v3.8h-3.8zM960.8,726.1h3.8v3.8h-3.8zM964.9,725.9h3.8v3.8h-3.8zM969.0,726.6h3.8v3.8h-3.8zM973.0,726.0h3.8v3.8h-3.8zM977.1,726.5h3.8v3.8h-3.8zM981.2,726.2h3.8v3.8h-3.8zM985.2,726.0h3.8v3.8h-3.8zM989.3,726.3h3.8v3.8h-3.8zM993.3,726.6h3.8v3.8h-3.8zM997.4,726.5h3.8v3.8h-3.8zM1001.5,726.7h3.8v3.8h-3.8zM1005.5,726.2h3.8v3.8h-3.8zM1009.6,726.3h3.8v3.8h-3.8zM1013.7,726.3h3.8v3.8h-3.8zM1017.7,726.7h3.8v3.8h-3.8zM1021.8,726.9h3.8v3.8h-3.8zM1025.9,726.0h3.8v3.8h-3.8zM1029.9,725.7h3.8v3.8h-3.8zM1034.0,724.2h3.8v3.8h-3.8zM1038.0,723.4h3.8v3.8h-3.8zM1042.1,722.9h3.8v3.8h-3.8zM1046.2,721.9h3.8v3.8h-3.8zM1050.2,720.5h3.8v3.8h-3.8zM1054.3,718.4h3.8v3.8h-3.8zM1058.4,717.1h3.8v3.8h-3.8zM1062.4,714.8h3.8v3.8h-3.8zM1066.5,712.9h3.8v3.8h-3.8zM1070.6,709.7h3.8v3.8h-3.8zM1074.6,706.1h3.8v3.8h-3.8zM1078.7,703.0h3.8v3.8h-3.8zM1082.8,696.4h3.8v3.8h-3.8zM1086.8,689.5h3.8v3.8h-3.8zM1090.9,679.7h3.8v3.8h-3.8zM1094.9,667.9h3.8v3.8h-3.8zM1099.0,653.8h3.8v3.8h-3.8zM1103.1,633.7h3.8v3.8h-3.8zM1107.1,614.9h3.8v3.8h-3.8zM1111.2,597.3h3.8v3.8h-3.8zM1115.3,577.0h3.8v3.8h-3.8zM1119.3,566.4h3.8v3.8h-3.8zM1123.4,560.9h3.8v3.8h-3.8zM1127.5,560.7h3.8v3.8h-3.8zM1131.5,565.7h3.8v3.8h-3.8zM1135.6,578.0h3.8v3.8h-3.8zM1139.6,595.4h3.8v3.8h-3.8zM1143.7,612.7h3.8v3.8h-3.8zM1147.8,635.0h3.8v3.8h-3.8zM1151.8,655.3h3.8v3.8h-3.8zM1155.9,669.3h3.8v3.8h-3.8zM1160.0,679.9h3.8v3.8h-3.8zM1164.0,691.8h3.8v3.8h-3.8zM1168.1,698.9h3.8v3.8h-3.8zM1172.2,706.3h3.8v3.8h-3.8zM1176.2,711.6h3.8v3.8h-3.8zM1180.3,717.6h3.8v3.8h-3.8zM1184.4,720.4h3.8v3.8h-3.8zM1188.4,722.9h3.8v3.8h-3.8zM1192.5,724.8h3.8v3.8h-3.8zM1196.5,726.3h3.8v3.8h-3.8zM1200.6,727.9h3.8v3.8h-3.8zM1204.7,729.0h3.8v3.8h-3.8zM1208.7,729.2h3.8v3.8h-3.8zM1212.8,728.8h3.8v3.8h-3.8zM1216.9,729.7h3.8v3.8h-3.8zM1220.9,729.2h3.8v3.8h-3.8zM1225.0,729.3h3.8v3.8h-3.8zM1229.1,730.2h3.8v3.8h-3.8zM1233.1,730.6h3.8v3.8h-3.8zM1237.2,730.8h3.8v3.8h-3.8zM1241.2,732.5h3.8v3.8h-3.8zM1245.3,732.6h3.8v3.8h-3.8zM1249.4,733.5h3.8v3.8h-3.8zM1253.4,734.0h3.8v3.8h-3.8zM1257.5,734.7h3.8v3.8h-3.8zM1261.6,736.4h3.8v3.8h-3.8zM1265.6,737.0h3.8v3.8h-3.8zM1269.7,737.1h3.8v3.8h-3.8zM1273.8,736.8h3.8v3.8h-3.8zM1277.8,737.1h3.8v3.8h-3.8zM1281.9,737.3h3.8v3.8h-3.8zM1286.0,737.3h3.8v3.8h-3.8zM1290.0,738.3h3.8v3.8h-3.8zM1294.1,738.1h3.8v3.8h-3.8zM1298.1,737.8h3.8v3.8h-3.8zM1302.2,738.2h3.8v3.8h-3.8zM1306.3,738.4h3.8v3.8h-3.8zM1310.3,738.6h3.8v3.8h-3.8zM1314.4,738.6h3.8v3.8h-3.8zM1318.5,738.2h3.8v3.8h-3.8z" fill="#000"/><path d="M919.4,728.2 920.4,728.2 921.4,728.2 922.4,728.2 923.4,728.2 924.4,728.2 925.4,728.2 926.4,728.2 927.4,728.2 928.4,728.2 929.4,728.3 930.4,728.3 931.4,728.3 932.5,728.3 933.5,728.3 934.5,728.3 935.5,728.3 936.5,728.3 937.5,728.3 938.5,728.3 939.5,728.3 940.5,728.3 941.5,728.3 942.5,728.3 943.5,728.3 944.5,728.3 945.5,728.3 946.5,728.4 947.5,728.4 948.5,728.4 949.5,728.4 950.5,728.4 951.5,728.4 952.5,728.4 953.5,728.4 954.5,728.4 955.5,728.4 956.5,728.4 957.6,728.4 958.6,728.4 959.6,728.4 960.6,728.4 961.6,728.4 962.6,728.5 963.6,728.5 964.6,728.5 965.6,728.5 966.6,728.5 967.6,728.5 968.6,728.5 969.6,728.5 970.6,728.5 971.6,728.5 972.6,728.5 973.6,728.5 974.6,728.5 975.6,728.5 976.6,728.5 977.6,728.5 978.6,728.5 979.6,728.6 980.6,728.6 981.6,728.6 982.7,728.6 983.7,728.6 984.7,728.6 985.7,728.6 986.7,728.6 987.7,728.6 988.7,728.6 989.7,728.6 990.7,728.6 991.7,728.6 992.7,728.6 993.7,728.6 994.7,728.6 995.7,728.6 996.7,728.6 997.7,728.6 998.7,728.6 999.7,728.6 1000.7,728.6 1001.7,728.6 1002.7,728.6 1003.7,728.6 1004.7,728.6 1005.7,728.6 1006.7,728.6 1007.8,728.6 1008.8,728.6 1009.8,728.5 1010.8,728.5 1011.8,728.5 1012.8,728.5 1013.8,728.5 1014.8,728.5 1015.8,728.5 1016.8,728.5 1017.8,728.5 1018.8,728.4 1019.8,728.4 1020.8,728.4 1021.8,728.4 1022.8,728.4 1023.8,728.3 1024.8,728.3 1025.8,728.3 1026.8,728.3 1027.8,728.2 1028.8,728.2 1029.8,728.2 1030.8,728.1 1031.8,728.1 1032.9,728.0 1033.9,728.0 1034.9,727.9 1035.9,727.9 1036.9,727.8 1037.9,727.8 1038.9,727.7 1039.9,727.7 1040.9,727.6 1041.9,727.5 1042.9,727.4 1043.9,727.3 1044.9,727.3 1045.9,727.2 1046.9,727.0 1047.9,726.9 1048.9,726.8 1049.9,726.7 1050.9,726.5 1051.9,726.4 1052.9,726.2 1053.9,726.0 1054.9,725.8 1055.9,725.6 1056.9,725.3 1058.0,725.1 1059.0,724.8 1060.0,724.5 1061.0,724.1 1062.0,723.8 1063.0,723.3 1064.0,722.9 1065.0,722.4 1066.0,721.9 1067.0,721.3 1068.0,720.7 1069.0,720.1 1070.0,719.3 1071.0,718.5 1072.0,717.7 1073.0,716.8 1074.0,715.8 1075.0,714.7 1076.0,713.5 1077.0,712.3 1078.0,711.0 1079.0,709.5 1080.0,708.0 1081.0,706.4 1082.0,704.6 1083.1,702.8 1084.1,700.8 1085.1,698.7 1086.1,696.5 1087.1,694.1 1088.1,691.7 1089.1,689.1 1090.1,686.3 1091.1,683.5 1092.1,680.5 1093.1,677.4 1094.1,674.1 1095.1,670.8 1096.1,667.3 1097.1,663.7 1098.1,659.9 1099.1,656.1 1100.1,652.2 1101.1,648.2 1102.1,644.1 1103.1,639.9 1104.1,635.7 1105.1,631.5 1106.1,627.2 1107.1,622.9 1108.2,618.6 1109.2,614.3 1110.2,610.1 1111.2,605.9 1112.2,601.8 1113.2,597.8 1114.2,593.9 1115.2,590.2 1116.2,586.7 1117.2,583.4 1118.2,580.3 1119.2,577.4 1120.2,574.8 1121.2,572.5 1122.2,570.6 1123.2,569.0 1124.2,567.7 1125.2,566.8 1126.2,566.3 1127.2,566.2 1128.2,566.4 1129.2,566.9 1130.2,567.8 1131.2,568.9 1132.2,570.3 1133.3,572.0 1134.3,574.0 1135.3,576.3 1136.3,578.8 1137.3,581.5 1138.3,584.5 1139.3,587.7 1140.3,591.1 1141.3,594.7 1142.3,598.5 1143.3,602.4 1144.3,606.4 1145.3,610.5 1146.3,614.8 1147.3,619.1 1148.3,623.4 1149.3,627.8 1150.3,632.3 1151.3,636.7 1152.3,641.1 1153.3,645.5 1154.3,649.9 1155.3,654.2 1156.3,658.5 1157.3,662.6 1158.4,666.7 1159.4,670.7 1160.4,674.6 1161.4,678.3 1162.4,682.0 1163.4,685.5 1164.4,688.9 1165.4,692.2 1166.4,695.3 1167.4,698.3 1168.4,701.2 1169.4,703.9 1170.4,706.4 1171.4,708.9 1172.4,711.2 1173.4,713.4 1174.4,715.4 1175.4,717.3 1176.4,719.2 1177.4,720.8 1178.4,722.4 1179.4,723.9 1180.4,725.2 1181.4,726.5 1182.4,727.7 1183.5,728.7 1184.5,729.7 1185.5,730.6 1186.5,731.5 1187.5,732.2 1188.5,732.9 1189.5,733.6 1190.5,734.2 1191.5,734.7 1192.5,735.2 1193.5,735.6 1194.5,736.0 1195.5,736.4 1196.5,736.7 1197.5,737.0 1198.5,737.3 1199.5,737.5 1200.5,737.7 1201.5,737.9 1202.5,738.1 1203.5,738.3 1204.5,738.4 1205.5,738.5 1206.5,738.6 1207.5,738.7 1208.6,738.8 1209.6,738.9 1210.6,739.0 1211.6,739.1 1212.6,739.1 1213.6,739.2 1214.6,739.2 1215.6,739.3 1216.6,739.3 1217.6,739.4 1218.6,739.4 1219.6,739.5 1220.6,739.5 1221.6,739.5 1222.6,739.5 1223.6,739.6 1224.6,739.6 1225.6,739.6 1226.6,739.6 1227.6,739.7 1228.6,739.7 1229.6,739.7 1230.6,739.7 1231.6,739.8 1232.6,739.8 1233.7,739.8 1234.7,739.8 1235.7,739.8 1236.7,739.9 1237.7,739.9 1238.7,739.9 1239.7,739.9 1240.7,739.9 1241.7,739.9 1242.7,740.0 1243.7,740.0 1244.7,740.0 1245.7,740.0 1246.7,740.0 1247.7,740.0 1248.7,740.0 1249.7,740.1 1250.7,740.1 1251.7,740.1 1252.7,740.1 1253.7,740.1 1254.7,740.1 1255.7,740.1 1256.7,740.2 1257.7,740.2 1258.8,740.2 1259.8,740.2 1260.8,740.2 1261.8,740.2 1262.8,740.2 1263.8,740.2 1264.8,740.2 1265.8,740.3 1266.8,740.3 1267.8,740.3 1268.8,740.3 1269.8,740.3 1270.8,740.3 1271.8,740.3 1272.8,740.3 1273.8,740.3 1274.8,740.3 1275.8,740.4 1276.8,740.4 1277.8,740.4 1278.8,740.4 1279.8,740.4 1280.8,740.4 1281.8,740.4 1282.8,740.4 1283.9,740.4 1284.9,740.4 1285.9,740.4 1286.9,740.5 1287.9,740.5 1288.9,740.5 1289.9,740.5 1290.9,740.5 1291.9,740.5 1292.9,740.5 1293.9,740.5 1294.9,740.5 1295.9,740.5 1296.9,740.5 1297.9,740.5 1298.9,740.5 1299.9,740.5 1300.9,740.5 1301.9,740.5 1302.9,740.6 1303.9,740.6 1304.9,740.6 1305.9,740.6 1306.9,740.6 1307.9,740.6 1309.0,740.6 1310.0,740.6 1311.0,740.6 1312.0,740.6 1313.0,740.6 1314.0,740.6 1315.0,740.6 1316.0,740.6 1317.0,740.6 1318.0,740.6 1319.0,740.6 1320.0,740.6 1321.0,740.6" fill="none" stroke="#e8383f" stroke-width="2.2"/><path d="M919.4,729.3 920.4,729.3 921.4,729.3 922.4,729.3 923.4,729.3 924.4,729.3 925.4,729.3 926.4,729.3 927.4,729.3 928.4,729.3 929.4,729.3 930.4,729.3 931.4,729.3 932.5,729.3 933.5,729.3 934.5,729.3 935.5,729.3 936.5,729.3 937.5,729.3 938.5,729.3 939.5,729.3 940.5,729.3 941.5,729.3 942.5,729.3 943.5,729.3 944.5,729.3 945.5,729.3 946.5,729.3 947.5,729.3 948.5,729.3 949.5,729.3 950.5,729.3 951.5,729.3 952.5,729.3 953.5,729.3 954.5,729.3 955.5,729.3 956.5,729.3 957.6,729.3 958.6,729.3 959.6,729.3 960.6,729.3 961.6,729.3 962.6,729.3 963.6,729.3 964.6,729.4 965.6,729.4 966.6,729.4 967.6,729.4 968.6,729.4 969.6,729.4 970.6,729.4 971.6,729.4 972.6,729.4 973.6,729.4 974.6,729.4 975.6,729.4 976.6,729.4 977.6,729.4 978.6,729.4 979.6,729.4 980.6,729.4 981.6,729.4 982.7,729.4 983.7,729.4 984.7,729.4 985.7,729.4 986.7,729.4 987.7,729.4 988.7,729.4 989.7,729.4 990.7,729.4 991.7,729.4 992.7,729.4 993.7,729.4 994.7,729.4 995.7,729.4 996.7,729.4 997.7,729.4 998.7,729.4 999.7,729.4 1000.7,729.4 1001.7,729.4 1002.7,729.4 1003.7,729.4 1004.7,729.4 1005.7,729.4 1006.7,729.4 1007.8,729.4 1008.8,729.4 1009.8,729.4 1010.8,729.4 1011.8,729.5 1012.8,729.5 1013.8,729.5 1014.8,729.5 1015.8,729.5 1016.8,729.5 1017.8,729.5 1018.8,729.5 1019.8,729.5 1020.8,729.5 1021.8,729.5 1022.8,729.5 1023.8,729.5 1024.8,729.5 1025.8,729.5 1026.8,729.5 1027.8,729.5 1028.8,729.5 1029.8,729.5 1030.8,729.5 1031.8,729.5 1032.9,729.5 1033.9,729.5 1034.9,729.5 1035.9,729.5 1036.9,729.5 1037.9,729.6 1038.9,729.6 1039.9,729.6 1040.9,729.6 1041.9,729.6 1042.9,729.6 1043.9,729.6 1044.9,729.6 1045.9,729.6 1046.9,729.6 1047.9,729.6 1048.9,729.6 1049.9,729.6 1050.9,729.6 1051.9,729.6 1052.9,729.6 1053.9,729.6 1054.9,729.7 1055.9,729.7 1056.9,729.7 1058.0,729.7 1059.0,729.7 1060.0,729.7 1061.0,729.7 1062.0,729.7 1063.0,729.7 1064.0,729.7 1065.0,729.8 1066.0,729.8 1067.0,729.8 1068.0,729.8 1069.0,729.8 1070.0,729.8 1071.0,729.8 1072.0,729.9 1073.0,729.9 1074.0,729.9 1075.0,729.9 1076.0,729.9 1077.0,730.0 1078.0,730.0 1079.0,730.0 1080.0,730.0 1081.0,730.1 1082.0,730.1 1083.1,730.1 1084.1,730.2 1085.1,730.2 1086.1,730.2 1087.1,730.3 1088.1,730.3 1089.1,730.4 1090.1,730.4 1091.1,730.5 1092.1,730.5 1093.1,730.6 1094.1,730.6 1095.1,730.7 1096.1,730.8 1097.1,730.9 1098.1,730.9 1099.1,731.0 1100.1,731.1 1101.1,731.2 1102.1,731.3 1103.1,731.4 1104.1,731.5 1105.1,731.6 1106.1,731.7 1107.1,731.8 1108.2,732.0 1109.2,732.1 1110.2,732.2 1111.2,732.4 1112.2,732.5 1113.2,732.6 1114.2,732.8 1115.2,732.9 1116.2,733.1 1117.2,733.3 1118.2,733.4 1119.2,733.6 1120.2,733.8 1121.2,733.9 1122.2,734.1 1123.2,734.3 1124.2,734.5 1125.2,734.7 1126.2,734.8 1127.2,735.0 1128.2,735.2 1129.2,735.4 1130.2,735.6 1131.2,735.8 1132.2,735.9 1133.3,736.1 1134.3,736.3 1135.3,736.5 1136.3,736.6 1137.3,736.8 1138.3,737.0 1139.3,737.1 1140.3,737.3 1141.3,737.4 1142.3,737.6 1143.3,737.7 1144.3,737.9 1145.3,738.0 1146.3,738.2 1147.3,738.3 1148.3,738.4 1149.3,738.5 1150.3,738.7 1151.3,738.8 1152.3,738.9 1153.3,739.0 1154.3,739.1 1155.3,739.2 1156.3,739.3 1157.3,739.3 1158.4,739.4 1159.4,739.5 1160.4,739.6 1161.4,739.6 1162.4,739.7 1163.4,739.7 1164.4,739.8 1165.4,739.9 1166.4,739.9 1167.4,739.9 1168.4,740.0 1169.4,740.0 1170.4,740.1 1171.4,740.1 1172.4,740.1 1173.4,740.2 1174.4,740.2 1175.4,740.2 1176.4,740.2 1177.4,740.2 1178.4,740.3 1179.4,740.3 1180.4,740.3 1181.4,740.3 1182.4,740.3 1183.5,740.3 1184.5,740.3 1185.5,740.4 1186.5,740.4 1187.5,740.4 1188.5,740.4 1189.5,740.4 1190.5,740.4 1191.5,740.4 1192.5,740.4 1193.5,740.4 1194.5,740.4 1195.5,740.4 1196.5,740.4 1197.5,740.4 1198.5,740.4 1199.5,740.4 1200.5,740.4 1201.5,740.4 1202.5,740.4 1203.5,740.4 1204.5,740.4 1205.5,740.4 1206.5,740.4 1207.5,740.4 1208.6,740.4 1209.6,740.4 1210.6,740.4 1211.6,740.4 1212.6,740.4 1213.6,740.4 1214.6,740.4 1215.6,740.4 1216.6,740.4 1217.6,740.4 1218.6,740.4 1219.6,740.4 1220.6,740.4 1221.6,740.4 1222.6,740.4 1223.6,740.4 1224.6,740.4 1225.6,740.4 1226.6,740.4 1227.6,740.4 1228.6,740.4 1229.6,740.4 1230.6,740.4 1231.6,740.4 1232.6,740.4 1233.7,740.4 1234.7,740.4 1235.7,740.4 1236.7,740.4 1237.7,740.4 1238.7,740.4 1239.7,740.4 1240.7,740.4 1241.7,740.4 1242.7,740.4 1243.7,740.4 1244.7,740.4 1245.7,740.4 1246.7,740.4 1247.7,740.4 1248.7,740.4 1249.7,740.4 1250.7,740.4 1251.7,740.4 1252.7,740.4 1253.7,740.4 1254.7,740.4 1255.7,740.4 1256.7,740.4 1257.7,740.4 1258.8,740.4 1259.8,740.4 1260.8,740.4 1261.8,740.4 1262.8,740.4 1263.8,740.4 1264.8,740.4 1265.8,740.4 1266.8,740.4 1267.8,740.4 1268.8,740.4 1269.8,740.4 1270.8,740.4 1271.8,740.4 1272.8,740.4 1273.8,740.4 1274.8,740.4 1275.8,740.4 1276.8,740.4 1277.8,740.4 1278.8,740.4 1279.8,740.4 1280.8,740.4 1281.8,740.4 1282.8,740.4 1283.9,740.4 1284.9,740.4 1285.9,740.4 1286.9,740.4 1287.9,740.4 1288.9,740.4 1289.9,740.4 1290.9,740.4 1291.9,740.4 1292.9,740.4 1293.9,740.4 1294.9,740.4 1295.9,740.4 1296.9,740.4 1297.9,740.4 1298.9,740.4 1299.9,740.4 1300.9,740.4 1301.9,740.4 1302.9,740.4 1303.9,740.4 1304.9,740.4 1305.9,740.4 1306.9,740.4 1307.9,740.4 1309.0,740.4 1310.0,740.4 1311.0,740.4 1312.0,740.4 1313.0,740.4 1314.0,740.4 1315.0,740.4 1316.0,740.4 1317.0,740.4 1318.0,740.4 1319.0,740.4 1320.0,740.4 1321.0,740.4" fill="none" stroke="#5db9e6" stroke-width="2.2"/><path d="M916.1,725.2h3.8v3.8h-3.8zM920.2,725.4h3.8v3.8h-3.8zM924.3,726.0h3.8v3.8h-3.8zM928.3,725.5h3.8v3.8h-3.8zM932.4,726.2h3.8v3.8h-3.8zM936.5,725.7h3.8v3.8h-3.8zM940.5,725.4h3.8v3.8h-3.8zM944.6,725.9h3.8v3.8h-3.8zM948.6,725.7h3.8v3.8h-3.8zM952.7,725.6h3.8v3.8h-3.8zM956.8,725.9h3.8v3.8h-3.8zM960.8,726.1h3.8v3.8h-3.8zM964.9,725.9h3.8v3.8h-3.8zM969.0,726.6h3.8v3.8h-3.8zM973.0,726.0h3.8v3.8h-3.8zM977.1,726.5h3.8v3.8h-3.8zM981.2,726.2h3.8v3.8h-3.8zM985.2,726.0h3.8v3.8h-3.8zM989.3,726.3h3.8v3.8h-3.8zM993.3,726.6h3.8v3.8h-3.8zM997.4,726.5h3.8v3.8h-3.8zM1001.5,726.7h3.8v3.8h-3.8zM1005.5,726.2h3.8v3.8h-3.8zM1009.6,726.3h3.8v3.8h-3.8zM1013.7,726.3h3.8v3.8h-3.8zM1017.7,726.7h3.8v3.8h-3.8zM1021.8,726.9h3.8v3.8h-3.8zM1025.9,726.0h3.8v3.8h-3.8zM1029.9,725.7h3.8v3.8h-3.8zM1034.0,724.2h3.8v3.8h-3.8zM1038.0,723.4h3.8v3.8h-3.8zM1042.1,722.9h3.8v3.8h-3.8zM1046.2,721.9h3.8v3.8h-3.8zM1050.2,720.5h3.8v3.8h-3.8zM1054.3,718.4h3.8v3.8h-3.8zM1058.4,717.1h3.8v3.8h-3.8zM1062.4,714.8h3.8v3.8h-3.8zM1066.5,712.9h3.8v3.8h-3.8zM1070.6,709.7h3.8v3.8h-3.8zM1074.6,706.1h3.8v3.8h-3.8zM1078.7,703.0h3.8v3.8h-3.8zM1082.8,696.4h3.8v3.8h-3.8zM1086.8,689.5h3.8v3.8h-3.8zM1090.9,679.7h3.8v3.8h-3.8zM1094.9,667.9h3.8v3.8h-3.8zM1099.0,653.8h3.8v3.8h-3.8zM1103.1,633.7h3.8v3.8h-3.8zM1107.1,614.9h3.8v3.8h-3.8zM1111.2,597.3h3.8v3.8h-3.8zM1115.3,577.0h3.8v3.8h-3.8zM1119.3,566.4h3.8v3.8h-3.8zM1123.4,560.9h3.8v3.8h-3.8zM1127.5,560.7h3.8v3.8h-3.8zM1131.5,565.7h3.8v3.8h-3.8zM1135.6,578.0h3.8v3.8h-3.8zM1139.6,595.4h3.8v3.8h-3.8zM1143.7,612.7h3.8v3.8h-3.8zM1147.8,635.0h3.8v3.8h-3.8zM1151.8,655.3h3.8v3.8h-3.8zM1155.9,669.3h3.8v3.8h-3.8zM1160.0,679.9h3.8v3.8h-3.8zM1164.0,691.8h3.8v3.8h-3.8zM1168.1,698.9h3.8v3.8h-3.8zM1172.2,706.3h3.8v3.8h-3.8zM1176.2,711.6h3.8v3.8h-3.8zM1180.3,717.6h3.8v3.8h-3.8zM1184.4,720.4h3.8v3.8h-3.8zM1188.4,722.9h3.8v3.8h-3.8zM1192.5,724.8h3.8v3.8h-3.8zM1196.5,726.3h3.8v3.8h-3.8zM1200.6,727.9h3.8v3.8h-3.8zM1204.7,729.0h3.8v3.8h-3.8zM1208.7,729.2h3.8v3.8h-3.8zM1212.8,728.8h3.8v3.8h-3.8zM1216.9,729.7h3.8v3.8h-3.8zM1220.9,729.2h3.8v3.8h-3.8zM1225.0,729.3h3.8v3.8h-3.8zM1229.1,730.2h3.8v3.8h-3.8zM1233.1,730.6h3.8v3.8h-3.8zM1237.2,730.8h3.8v3.8h-3.8zM1241.2,732.5h3.8v3.8h-3.8zM1245.3,732.6h3.8v3.8h-3.8zM1249.4,733.5h3.8v3.8h-3.8zM1253.4,734.0h3.8v3.8h-3.8zM1257.5,734.7h3.8v3.8h-3.8zM1261.6,736.4h3.8v3.8h-3.8zM1265.6,737.0h3.8v3.8h-3.8zM1269.7,737.1h3.8v3.8h-3.8zM1273.8,736.8h3.8v3.8h-3.8zM1277.8,737.1h3.8v3.8h-3.8zM1281.9,737.3h3.8v3.8h-3.8zM1286.0,737.3h3.8v3.8h-3.8zM1290.0,738.3h3.8v3.8h-3.8zM1294.1,738.1h3.8v3.8h-3.8zM1298.1,737.8h3.8v3.8h-3.8zM1302.2,738.2h3.8v3.8h-3.8zM1306.3,738.4h3.8v3.8h-3.8zM1310.3,738.6h3.8v3.8h-3.8zM1314.4,738.6h3.8v3.8h-3.8zM1318.5,738.2h3.8v3.8h-3.8z" fill="#000" fill-opacity="0.45"/><path d="M919.0,957.3h3.8v3.8h-3.8zM923.1,957.2h3.8v3.8h-3.8zM927.1,957.0h3.8v3.8h-3.8zM931.2,956.8h3.8v3.8h-3.8zM935.3,957.4h3.8v3.8h-3.8zM939.3,957.7h3.8v3.8h-3.8zM943.4,957.2h3.8v3.8h-3.8zM947.4,957.7h3.8v3.8h-3.8zM951.5,956.9h3.8v3.8h-3.8zM955.6,957.4h3.8v3.8h-3.8zM959.6,957.1h3.8v3.8h-3.8zM963.7,957.4h3.8v3.8h-3.8zM967.8,957.6h3.8v3.8h-3.8zM971.8,957.9h3.8v3.8h-3.8zM975.9,957.6h3.8v3.8h-3.8zM980.0,958.0h3.8v3.8h-3.8zM984.0,957.5h3.8v3.8h-3.8zM988.1,957.3h3.8v3.8h-3.8zM992.2,957.7h3.8v3.8h-3.8zM996.2,957.9h3.8v3.8h-3.8zM1000.3,957.9h3.8v3.8h-3.8zM1004.3,957.2h3.8v3.8h-3.8zM1008.4,957.4h3.8v3.8h-3.8zM1012.5,957.3h3.8v3.8h-3.8zM1016.5,957.4h3.8v3.8h-3.8zM1020.6,957.6h3.8v3.8h-3.8zM1024.7,956.7h3.8v3.8h-3.8zM1028.7,955.9h3.8v3.8h-3.8zM1032.8,956.1h3.8v3.8h-3.8zM1036.9,955.4h3.8v3.8h-3.8zM1040.9,954.7h3.8v3.8h-3.8zM1045.0,953.2h3.8v3.8h-3.8zM1049.0,952.6h3.8v3.8h-3.8zM1053.1,951.5h3.8v3.8h-3.8zM1057.2,950.9h3.8v3.8h-3.8zM1061.2,948.5h3.8v3.8h-3.8zM1065.3,946.1h3.8v3.8h-3.8zM1069.4,943.6h3.8v3.8h-3.8zM1073.4,941.4h3.8v3.8h-3.8zM1077.5,936.0h3.8v3.8h-3.8zM1081.6,932.0h3.8v3.8h-3.8zM1085.6,923.1h3.8v3.8h-3.8zM1089.7,914.6h3.8v3.8h-3.8zM1093.8,903.0h3.8v3.8h-3.8zM1097.8,888.7h3.8v3.8h-3.8zM1101.9,867.9h3.8v3.8h-3.8zM1105.9,849.4h3.8v3.8h-3.8zM1110.0,828.4h3.8v3.8h-3.8zM1114.1,811.5h3.8v3.8h-3.8zM1118.1,793.1h3.8v3.8h-3.8zM1122.2,786.0h3.8v3.8h-3.8zM1126.3,784.5h3.8v3.8h-3.8zM1130.3,787.7h3.8v3.8h-3.8zM1134.4,801.8h3.8v3.8h-3.8zM1138.5,816.8h3.8v3.8h-3.8zM1142.5,836.7h3.8v3.8h-3.8zM1146.6,856.0h3.8v3.8h-3.8zM1150.6,880.4h3.8v3.8h-3.8zM1154.7,898.0h3.8v3.8h-3.8zM1158.8,909.4h3.8v3.8h-3.8zM1162.8,918.5h3.8v3.8h-3.8zM1166.9,927.6h3.8v3.8h-3.8zM1171.0,934.4h3.8v3.8h-3.8zM1175.0,940.3h3.8v3.8h-3.8zM1179.1,944.3h3.8v3.8h-3.8zM1183.2,948.8h3.8v3.8h-3.8zM1187.2,950.8h3.8v3.8h-3.8zM1191.3,954.0h3.8v3.8h-3.8zM1195.4,955.1h3.8v3.8h-3.8zM1199.4,957.1h3.8v3.8h-3.8zM1203.5,957.8h3.8v3.8h-3.8zM1207.5,958.7h3.8v3.8h-3.8zM1211.6,958.5h3.8v3.8h-3.8zM1215.7,959.1h3.8v3.8h-3.8zM1219.7,959.6h3.8v3.8h-3.8zM1223.8,958.9h3.8v3.8h-3.8zM1227.9,959.2h3.8v3.8h-3.8zM1231.9,959.9h3.8v3.8h-3.8zM1236.0,959.9h3.8v3.8h-3.8zM1240.1,960.9h3.8v3.8h-3.8zM1244.1,962.1h3.8v3.8h-3.8zM1248.2,963.3h3.8v3.8h-3.8zM1252.2,964.4h3.8v3.8h-3.8zM1256.3,964.9h3.8v3.8h-3.8zM1260.4,965.8h3.8v3.8h-3.8zM1264.4,965.9h3.8v3.8h-3.8zM1268.5,966.4h3.8v3.8h-3.8zM1272.6,967.2h3.8v3.8h-3.8zM1276.6,967.1h3.8v3.8h-3.8zM1280.7,967.1h3.8v3.8h-3.8zM1284.8,967.3h3.8v3.8h-3.8zM1288.8,968.0h3.8v3.8h-3.8zM1292.9,968.4h3.8v3.8h-3.8zM1297.0,968.0h3.8v3.8h-3.8zM1301.0,967.6h3.8v3.8h-3.8zM1305.1,967.8h3.8v3.8h-3.8zM1309.1,968.3h3.8v3.8h-3.8zM1313.2,968.5h3.8v3.8h-3.8zM1317.3,967.9h3.8v3.8h-3.8z" fill="#000"/><path d="M919.4,960.2 920.4,960.2 921.4,960.2 922.4,960.2 923.4,960.1 924.4,960.1 925.4,960.1 926.4,960.1 927.4,960.1 928.4,960.1 929.4,960.1 930.4,960.1 931.4,960.1 932.5,960.1 933.5,960.1 934.5,960.1 935.5,960.1 936.5,960.1 937.5,960.1 938.5,960.0 939.5,960.0 940.5,960.0 941.5,960.0 942.5,960.0 943.5,960.0 944.5,960.0 945.5,960.0 946.5,960.0 947.5,960.0 948.5,960.0 949.5,959.9 950.5,959.9 951.5,959.9 952.5,959.9 953.5,959.9 954.5,959.9 955.5,959.9 956.5,959.9 957.6,959.9 958.6,959.9 959.6,959.8 960.6,959.8 961.6,959.8 962.6,959.8 963.6,959.8 964.6,959.8 965.6,959.8 966.6,959.8 967.6,959.8 968.6,959.7 969.6,959.7 970.6,959.7 971.6,959.7 972.6,959.7 973.6,959.7 974.6,959.7 975.6,959.6 976.6,959.6 977.6,959.6 978.6,959.6 979.6,959.6 980.6,959.6 981.6,959.5 982.7,959.5 983.7,959.5 984.7,959.5 985.7,959.5 986.7,959.5 987.7,959.4 988.7,959.4 989.7,959.4 990.7,959.4 991.7,959.4 992.7,959.3 993.7,959.3 994.7,959.3 995.7,959.3 996.7,959.3 997.7,959.2 998.7,959.2 999.7,959.2 1000.7,959.2 1001.7,959.1 1002.7,959.1 1003.7,959.1 1004.7,959.1 1005.7,959.0 1006.7,959.0 1007.8,959.0 1008.8,958.9 1009.8,958.9 1010.8,958.9 1011.8,958.8 1012.8,958.8 1013.8,958.8 1014.8,958.7 1015.8,958.7 1016.8,958.7 1017.8,958.6 1018.8,958.6 1019.8,958.6 1020.8,958.5 1021.8,958.5 1022.8,958.4 1023.8,958.4 1024.8,958.3 1025.8,958.3 1026.8,958.3 1027.8,958.2 1028.8,958.2 1029.8,958.1 1030.8,958.0 1031.8,958.0 1032.9,957.9 1033.9,957.9 1034.9,957.8 1035.9,957.7 1036.9,957.7 1037.9,957.6 1038.9,957.5 1039.9,957.5 1040.9,957.4 1041.9,957.3 1042.9,957.2 1043.9,957.1 1044.9,957.0 1045.9,956.9 1046.9,956.8 1047.9,956.7 1048.9,956.6 1049.9,956.5 1050.9,956.3 1051.9,956.2 1052.9,956.0 1053.9,955.8 1054.9,955.7 1055.9,955.5 1056.9,955.2 1058.0,955.0 1059.0,954.7 1060.0,954.5 1061.0,954.2 1062.0,953.8 1063.0,953.5 1064.0,953.1 1065.0,952.7 1066.0,952.2 1067.0,951.7 1068.0,951.1 1069.0,950.5 1070.0,949.9 1071.0,949.2 1072.0,948.4 1073.0,947.5 1074.0,946.6 1075.0,945.6 1076.0,944.6 1077.0,943.4 1078.0,942.1 1079.0,940.8 1080.0,939.3 1081.0,937.7 1082.0,936.1 1083.1,934.3 1084.1,932.3 1085.1,930.3 1086.1,928.1 1087.1,925.8 1088.1,923.3 1089.1,920.7 1090.1,918.0 1091.1,915.1 1092.1,912.1 1093.1,908.9 1094.1,905.6 1095.1,902.2 1096.1,898.6 1097.1,894.9 1098.1,891.0 1099.1,887.1 1100.1,883.0 1101.1,878.8 1102.1,874.6 1103.1,870.2 1104.1,865.8 1105.1,861.4 1106.1,856.8 1107.1,852.3 1108.2,847.8 1109.2,843.3 1110.2,838.8 1111.2,834.4 1112.2,830.1 1113.2,825.8 1114.2,821.7 1115.2,817.8 1116.2,814.0 1117.2,810.4 1118.2,807.1 1119.2,804.0 1120.2,801.2 1121.2,798.7 1122.2,796.5 1123.2,794.6 1124.2,793.2 1125.2,792.1 1126.2,791.4 1127.2,791.0 1128.2,791.1 1129.2,791.5 1130.2,792.2 1131.2,793.2 1132.2,794.5 1133.3,796.1 1134.3,798.0 1135.3,800.2 1136.3,802.6 1137.3,805.3 1138.3,808.3 1139.3,811.5 1140.3,814.9 1141.3,818.5 1142.3,822.2 1143.3,826.2 1144.3,830.2 1145.3,834.5 1146.3,838.8 1147.3,843.2 1148.3,847.7 1149.3,852.3 1150.3,856.9 1151.3,861.6 1152.3,866.3 1153.3,871.0 1154.3,875.7 1155.3,880.3 1156.3,884.9 1157.3,889.5 1158.4,894.0 1159.4,898.4 1160.4,902.7 1161.4,906.9 1162.4,910.9 1163.4,914.8 1164.4,918.6 1165.4,922.2 1166.4,925.6 1167.4,928.9 1168.4,932.0 1169.4,934.9 1170.4,937.7 1171.4,940.3 1172.4,942.7 1173.4,945.0 1174.4,947.1 1175.4,949.1 1176.4,950.9 1177.4,952.6 1178.4,954.2 1179.4,955.6 1180.4,956.9 1181.4,958.2 1182.4,959.3 1183.5,960.3 1184.5,961.2 1185.5,962.1 1186.5,962.9 1187.5,963.6 1188.5,964.3 1189.5,964.8 1190.5,965.4 1191.5,965.9 1192.5,966.3 1193.5,966.7 1194.5,967.0 1195.5,967.4 1196.5,967.6 1197.5,967.9 1198.5,968.1 1199.5,968.3 1200.5,968.5 1201.5,968.7 1202.5,968.8 1203.5,968.9 1204.5,969.0 1205.5,969.1 1206.5,969.2 1207.5,969.3 1208.6,969.4 1209.6,969.4 1210.6,969.5 1211.6,969.5 1212.6,969.5 1213.6,969.6 1214.6,969.6 1215.6,969.6 1216.6,969.7 1217.6,969.7 1218.6,969.7 1219.6,969.7 1220.6,969.7 1221.6,969.7 1222.6,969.7 1223.6,969.7 1224.6,969.8 1225.6,969.8 1226.6,969.8 1227.6,969.8 1228.6,969.8 1229.6,969.8 1230.6,969.8 1231.6,969.8 1232.6,969.8 1233.7,969.8 1234.7,969.8 1235.7,969.8 1236.7,969.8 1237.7,969.8 1238.7,969.8 1239.7,969.8 1240.7,969.8 1241.7,969.8 1242.7,969.8 1243.7,969.8 1244.7,969.8 1245.7,969.8 1246.7,969.8 1247.7,969.8 1248.7,969.8 1249.7,969.8 1250.7,969.8 1251.7,969.8 1252.7,969.8 1253.7,969.8 1254.7,969.8 1255.7,969.8 1256.7,969.8 1257.7,969.8 1258.8,969.8 1259.8,969.8 1260.8,969.8 1261.8,969.8 1262.8,969.8 1263.8,969.8 1264.8,969.8 1265.8,969.8 1266.8,969.8 1267.8,969.8 1268.8,969.8 1269.8,969.8 1270.8,969.8 1271.8,969.8 1272.8,969.8 1273.8,969.8 1274.8,969.8 1275.8,969.8 1276.8,969.8 1277.8,969.8 1278.8,969.8 1279.8,969.8 1280.8,969.8 1281.8,969.8 1282.8,969.8 1283.9,969.8 1284.9,969.8 1285.9,969.8 1286.9,969.8 1287.9,969.8 1288.9,969.8 1289.9,969.8 1290.9,969.8 1291.9,969.8 1292.9,969.8 1293.9,969.8 1294.9,969.8 1295.9,969.8 1296.9,969.9 1297.9,969.9 1298.9,969.9 1299.9,969.9 1300.9,969.9 1301.9,969.9 1302.9,969.9 1303.9,969.9 1304.9,969.9 1305.9,969.9 1306.9,969.9 1307.9,969.9 1309.0,969.9 1310.0,969.9 1311.0,969.9 1312.0,969.9 1313.0,969.9 1314.0,969.9 1315.0,969.9 1316.0,969.9 1317.0,969.9 1318.0,969.9 1319.0,969.9 1320.0,969.9 1321.0,969.9" fill="none" stroke="#e8383f" stroke-width="2.2"/><path d="M919.4,959.8 920.4,959.8 921.4,959.8 922.4,959.8 923.4,959.8 924.4,959.8 925.4,959.8 926.4,959.8 927.4,959.8 928.4,959.8 929.4,959.8 930.4,959.8 931.4,959.8 932.5,959.8 933.5,959.8 934.5,959.8 935.5,959.9 936.5,959.9 937.5,959.9 938.5,959.9 939.5,959.9 940.5,959.9 941.5,959.9 942.5,959.9 943.5,959.9 944.5,959.9 945.5,959.9 946.5,959.9 947.5,959.9 948.5,959.9 949.5,959.9 950.5,959.9 951.5,959.9 952.5,959.9 953.5,959.9 954.5,959.9 955.5,959.9 956.5,959.9 957.6,959.9 958.6,959.9 959.6,959.9 960.6,959.9 961.6,959.9 962.6,959.9 963.6,959.9 964.6,959.9 965.6,959.9 966.6,959.9 967.6,959.9 968.6,959.9 969.6,959.9 970.6,959.9 971.6,959.9 972.6,959.9 973.6,959.9 974.6,959.9 975.6,959.9 976.6,959.9 977.6,959.9 978.6,959.9 979.6,959.9 980.6,959.9 981.6,959.9 982.7,959.9 983.7,959.9 984.7,959.9 985.7,959.9 986.7,959.9 987.7,959.9 988.7,959.9 989.7,959.9 990.7,959.9 991.7,959.9 992.7,959.9 993.7,959.9 994.7,959.9 995.7,959.9 996.7,959.9 997.7,959.9 998.7,959.9 999.7,959.9 1000.7,959.9 1001.7,959.9 1002.7,959.9 1003.7,959.9 1004.7,959.9 1005.7,959.9 1006.7,959.9 1007.8,959.9 1008.8,959.9 1009.8,959.9 1010.8,959.9 1011.8,959.9 1012.8,960.0 1013.8,960.0 1014.8,960.0 1015.8,960.0 1016.8,960.0 1017.8,960.0 1018.8,960.0 1019.8,960.0 1020.8,960.0 1021.8,960.0 1022.8,960.0 1023.8,960.0 1024.8,960.0 1025.8,960.0 1026.8,960.0 1027.8,960.0 1028.8,960.0 1029.8,960.0 1030.8,960.0 1031.8,960.0 1032.9,960.0 1033.9,960.0 1034.9,960.0 1035.9,960.0 1036.9,960.0 1037.9,960.0 1038.9,960.0 1039.9,960.0 1040.9,960.0 1041.9,960.0 1042.9,960.0 1043.9,960.0 1044.9,960.0 1045.9,960.0 1046.9,960.1 1047.9,960.1 1048.9,960.1 1049.9,960.1 1050.9,960.1 1051.9,960.1 1052.9,960.1 1053.9,960.1 1054.9,960.1 1055.9,960.1 1056.9,960.1 1058.0,960.1 1059.0,960.1 1060.0,960.1 1061.0,960.1 1062.0,960.1 1063.0,960.1 1064.0,960.2 1065.0,960.2 1066.0,960.2 1067.0,960.2 1068.0,960.2 1069.0,960.2 1070.0,960.2 1071.0,960.2 1072.0,960.2 1073.0,960.3 1074.0,960.3 1075.0,960.3 1076.0,960.3 1077.0,960.3 1078.0,960.3 1079.0,960.4 1080.0,960.4 1081.0,960.4 1082.0,960.4 1083.1,960.5 1084.1,960.5 1085.1,960.5 1086.1,960.6 1087.1,960.6 1088.1,960.6 1089.1,960.7 1090.1,960.7 1091.1,960.8 1092.1,960.8 1093.1,960.9 1094.1,960.9 1095.1,961.0 1096.1,961.0 1097.1,961.1 1098.1,961.2 1099.1,961.3 1100.1,961.3 1101.1,961.4 1102.1,961.5 1103.1,961.6 1104.1,961.7 1105.1,961.8 1106.1,961.9 1107.1,962.0 1108.2,962.2 1109.2,962.3 1110.2,962.4 1111.2,962.6 1112.2,962.7 1113.2,962.8 1114.2,963.0 1115.2,963.1 1116.2,963.3 1117.2,963.5 1118.2,963.6 1119.2,963.8 1120.2,964.0 1121.2,964.1 1122.2,964.3 1123.2,964.5 1124.2,964.7 1125.2,964.8 1126.2,965.0 1127.2,965.2 1128.2,965.4 1129.2,965.6 1130.2,965.8 1131.2,965.9 1132.2,966.1 1133.3,966.3 1134.3,966.5 1135.3,966.7 1136.3,966.8 1137.3,967.0 1138.3,967.2 1139.3,967.3 1140.3,967.5 1141.3,967.6 1142.3,967.8 1143.3,967.9 1144.3,968.1 1145.3,968.2 1146.3,968.4 1147.3,968.5 1148.3,968.6 1149.3,968.7 1150.3,968.9 1151.3,969.0 1152.3,969.1 1153.3,969.2 1154.3,969.3 1155.3,969.4 1156.3,969.5 1157.3,969.5 1158.4,969.6 1159.4,969.7 1160.4,969.8 1161.4,969.8 1162.4,969.9 1163.4,970.0 1164.4,970.0 1165.4,970.1 1166.4,970.1 1167.4,970.2 1168.4,970.2 1169.4,970.2 1170.4,970.3 1171.4,970.3 1172.4,970.3 1173.4,970.4 1174.4,970.4 1175.4,970.4 1176.4,970.4 1177.4,970.4 1178.4,970.5 1179.4,970.5 1180.4,970.5 1181.4,970.5 1182.4,970.5 1183.5,970.5 1184.5,970.5 1185.5,970.5 1186.5,970.6 1187.5,970.6 1188.5,970.6 1189.5,970.6 1190.5,970.6 1191.5,970.6 1192.5,970.6 1193.5,970.6 1194.5,970.6 1195.5,970.6 1196.5,970.6 1197.5,970.6 1198.5,970.6 1199.5,970.6 1200.5,970.6 1201.5,970.6 1202.5,970.6 1203.5,970.6 1204.5,970.6 1205.5,970.6 1206.5,970.6 1207.5,970.6 1208.6,970.6 1209.6,970.6 1210.6,970.6 1211.6,970.6 1212.6,970.6 1213.6,970.6 1214.6,970.6 1215.6,970.6 1216.6,970.6 1217.6,970.6 1218.6,970.6 1219.6,970.6 1220.6,970.6 1221.6,970.6 1222.6,970.6 1223.6,970.6 1224.6,970.6 1225.6,970.6 1226.6,970.6 1227.6,970.6 1228.6,970.6 1229.6,970.6 1230.6,970.6 1231.6,970.6 1232.6,970.6 1233.7,970.6 1234.7,970.6 1235.7,970.6 1236.7,970.6 1237.7,970.6 1238.7,970.6 1239.7,970.6 1240.7,970.6 1241.7,970.6 1242.7,970.6 1243.7,970.6 1244.7,970.6 1245.7,970.6 1246.7,970.6 1247.7,970.6 1248.7,970.6 1249.7,970.6 1250.7,970.6 1251.7,970.6 1252.7,970.6 1253.7,970.6 1254.7,970.6 1255.7,970.6 1256.7,970.6 1257.7,970.6 1258.8,970.6 1259.8,970.6 1260.8,970.6 1261.8,970.6 1262.8,970.6 1263.8,970.6 1264.8,970.6 1265.8,970.6 1266.8,970.6 1267.8,970.6 1268.8,970.6 1269.8,970.6 1270.8,970.6 1271.8,970.6 1272.8,970.6 1273.8,970.6 1274.8,970.6 1275.8,970.6 1276.8,970.6 1277.8,970.6 1278.8,970.6 1279.8,970.6 1280.8,970.6 1281.8,970.6 1282.8,970.6 1283.9,970.6 1284.9,970.6 1285.9,970.6 1286.9,970.6 1287.9,970.6 1288.9,970.6 1289.9,970.6 1290.9,970.6 1291.9,970.6 1292.9,970.6 1293.9,970.6 1294.9,970.6 1295.9,970.6 1296.9,970.6 1297.9,970.6 1298.9,970.6 1299.9,970.6 1300.9,970.6 1301.9,970.6 1302.9,970.6 1303.9,970.6 1304.9,970.6 1305.9,970.6 1306.9,970.6 1307.9,970.6 1309.0,970.6 1310.0,970.6 1311.0,970.6 1312.0,970.6 1313.0,970.6 1314.0,970.6 1315.0,970.6 1316.0,970.6 1317.0,970.6 1318.0,970.6 1319.0,970.6 1320.0,970.6 1321.0,970.6" fill="none" stroke="#5db9e6" stroke-width="2.2"/><path d="M919.0,957.3h3.8v3.8h-3.8zM923.1,957.2h3.8v3.8h-3.8zM927.1,957.0h3.8v3.8h-3.8zM931.2,956.8h3.8v3.8h-3.8zM935.3,957.4h3.8v3.8h-3.8zM939.3,957.7h3.8v3.8h-3.8zM943.4,957.2h3.8v3.8h-3.8zM947.4,957.7h3.8v3.8h-3.8zM951.5,956.9h3.8v3.8h-3.8zM955.6,957.4h3.8v3.8h-3.8zM959.6,957.1h3.8v3.8h-3.8zM963.7,957.4h3.8v3.8h-3.8zM967.8,957.6h3.8v3.8h-3.8zM971.8,957.9h3.8v3.8h-3.8zM975.9,957.6h3.8v3.8h-3.8zM980.0,958.0h3.8v3.8h-3.8zM984.0,957.5h3.8v3.8h-3.8zM988.1,957.3h3.8v3.8h-3.8zM992.2,957.7h3.8v3.8h-3.8zM996.2,957.9h3.8v3.8h-3.8zM1000.3,957.9h3.8v3.8h-3.8zM1004.3,957.2h3.8v3.8h-3.8zM1008.4,957.4h3.8v3.8h-3.8zM1012.5,957.3h3.8v3.8h-3.8zM1016.5,957.4h3.8v3.8h-3.8zM1020.6,957.6h3.8v3.8h-3.8zM1024.7,956.7h3.8v3.8h-3.8zM1028.7,955.9h3.8v3.8h-3.8zM1032.8,956.1h3.8v3.8h-3.8zM1036.9,955.4h3.8v3.8h-3.8zM1040.9,954.7h3.8v3.8h-3.8zM1045.0,953.2h3.8v3.8h-3.8zM1049.0,952.6h3.8v3.8h-3.8zM1053.1,951.5h3.8v3.8h-3.8zM1057.2,950.9h3.8v3.8h-3.8zM1061.2,948.5h3.8v3.8h-3.8zM1065.3,946.1h3.8v3.8h-3.8zM1069.4,943.6h3.8v3.8h-3.8zM1073.4,941.4h3.8v3.8h-3.8zM1077.5,936.0h3.8v3.8h-3.8zM1081.6,932.0h3.8v3.8h-3.8zM1085.6,923.1h3.8v3.8h-3.8zM1089.7,914.6h3.8v3.8h-3.8zM1093.8,903.0h3.8v3.8h-3.8zM1097.8,888.7h3.8v3.8h-3.8zM1101.9,867.9h3.8v3.8h-3.8zM1105.9,849.4h3.8v3.8h-3.8zM1110.0,828.4h3.8v3.8h-3.8zM1114.1,811.5h3.8v3.8h-3.8zM1118.1,793.1h3.8v3.8h-3.8zM1122.2,786.0h3.8v3.8h-3.8zM1126.3,784.5h3.8v3.8h-3.8zM1130.3,787.7h3.8v3.8h-3.8zM1134.4,801.8h3.8v3.8h-3.8zM1138.5,816.8h3.8v3.8h-3.8zM1142.5,836.7h3.8v3.8h-3.8zM1146.6,856.0h3.8v3.8h-3.8zM1150.6,880.4h3.8v3.8h-3.8zM1154.7,898.0h3.8v3.8h-3.8zM1158.8,909.4h3.8v3.8h-3.8zM1162.8,918.5h3.8v3.8h-3.8zM1166.9,927.6h3.8v3.8h-3.8zM1171.0,934.4h3.8v3.8h-3.8zM1175.0,940.3h3.8v3.8h-3.8zM1179.1,944.3h3.8v3.8h-3.8zM1183.2,948.8h3.8v3.8h-3.8zM1187.2,950.8h3.8v3.8h-3.8zM1191.3,954.0h3.8v3.8h-3.8zM1195.4,955.1h3.8v3.8h-3.8zM1199.4,957.1h3.8v3.8h-3.8zM1203.5,957.8h3.8v3.8h-3.8zM1207.5,958.7h3.8v3.8h-3.8zM1211.6,958.5h3.8v3.8h-3.8zM1215.7,959.1h3.8v3.8h-3.8zM1219.7,959.6h3.8v3.8h-3.8zM1223.8,958.9h3.8v3.8h-3.8zM1227.9,959.2h3.8v3.8h-3.8zM1231.9,959.9h3.8v3.8h-3.8zM1236.0,959.9h3.8v3.8h-3.8zM1240.1,960.9h3.8v3.8h-3.8zM1244.1,962.1h3.8v3.8h-3.8zM1248.2,963.3h3.8v3.8h-3.8zM1252.2,964.4h3.8v3.8h-3.8zM1256.3,964.9h3.8v3.8h-3.8zM1260.4,965.8h3.8v3.8h-3.8zM1264.4,965.9h3.8v3.8h-3.8zM1268.5,966.4h3.8v3.8h-3.8zM1272.6,967.2h3.8v3.8h-3.8zM1276.6,967.1h3.8v3.8h-3.8zM1280.7,967.1h3.8v3.8h-3.8zM1284.8,967.3h3.8v3.8h-3.8zM1288.8,968.0h3.8v3.8h-3.8zM1292.9,968.4h3.8v3.8h-3.8zM1297.0,968.0h3.8v3.8h-3.8zM1301.0,967.6h3.8v3.8h-3.8zM1305.1,967.8h3.8v3.8h-3.8zM1309.1,968.3h3.8v3.8h-3.8zM1313.2,968.5h3.8v3.8h-3.8zM1317.3,967.9h3.8v3.8h-3.8z" fill="#000" fill-opacity="0.45"/><path d="M915.8,1174.1h3.8v3.8h-3.8zM919.8,1173.8h3.8v3.8h-3.8zM923.9,1174.3h3.8v3.8h-3.8zM928.0,1173.8h3.8v3.8h-3.8zM932.0,1174.2h3.8v3.8h-3.8zM936.1,1174.0h3.8v3.8h-3.8zM940.2,1174.4h3.8v3.8h-3.8zM944.2,1173.9h3.8v3.8h-3.8zM948.3,1174.7h3.8v3.8h-3.8zM952.4,1173.8h3.8v3.8h-3.8zM956.4,1173.8h3.8v3.8h-3.8zM960.5,1174.4h3.8v3.8h-3.8zM964.5,1174.7h3.8v3.8h-3.8zM968.6,1174.6h3.8v3.8h-3.8zM972.7,1174.5h3.8v3.8h-3.8zM976.7,1173.9h3.8v3.8h-3.8zM980.8,1173.9h3.8v3.8h-3.8zM984.9,1174.0h3.8v3.8h-3.8zM988.9,1173.9h3.8v3.8h-3.8zM993.0,1173.9h3.8v3.8h-3.8zM997.1,1174.0h3.8v3.8h-3.8zM1001.1,1174.1h3.8v3.8h-3.8zM1005.2,1174.0h3.8v3.8h-3.8zM1009.3,1174.5h3.8v3.8h-3.8zM1013.3,1174.5h3.8v3.8h-3.8zM1017.4,1173.8h3.8v3.8h-3.8zM1021.4,1174.1h3.8v3.8h-3.8zM1025.5,1173.9h3.8v3.8h-3.8zM1029.6,1172.7h3.8v3.8h-3.8zM1033.6,1172.9h3.8v3.8h-3.8zM1037.7,1171.9h3.8v3.8h-3.8zM1041.8,1171.1h3.8v3.8h-3.8zM1045.8,1170.3h3.8v3.8h-3.8zM1049.9,1169.9h3.8v3.8h-3.8zM1054.0,1168.5h3.8v3.8h-3.8zM1058.0,1167.0h3.8v3.8h-3.8zM1062.1,1165.7h3.8v3.8h-3.8zM1066.1,1162.3h3.8v3.8h-3.8zM1070.2,1159.7h3.8v3.8h-3.8zM1074.3,1156.8h3.8v3.8h-3.8zM1078.3,1151.0h3.8v3.8h-3.8zM1082.4,1145.3h3.8v3.8h-3.8zM1086.5,1138.8h3.8v3.8h-3.8zM1090.5,1129.2h3.8v3.8h-3.8zM1094.6,1118.5h3.8v3.8h-3.8zM1098.7,1101.5h3.8v3.8h-3.8zM1102.7,1086.2h3.8v3.8h-3.8zM1106.8,1067.7h3.8v3.8h-3.8zM1110.9,1048.4h3.8v3.8h-3.8zM1114.9,1031.8h3.8v3.8h-3.8zM1119.0,1018.0h3.8v3.8h-3.8zM1123.0,1009.5h3.8v3.8h-3.8zM1127.1,1008.2h3.8v3.8h-3.8zM1131.2,1015.2h3.8v3.8h-3.8zM1135.2,1025.7h3.8v3.8h-3.8zM1139.3,1041.1h3.8v3.8h-3.8zM1143.4,1057.7h3.8v3.8h-3.8zM1147.4,1084.0h3.8v3.8h-3.8zM1151.5,1099.9h3.8v3.8h-3.8zM1155.6,1114.8h3.8v3.8h-3.8zM1159.6,1130.2h3.8v3.8h-3.8zM1163.7,1141.6h3.8v3.8h-3.8zM1167.7,1147.9h3.8v3.8h-3.8zM1171.8,1153.0h3.8v3.8h-3.8zM1175.9,1158.1h3.8v3.8h-3.8zM1179.9,1162.9h3.8v3.8h-3.8zM1184.0,1167.1h3.8v3.8h-3.8zM1188.1,1169.9h3.8v3.8h-3.8zM1192.1,1172.7h3.8v3.8h-3.8zM1196.2,1174.2h3.8v3.8h-3.8zM1200.3,1175.5h3.8v3.8h-3.8zM1204.3,1176.0h3.8v3.8h-3.8zM1208.4,1176.2h3.8v3.8h-3.8zM1212.5,1176.3h3.8v3.8h-3.8zM1216.5,1176.8h3.8v3.8h-3.8zM1220.6,1177.0h3.8v3.8h-3.8zM1224.6,1177.8h3.8v3.8h-3.8zM1228.7,1178.1h3.8v3.8h-3.8zM1232.8,1178.1h3.8v3.8h-3.8zM1236.8,1179.1h3.8v3.8h-3.8zM1240.9,1180.4h3.8v3.8h-3.8zM1245.0,1180.6h3.8v3.8h-3.8zM1249.0,1182.1h3.8v3.8h-3.8zM1253.1,1182.7h3.8v3.8h-3.8zM1257.2,1183.0h3.8v3.8h-3.8zM1261.2,1183.7h3.8v3.8h-3.8zM1265.3,1184.7h3.8v3.8h-3.8zM1269.3,1184.3h3.8v3.8h-3.8zM1273.4,1185.1h3.8v3.8h-3.8zM1277.5,1185.9h3.8v3.8h-3.8zM1281.5,1185.4h3.8v3.8h-3.8zM1285.6,1186.1h3.8v3.8h-3.8zM1289.7,1185.9h3.8v3.8h-3.8zM1293.7,1186.5h3.8v3.8h-3.8zM1297.8,1186.7h3.8v3.8h-3.8zM1301.9,1186.6h3.8v3.8h-3.8zM1305.9,1186.1h3.8v3.8h-3.8zM1310.0,1186.9h3.8v3.8h-3.8zM1314.1,1186.3h3.8v3.8h-3.8zM1318.1,1186.8h3.8v3.8h-3.8z" fill="#000"/><path d="M919.4,1176.4 920.4,1176.4 921.4,1176.4 922.4,1176.4 923.4,1176.4 924.4,1176.4 925.4,1176.4 926.4,1176.4 927.4,1176.4 928.4,1176.4 929.4,1176.4 930.4,1176.4 931.4,1176.4 932.5,1176.4 933.5,1176.4 934.5,1176.4 935.5,1176.4 936.5,1176.4 937.5,1176.4 938.5,1176.5 939.5,1176.5 940.5,1176.5 941.5,1176.5 942.5,1176.5 943.5,1176.5 944.5,1176.5 945.5,1176.5 946.5,1176.5 947.5,1176.5 948.5,1176.5 949.5,1176.5 950.5,1176.5 951.5,1176.5 952.5,1176.5 953.5,1176.5 954.5,1176.5 955.5,1176.5 956.5,1176.5 957.6,1176.5 958.6,1176.5 959.6,1176.5 960.6,1176.5 961.6,1176.5 962.6,1176.5 963.6,1176.5 964.6,1176.5 965.6,1176.5 966.6,1176.6 967.6,1176.6 968.6,1176.6 969.6,1176.6 970.6,1176.6 971.6,1176.6 972.6,1176.6 973.6,1176.6 974.6,1176.6 975.6,1176.6 976.6,1176.6 977.6,1176.6 978.6,1176.6 979.6,1176.6 980.6,1176.6 981.6,1176.6 982.7,1176.6 983.7,1176.6 984.7,1176.6 985.7,1176.6 986.7,1176.6 987.7,1176.6 988.7,1176.6 989.7,1176.6 990.7,1176.6 991.7,1176.6 992.7,1176.6 993.7,1176.6 994.7,1176.6 995.7,1176.6 996.7,1176.6 997.7,1176.6 998.7,1176.6 999.7,1176.6 1000.7,1176.6 1001.7,1176.6 1002.7,1176.6 1003.7,1176.6 1004.7,1176.6 1005.7,1176.6 1006.7,1176.6 1007.8,1176.6 1008.8,1176.6 1009.8,1176.5 1010.8,1176.5 1011.8,1176.5 1012.8,1176.5 1013.8,1176.5 1014.8,1176.5 1015.8,1176.5 1016.8,1176.5 1017.8,1176.5 1018.8,1176.4 1019.8,1176.4 1020.8,1176.4 1021.8,1176.4 1022.8,1176.4 1023.8,1176.4 1024.8,1176.3 1025.8,1176.3 1026.8,1176.3 1027.8,1176.3 1028.8,1176.2 1029.8,1176.2 1030.8,1176.2 1031.8,1176.1 1032.9,1176.1 1033.9,1176.1 1034.9,1176.0 1035.9,1176.0 1036.9,1175.9 1037.9,1175.9 1038.9,1175.8 1039.9,1175.8 1040.9,1175.7 1041.9,1175.6 1042.9,1175.6 1043.9,1175.5 1044.9,1175.4 1045.9,1175.3 1046.9,1175.2 1047.9,1175.1 1048.9,1175.0 1049.9,1174.9 1050.9,1174.7 1051.9,1174.6 1052.9,1174.4 1053.9,1174.2 1054.9,1174.0 1055.9,1173.8 1056.9,1173.6 1058.0,1173.3 1059.0,1173.0 1060.0,1172.7 1061.0,1172.4 1062.0,1172.0 1063.0,1171.6 1064.0,1171.2 1065.0,1170.7 1066.0,1170.2 1067.0,1169.7 1068.0,1169.0 1069.0,1168.4 1070.0,1167.7 1071.0,1166.9 1072.0,1166.1 1073.0,1165.1 1074.0,1164.2 1075.0,1163.1 1076.0,1162.0 1077.0,1160.7 1078.0,1159.4 1079.0,1158.0 1080.0,1156.5 1081.0,1154.9 1082.0,1153.2 1083.1,1151.3 1084.1,1149.4 1085.1,1147.3 1086.1,1145.1 1087.1,1142.8 1088.1,1140.4 1089.1,1137.9 1090.1,1135.2 1091.1,1132.4 1092.1,1129.5 1093.1,1126.4 1094.1,1123.2 1095.1,1119.9 1096.1,1116.5 1097.1,1113.0 1098.1,1109.3 1099.1,1105.6 1100.1,1101.7 1101.1,1097.8 1102.1,1093.8 1103.1,1089.8 1104.1,1085.6 1105.1,1081.5 1106.1,1077.3 1107.1,1073.0 1108.2,1068.8 1109.2,1064.6 1110.2,1060.5 1111.2,1056.3 1112.2,1052.3 1113.2,1048.3 1114.2,1044.5 1115.2,1040.8 1116.2,1037.3 1117.2,1033.9 1118.2,1030.7 1119.2,1027.8 1120.2,1025.1 1121.2,1022.7 1122.2,1020.6 1123.2,1018.8 1124.2,1017.4 1125.2,1016.2 1126.2,1015.5 1127.2,1015.1 1128.2,1015.0 1129.2,1015.3 1130.2,1016.0 1131.2,1016.9 1132.2,1018.2 1133.3,1019.7 1134.3,1021.6 1135.3,1023.7 1136.3,1026.2 1137.3,1028.9 1138.3,1031.8 1139.3,1035.0 1140.3,1038.4 1141.3,1042.0 1142.3,1045.8 1143.3,1049.7 1144.3,1053.8 1145.3,1058.0 1146.3,1062.3 1147.3,1066.7 1148.3,1071.2 1149.3,1075.7 1150.3,1080.3 1151.3,1084.8 1152.3,1089.3 1153.3,1093.9 1154.3,1098.3 1155.3,1102.7 1156.3,1107.1 1157.3,1111.4 1158.4,1115.5 1159.4,1119.6 1160.4,1123.6 1161.4,1127.4 1162.4,1131.1 1163.4,1134.7 1164.4,1138.2 1165.4,1141.5 1166.4,1144.6 1167.4,1147.6 1168.4,1150.5 1169.4,1153.2 1170.4,1155.8 1171.4,1158.2 1172.4,1160.5 1173.4,1162.7 1174.4,1164.7 1175.4,1166.6 1176.4,1168.4 1177.4,1170.0 1178.4,1171.5 1179.4,1173.0 1180.4,1174.3 1181.4,1175.5 1182.4,1176.6 1183.5,1177.6 1184.5,1178.6 1185.5,1179.4 1186.5,1180.2 1187.5,1180.9 1188.5,1181.6 1189.5,1182.2 1190.5,1182.7 1191.5,1183.2 1192.5,1183.7 1193.5,1184.1 1194.5,1184.4 1195.5,1184.7 1196.5,1185.0 1197.5,1185.3 1198.5,1185.5 1199.5,1185.7 1200.5,1185.9 1201.5,1186.1 1202.5,1186.3 1203.5,1186.4 1204.5,1186.5 1205.5,1186.6 1206.5,1186.7 1207.5,1186.8 1208.6,1186.9 1209.6,1187.0 1210.6,1187.0 1211.6,1187.1 1212.6,1187.1 1213.6,1187.2 1214.6,1187.2 1215.6,1187.3 1216.6,1187.3 1217.6,1187.3 1218.6,1187.4 1219.6,1187.4 1220.6,1187.4 1221.6,1187.4 1222.6,1187.5 1223.6,1187.5 1224.6,1187.5 1225.6,1187.5 1226.6,1187.5 1227.6,1187.6 1228.6,1187.6 1229.6,1187.6 1230.6,1187.6 1231.6,1187.6 1232.6,1187.6 1233.7,1187.7 1234.7,1187.7 1235.7,1187.7 1236.7,1187.7 1237.7,1187.7 1238.7,1187.7 1239.7,1187.8 1240.7,1187.8 1241.7,1187.8 1242.7,1187.8 1243.7,1187.8 1244.7,1187.8 1245.7,1187.8 1246.7,1187.8 1247.7,1187.9 1248.7,1187.9 1249.7,1187.9 1250.7,1187.9 1251.7,1187.9 1252.7,1187.9 1253.7,1187.9 1254.7,1187.9 1255.7,1187.9 1256.7,1188.0 1257.7,1188.0 1258.8,1188.0 1259.8,1188.0 1260.8,1188.0 1261.8,1188.0 1262.8,1188.0 1263.8,1188.0 1264.8,1188.0 1265.8,1188.0 1266.8,1188.1 1267.8,1188.1 1268.8,1188.1 1269.8,1188.1 1270.8,1188.1 1271.8,1188.1 1272.8,1188.1 1273.8,1188.1 1274.8,1188.1 1275.8,1188.1 1276.8,1188.1 1277.8,1188.2 1278.8,1188.2 1279.8,1188.2 1280.8,1188.2 1281.8,1188.2 1282.8,1188.2 1283.9,1188.2 1284.9,1188.2 1285.9,1188.2 1286.9,1188.2 1287.9,1188.2 1288.9,1188.2 1289.9,1188.2 1290.9,1188.3 1291.9,1188.3 1292.9,1188.3 1293.9,1188.3 1294.9,1188.3 1295.9,1188.3 1296.9,1188.3 1297.9,1188.3 1298.9,1188.3 1299.9,1188.3 1300.9,1188.3 1301.9,1188.3 1302.9,1188.3 1303.9,1188.3 1304.9,1188.3 1305.9,1188.3 1306.9,1188.3 1307.9,1188.4 1309.0,1188.4 1310.0,1188.4 1311.0,1188.4 1312.0,1188.4 1313.0,1188.4 1314.0,1188.4 1315.0,1188.4 1316.0,1188.4 1317.0,1188.4 1318.0,1188.4 1319.0,1188.4 1320.0,1188.4 1321.0,1188.4" fill="none" stroke="#e8383f" stroke-width="2.2"/><path d="M919.4,1176.6 920.4,1176.6 921.4,1176.6 922.4,1176.6 923.4,1176.6 924.4,1176.6 925.4,1176.6 926.4,1176.6 927.4,1176.6 928.4,1176.6 929.4,1176.6 930.4,1176.6 931.4,1176.6 932.5,1176.6 933.5,1176.6 934.5,1176.6 935.5,1176.6 936.5,1176.6 937.5,1176.6 938.5,1176.6 939.5,1176.6 940.5,1176.6 941.5,1176.6 942.5,1176.6 943.5,1176.6 944.5,1176.6 945.5,1176.6 946.5,1176.6 947.5,1176.6 948.5,1176.6 949.5,1176.6 950.5,1176.6 951.5,1176.6 952.5,1176.6 953.5,1176.6 954.5,1176.6 955.5,1176.6 956.5,1176.6 957.6,1176.6 958.6,1176.6 959.6,1176.6 960.6,1176.6 961.6,1176.6 962.6,1176.6 963.6,1176.6 964.6,1176.6 965.6,1176.6 966.6,1176.6 967.6,1176.6 968.6,1176.6 969.6,1176.6 970.6,1176.6 971.6,1176.6 972.6,1176.6 973.6,1176.6 974.6,1176.6 975.6,1176.6 976.6,1176.6 977.6,1176.6 978.6,1176.6 979.6,1176.6 980.6,1176.7 981.6,1176.7 982.7,1176.7 983.7,1176.7 984.7,1176.7 985.7,1176.7 986.7,1176.7 987.7,1176.7 988.7,1176.7 989.7,1176.7 990.7,1176.7 991.7,1176.7 992.7,1176.7 993.7,1176.7 994.7,1176.7 995.7,1176.7 996.7,1176.7 997.7,1176.7 998.7,1176.7 999.7,1176.7 1000.7,1176.7 1001.7,1176.7 1002.7,1176.7 1003.7,1176.7 1004.7,1176.7 1005.7,1176.7 1006.7,1176.7 1007.8,1176.7 1008.8,1176.7 1009.8,1176.7 1010.8,1176.7 1011.8,1176.7 1012.8,1176.7 1013.8,1176.7 1014.8,1176.7 1015.8,1176.7 1016.8,1176.7 1017.8,1176.7 1018.8,1176.7 1019.8,1176.7 1020.8,1176.8 1021.8,1176.8 1022.8,1176.8 1023.8,1176.8 1024.8,1176.8 1025.8,1176.8 1026.8,1176.8 1027.8,1176.8 1028.8,1176.8 1029.8,1176.8 1030.8,1176.8 1031.8,1176.8 1032.9,1176.8 1033.9,1176.8 1034.9,1176.8 1035.9,1176.8 1036.9,1176.8 1037.9,1176.8 1038.9,1176.8 1039.9,1176.8 1040.9,1176.8 1041.9,1176.8 1042.9,1176.8 1043.9,1176.9 1044.9,1176.9 1045.9,1176.9 1046.9,1176.9 1047.9,1176.9 1048.9,1176.9 1049.9,1176.9 1050.9,1176.9 1051.9,1176.9 1052.9,1176.9 1053.9,1176.9 1054.9,1176.9 1055.9,1176.9 1056.9,1176.9 1058.0,1176.9 1059.0,1177.0 1060.0,1177.0 1061.0,1177.0 1062.0,1177.0 1063.0,1177.0 1064.0,1177.0 1065.0,1177.0 1066.0,1177.0 1067.0,1177.0 1068.0,1177.1 1069.0,1177.1 1070.0,1177.1 1071.0,1177.1 1072.0,1177.1 1073.0,1177.1 1074.0,1177.2 1075.0,1177.2 1076.0,1177.2 1077.0,1177.2 1078.0,1177.3 1079.0,1177.3 1080.0,1177.3 1081.0,1177.3 1082.0,1177.4 1083.1,1177.4 1084.1,1177.5 1085.1,1177.5 1086.1,1177.5 1087.1,1177.6 1088.1,1177.6 1089.1,1177.7 1090.1,1177.7 1091.1,1177.8 1092.1,1177.8 1093.1,1177.9 1094.1,1178.0 1095.1,1178.0 1096.1,1178.1 1097.1,1178.2 1098.1,1178.3 1099.1,1178.4 1100.1,1178.5 1101.1,1178.6 1102.1,1178.7 1103.1,1178.8 1104.1,1178.9 1105.1,1179.0 1106.1,1179.1 1107.1,1179.3 1108.2,1179.4 1109.2,1179.5 1110.2,1179.7 1111.2,1179.8 1112.2,1180.0 1113.2,1180.1 1114.2,1180.3 1115.2,1180.4 1116.2,1180.6 1117.2,1180.8 1118.2,1181.0 1119.2,1181.1 1120.2,1181.3 1121.2,1181.5 1122.2,1181.7 1123.2,1181.9 1124.2,1182.1 1125.2,1182.3 1126.2,1182.5 1127.2,1182.7 1128.2,1182.9 1129.2,1183.1 1130.2,1183.3 1131.2,1183.5 1132.2,1183.7 1133.3,1183.9 1134.3,1184.1 1135.3,1184.2 1136.3,1184.4 1137.3,1184.6 1138.3,1184.8 1139.3,1185.0 1140.3,1185.1 1141.3,1185.3 1142.3,1185.5 1143.3,1185.6 1144.3,1185.8 1145.3,1186.0 1146.3,1186.1 1147.3,1186.2 1148.3,1186.4 1149.3,1186.5 1150.3,1186.6 1151.3,1186.8 1152.3,1186.9 1153.3,1187.0 1154.3,1187.1 1155.3,1187.2 1156.3,1187.3 1157.3,1187.4 1158.4,1187.5 1159.4,1187.5 1160.4,1187.6 1161.4,1187.7 1162.4,1187.8 1163.4,1187.8 1164.4,1187.9 1165.4,1187.9 1166.4,1188.0 1167.4,1188.0 1168.4,1188.1 1169.4,1188.1 1170.4,1188.2 1171.4,1188.2 1172.4,1188.2 1173.4,1188.2 1174.4,1188.3 1175.4,1188.3 1176.4,1188.3 1177.4,1188.3 1178.4,1188.4 1179.4,1188.4 1180.4,1188.4 1181.4,1188.4 1182.4,1188.4 1183.5,1188.4 1184.5,1188.4 1185.5,1188.4 1186.5,1188.5 1187.5,1188.5 1188.5,1188.5 1189.5,1188.5 1190.5,1188.5 1191.5,1188.5 1192.5,1188.5 1193.5,1188.5 1194.5,1188.5 1195.5,1188.5 1196.5,1188.5 1197.5,1188.5 1198.5,1188.5 1199.5,1188.5 1200.5,1188.5 1201.5,1188.5 1202.5,1188.5 1203.5,1188.5 1204.5,1188.5 1205.5,1188.5 1206.5,1188.5 1207.5,1188.5 1208.6,1188.5 1209.6,1188.5 1210.6,1188.5 1211.6,1188.5 1212.6,1188.5 1213.6,1188.5 1214.6,1188.5 1215.6,1188.5 1216.6,1188.5 1217.6,1188.5 1218.6,1188.5 1219.6,1188.5 1220.6,1188.5 1221.6,1188.5 1222.6,1188.5 1223.6,1188.5 1224.6,1188.5 1225.6,1188.5 1226.6,1188.5 1227.6,1188.5 1228.6,1188.5 1229.6,1188.5 1230.6,1188.5 1231.6,1188.5 1232.6,1188.5 1233.7,1188.5 1234.7,1188.5 1235.7,1188.5 1236.7,1188.5 1237.7,1188.5 1238.7,1188.5 1239.7,1188.5 1240.7,1188.5 1241.7,1188.5 1242.7,1188.5 1243.7,1188.5 1244.7,1188.5 1245.7,1188.5 1246.7,1188.5 1247.7,1188.5 1248.7,1188.5 1249.7,1188.5 1250.7,1188.5 1251.7,1188.5 1252.7,1188.5 1253.7,1188.5 1254.7,1188.5 1255.7,1188.5 1256.7,1188.5 1257.7,1188.5 1258.8,1188.5 1259.8,1188.5 1260.8,1188.5 1261.8,1188.5 1262.8,1188.5 1263.8,1188.5 1264.8,1188.5 1265.8,1188.5 1266.8,1188.5 1267.8,1188.5 1268.8,1188.5 1269.8,1188.5 1270.8,1188.5 1271.8,1188.5 1272.8,1188.5 1273.8,1188.5 1274.8,1188.5 1275.8,1188.5 1276.8,1188.5 1277.8,1188.5 1278.8,1188.5 1279.8,1188.5 1280.8,1188.5 1281.8,1188.5 1282.8,1188.5 1283.9,1188.5 1284.9,1188.5 1285.9,1188.5 1286.9,1188.5 1287.9,1188.5 1288.9,1188.5 1289.9,1188.5 1290.9,1188.5 1291.9,1188.5 1292.9,1188.5 1293.9,1188.5 1294.9,1188.5 1295.9,1188.5 1296.9,1188.5 1297.9,1188.5 1298.9,1188.5 1299.9,1188.5 1300.9,1188.5 1301.9,1188.5 1302.9,1188.5 1303.9,1188.5 1304.9,1188.5 1305.9,1188.5 1306.9,1188.5 1307.9,1188.5 1309.0,1188.5 1310.0,1188.5 1311.0,1188.5 1312.0,1188.5 1313.0,1188.5 1314.0,1188.5 1315.0,1188.5 1316.0,1188.5 1317.0,1188.5 1318.0,1188.5 1319.0,1188.5 1320.0,1188.5 1321.0,1188.5" fill="none" stroke="#5db9e6" stroke-width="2.2"/><path d="M915.8,1174.1h3.8v3.8h-3.8zM919.8,1173.8h3.8v3.8h-3.8zM923.9,1174.3h3.8v3.8h-3.8zM928.0,1173.8h3.8v3.8h-3.8zM932.0,1174.2h3.8v3.8h-3.8zM936.1,1174.0h3.8v3.8h-3.8zM940.2,1174.4h3.8v3.8h-3.8zM944.2,1173.9h3.8v3.8h-3.8zM948.3,1174.7h3.8v3.8h-3.8zM952.4,1173.8h3.8v3.8h-3.8zM956.4,1173.8h3.8v3.8h-3.8zM960.5,1174.4h3.8v3.8h-3.8zM964.5,1174.7h3.8v3.8h-3.8zM968.6,1174.6h3.8v3.8h-3.8zM972.7,1174.5h3.8v3.8h-3.8zM976.7,1173.9h3.8v3.8h-3.8zM980.8,1173.9h3.8v3.8h-3.8zM984.9,1174.0h3.8v3.8h-3.8zM988.9,1173.9h3.8v3.8h-3.8zM993.0,1173.9h3.8v3.8h-3.8zM997.1,1174.0h3.8v3.8h-3.8zM1001.1,1174.1h3.8v3.8h-3.8zM1005.2,1174.0h3.8v3.8h-3.8zM1009.3,1174.5h3.8v3.8h-3.8zM1013.3,1174.5h3.8v3.8h-3.8zM1017.4,1173.8h3.8v3.8h-3.8zM1021.4,1174.1h3.8v3.8h-3.8zM1025.5,1173.9h3.8v3.8h-3.8zM1029.6,1172.7h3.8v3.8h-3.8zM1033.6,1172.9h3.8v3.8h-3.8zM1037.7,1171.9h3.8v3.8h-3.8zM1041.8,1171.1h3.8v3.8h-3.8zM1045.8,1170.3h3.8v3.8h-3.8zM1049.9,1169.9h3.8v3.8h-3.8zM1054.0,1168.5h3.8v3.8h-3.8zM1058.0,1167.0h3.8v3.8h-3.8zM1062.1,1165.7h3.8v3.8h-3.8zM1066.1,1162.3h3.8v3.8h-3.8zM1070.2,1159.7h3.8v3.8h-3.8zM1074.3,1156.8h3.8v3.8h-3.8zM1078.3,1151.0h3.8v3.8h-3.8zM1082.4,1145.3h3.8v3.8h-3.8zM1086.5,1138.8h3.8v3.8h-3.8zM1090.5,1129.2h3.8v3.8h-3.8zM1094.6,1118.5h3.8v3.8h-3.8zM1098.7,1101.5h3.8v3.8h-3.8zM1102.7,1086.2h3.8v3.8h-3.8zM1106.8,1067.7h3.8v3.8h-3.8zM1110.9,1048.4h3.8v3.8h-3.8zM1114.9,1031.8h3.8v3.8h-3.8zM1119.0,1018.0h3.8v3.8h-3.8zM1123.0,1009.5h3.8v3.8h-3.8zM1127.1,1008.2h3.8v3.8h-3.8zM1131.2,1015.2h3.8v3.8h-3.8zM1135.2,1025.7h3.8v3.8h-3.8zM1139.3,1041.1h3.8v3.8h-3.8zM1143.4,1057.7h3.8v3.8h-3.8zM1147.4,1084.0h3.8v3.8h-3.8zM1151.5,1099.9h3.8v3.8h-3.8zM1155.6,1114.8h3.8v3.8h-3.8zM1159.6,1130.2h3.8v3.8h-3.8zM1163.7,1141.6h3.8v3.8h-3.8zM1167.7,1147.9h3.8v3.8h-3.8zM1171.8,1153.0h3.8v3.8h-3.8zM1175.9,1158.1h3.8v3.8h-3.8zM1179.9,1162.9h3.8v3.8h-3.8zM1184.0,1167.1h3.8v3.8h-3.8zM1188.1,1169.9h3.8v3.8h-3.8zM1192.1,1172.7h3.8v3.8h-3.8zM1196.2,1174.2h3.8v3.8h-3.8zM1200.3,1175.5h3.8v3.8h-3.8zM1204.3,1176.0h3.8v3.8h-3.8zM1208.4,1176.2h3.8v3.8h-3.8zM1212.5,1176.3h3.8v3.8h-3.8zM1216.5,1176.8h3.8v3.8h-3.8zM1220.6,1177.0h3.8v3.8h-3.8zM1224.6,1177.8h3.8v3.8h-3.8zM1228.7,1178.1h3.8v3.8h-3.8zM1232.8,1178.1h3.8v3.8h-3.8zM1236.8,1179.1h3.8v3.8h-3.8zM1240.9,1180.4h3.8v3.8h-3.8zM1245.0,1180.6h3.8v3.8h-3.8zM1249.0,1182.1h3.8v3.8h-3.8zM1253.1,1182.7h3.8v3.8h-3.8zM1257.2,1183.0h3.8v3.8h-3.8zM1261.2,1183.7h3.8v3.8h-3.8zM1265.3,1184.7h3.8v3.8h-3.8zM1269.3,1184.3h3.8v3.8h-3.8zM1273.4,1185.1h3.8v3.8h-3.8zM1277.5,1185.9h3.8v3.8h-3.8zM1281.5,1185.4h3.8v3.8h-3.8zM1285.6,1186.1h3.8v3.8h-3.8zM1289.7,1185.9h3.8v3.8h-3.8zM1293.7,1186.5h3.8v3.8h-3.8zM1297.8,1186.7h3.8v3.8h-3.8zM1301.9,1186.6h3.8v3.8h-3.8zM1305.9,1186.1h3.8v3.8h-3.8zM1310.0,1186.9h3.8v3.8h-3.8zM1314.1,1186.3h3.8v3.8h-3.8zM1318.1,1186.8h3.8v3.8h-3.8z" fill="#000" fill-opacity="0.45"/><rect x="236.0" y="33.8" width="406.0" height="1194.0" fill="none" stroke="#000" stroke-width="4.8" stroke-linejoin="round"/><path d="M236.0,86.4 H312.5 V33.8" fill="none" stroke="#000" stroke-width="3.4" stroke-linejoin="round"/><line x1="439.0" y1="1215" x2="439.0" y2="1227.8" stroke="#000" stroke-width="5"/><line x1="519.4" y1="67" x2="551.1" y2="67" stroke="#ec1c24" stroke-width="4.2"/><line x1="519.4" y1="99.4" x2="551.1" y2="99.4" stroke="#1ea5e6" stroke-width="4.2"/><rect x="917.0" y="34.0" width="406.4" height="1193.8" fill="none" stroke="#000" stroke-width="4.8" stroke-linejoin="round"/><path d="M917.0,86.0 H994.0 V34.0" fill="none" stroke="#000" stroke-width="3.4" stroke-linejoin="round"/><line x1="1120.2" y1="1215" x2="1120.2" y2="1227.8" stroke="#000" stroke-width="5"/><line x1="1199.4" y1="67" x2="1231.1000000000001" y2="67" stroke="#ec1c24" stroke-width="4.2"/><line x1="1199.4" y1="99.4" x2="1231.1000000000001" y2="99.4" stroke="#1ea5e6" stroke-width="4.2"/><g font-family='"Liberation Sans", sans-serif' fill="#000" stroke="#000" stroke-width="0.4"><text x="0.5" y="28.9" font-size="33" text-anchor="start" >(a)</text><text x="821.2" y="29.0" font-size="33" text-anchor="start" >(b)</text><text x="239.8" y="69.6" font-size="30.8" text-anchor="start" >In 3d</text><text x="921.0" y="69.5" font-size="30.8" text-anchor="start" >In 3d</text><text x="558.9" y="76.7" font-size="30.8" text-anchor="start" >InP</text><text x="558.3" y="108.3" font-size="30.4" text-anchor="start" >Oxide</text><text x="1237.4" y="76.7" font-size="30.8" text-anchor="start" >InP</text><text x="1236.8000000000002" y="108.3" font-size="30.4" text-anchor="start" >Oxide</text><text x="234.8" y="1259.8" font-size="31" text-anchor="middle" >450</text><text x="437.8" y="1259.8" font-size="31" text-anchor="middle" >445</text><text x="640.8" y="1259.8" font-size="31" text-anchor="middle" >440</text><text x="438.5" y="1293.0" font-size="33.6" text-anchor="middle" letter-spacing="0.35">Binding Energy / eV</text><text x="915.8" y="1259.8" font-size="31" text-anchor="middle" >450</text><text x="1119.0" y="1259.8" font-size="31" text-anchor="middle" >445</text><text x="1322.2" y="1259.8" font-size="31" text-anchor="middle" >440</text><text x="1119.7" y="1293.0" font-size="33.6" text-anchor="middle" letter-spacing="0.35">Binding Energy / eV</text><text x="0" y="0" font-size="36.0" text-anchor="middle" transform="translate(223,637.5) rotate(-90)">Intensity / a.u.</text><text x="0" y="0" font-size="36.0" text-anchor="middle" transform="translate(904.5,637.5) rotate(-90)">Intensity / a.u.</text><text x="97.8" y="186.7" font-size="30.5" text-anchor="middle" >GO/InP</text><text x="97.8" y="224.0" font-size="30.3" text-anchor="middle" >before etching</text><text x="97.8" y="420.3" font-size="30.5" text-anchor="middle" >InP</text><text x="97.8" y="461.2" font-size="30.3" text-anchor="middle" >H<tspan font-size="22.5" dy="3.2">2</tspan><tspan dy="-3.2">SO</tspan><tspan font-size="22.5" dy="3.2">4</tspan><tspan dy="-3.2">-</tspan>H<tspan font-size="22.5" dy="3.2">2</tspan><tspan dy="-3.2">O</tspan><tspan font-size="22.5" dy="3.2">2</tspan></text><text x="97.8" y="653.8" font-size="30.5" text-anchor="middle" >GO/InP</text><text x="97.8" y="694.4" font-size="30.3" text-anchor="middle" >H<tspan font-size="22.5" dy="3.2">2</tspan><tspan dy="-3.2">SO</tspan><tspan font-size="22.5" dy="3.2">4</tspan><tspan dy="-3.2">-</tspan>H<tspan font-size="22.5" dy="3.2">2</tspan><tspan dy="-3.2">O</tspan><tspan font-size="22.5" dy="3.2">2</tspan></text><text x="97.8" y="887.0" font-size="30.5" text-anchor="middle" >InP</text><text x="97.8" y="926.3" font-size="30.3" text-anchor="middle" >H<tspan font-size="22.5" dy="3.2">2</tspan><tspan dy="-3.2">SO</tspan><tspan font-size="22.5" dy="3.2">4</tspan><tspan dy="-3.2">-</tspan>HNO<tspan font-size="22.5" dy="3.2">3</tspan></text><text x="97.8" y="1120.9" font-size="30.5" text-anchor="middle" >GO/InP</text><text x="97.8" y="1159.8" font-size="30.3" text-anchor="middle" >H<tspan font-size="22.5" dy="3.2">2</tspan><tspan dy="-3.2">SO</tspan><tspan font-size="22.5" dy="3.2">4</tspan><tspan dy="-3.2">-</tspan>HNO<tspan font-size="22.5" dy="3.2">3</tspan></text><text x="785.4" y="173.7" font-size="30.5" text-anchor="middle" >GO/InP</text><text x="785.4" y="211.2" font-size="30.3" text-anchor="middle" >before etching</text><text x="785.4" y="412.9" font-size="30.5" text-anchor="middle" >InP</text><text x="785.4" y="453.3" font-size="30.3" text-anchor="middle" >HCl-H<tspan font-size="22.5" dy="3.2">2</tspan><tspan dy="-3.2">O</tspan><tspan font-size="22.5" dy="3.2">2</tspan></text><text x="785.4" y="650.9" font-size="30.5" text-anchor="middle" >GO/InP</text><text x="785.4" y="691.3" font-size="30.3" text-anchor="middle" >HCl-H<tspan font-size="22.5" dy="3.2">2</tspan><tspan dy="-3.2">O</tspan><tspan font-size="22.5" dy="3.2">2</tspan></text><text x="785.4" y="887.0" font-size="30.5" text-anchor="middle" >InP</text><text x="785.4" y="927.8" font-size="30.3" text-anchor="middle" >HCl-HNO<tspan font-size="22.5" dy="3.2">3</tspan></text><text x="785.4" y="1126.5" font-size="30.5" text-anchor="middle" >GO/InP</text><text x="785.4" y="1165.7" font-size="30.3" text-anchor="middle" >HCl-HNO<tspan font-size="22.5" dy="3.2">3</tspan></text><text x="555.0" y="339.1" font-size="30" text-anchor="start" >R<tspan font-size="21.3" dy="2.9">oxide</tspan></text><text x="590.0" y="410.3" font-size="31" text-anchor="middle" >0.45</text><text x="590.0" y="672.0" font-size="31" text-anchor="middle" >0.48</text><text x="590.0" y="878.3" font-size="31" text-anchor="middle" >0.32</text><text x="590.0" y="1104.2" font-size="31" text-anchor="middle" >0.59</text></g></svg>
</body></html>
